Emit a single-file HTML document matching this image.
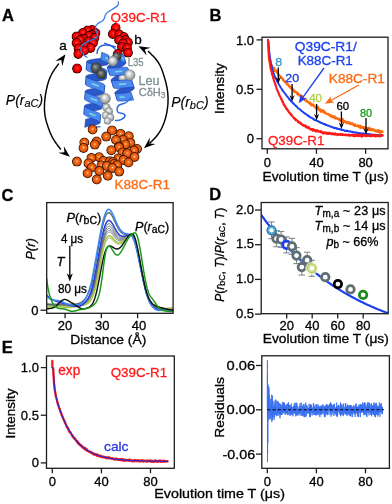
<!DOCTYPE html>
<html><head><meta charset="utf-8"><style>
html,body{margin:0;padding:0;background:#fff;}
svg{display:block;will-change:transform;}
</style></head><body>
<svg width="392" height="504" viewBox="0 0 392 504" font-family="Liberation Sans, sans-serif">
<defs><radialGradient id="gR" cx="0.5" cy="0.5" r="0.5" fx="0.55" fy="0.42"><stop offset="0" stop-color="#ff4a4a"/><stop offset="0.35" stop-color="#ff0808"/><stop offset="0.7" stop-color="#e00000"/><stop offset="0.84" stop-color="#8a0000"/><stop offset="0.94" stop-color="#280000"/><stop offset="1" stop-color="#200000" stop-opacity="0.6"/></radialGradient>
<radialGradient id="gO" cx="0.5" cy="0.5" r="0.5" fx="0.5" fy="0.45"><stop offset="0" stop-color="#ffe0c8"/><stop offset="0.14" stop-color="#ff9650"/><stop offset="0.32" stop-color="#f06818"/><stop offset="0.68" stop-color="#e25a10"/><stop offset="0.8" stop-color="#a03800"/><stop offset="0.92" stop-color="#3a1400"/><stop offset="1" stop-color="#201000" stop-opacity="0.6"/></radialGradient>
<radialGradient id="gW" cx="0.5" cy="0.5" r="0.55" fx="0.4" fy="0.35"><stop offset="0" stop-color="#ffffff"/><stop offset="0.4" stop-color="#d0d4d4"/><stop offset="0.85" stop-color="#8a9090"/><stop offset="1" stop-color="#404444"/></radialGradient>
<radialGradient id="gK" cx="0.5" cy="0.5" r="0.55" fx="0.4" fy="0.35"><stop offset="0" stop-color="#a0a8a8"/><stop offset="0.4" stop-color="#606868"/><stop offset="0.85" stop-color="#353a3a"/><stop offset="1" stop-color="#202020"/></radialGradient>
<clipPath id="clipC"><rect x="46.7" y="202.6" width="126.4" height="110.7"/></clipPath><clipPath id="clipD"><rect x="261.2" y="202.5" width="127" height="111.2"/></clipPath></defs>
<rect width="392" height="504" fill="#fff"/>
<text x="209.50" y="21.00" font-size="16.5" fill="#000" stroke="#000" stroke-width="0.3" text-anchor="start" font-weight="bold">B</text>
<path d="M268.0,39.7 L268.3,46.4 L268.6,54.2 L268.9,59.0 L269.1,59.8 L269.4,61.3 L269.7,62.6 L270.0,62.5 L270.2,63.2 L270.5,63.6 L270.8,64.2 L271.0,64.3 L271.3,65.4 L271.6,65.4 L271.9,66.0 L272.1,65.7 L272.4,66.4 L272.7,67.0 L273.0,67.6 L273.2,67.7 L273.5,67.9 L273.8,68.4 L274.1,67.8 L274.3,68.4 L274.6,70.9 L274.9,70.8 L275.1,70.1 L275.4,70.6 L275.7,70.6 L276.0,70.9 L276.2,70.2 L276.5,72.4 L276.8,72.3 L277.1,71.2 L277.3,72.4 L277.6,72.7 L277.9,73.7 L278.2,74.7 L278.4,74.0 L278.7,74.4 L279.0,75.5 L279.2,75.5 L279.5,75.4 L279.8,76.3 L280.1,76.1 L280.3,76.3 L280.6,76.7 L280.9,77.3 L281.2,77.0 L281.4,77.1 L281.7,77.8 L282.0,78.7 L282.3,78.1 L282.5,79.2 L282.8,78.7 L283.1,80.1 L283.3,79.2 L283.6,80.1 L283.9,81.1 L284.2,80.9 L284.4,81.0 L284.7,81.1 L285.0,82.2 L285.3,82.5 L285.5,82.0 L285.8,82.7 L286.1,82.6 L286.4,82.6 L286.6,84.3 L286.9,83.5 L287.2,83.2 L287.4,84.3 L287.7,84.9 L288.0,84.3 L288.3,84.9 L288.5,84.8 L288.8,85.8 L289.1,86.7 L289.4,86.2 L289.6,86.6 L289.9,86.2 L290.2,86.8 L290.5,88.2 L290.7,88.2 L291.0,87.2 L291.3,87.6 L291.5,88.6 L291.8,88.5 L292.1,88.5 L292.4,88.8 L292.6,88.8 L292.9,89.4 L293.2,89.9 L293.5,90.2 L293.7,89.7 L294.0,91.9 L294.3,90.9 L294.6,91.0 L294.8,92.2 L295.1,91.4 L295.4,92.2 L295.6,91.5 L295.9,92.4 L296.2,92.1 L296.5,92.1 L296.7,92.8 L297.0,93.8 L297.3,94.4 L297.6,92.7 L297.8,94.0 L298.1,94.6 L298.4,94.3 L298.7,94.8 L298.9,94.4 L299.2,95.1 L299.5,95.3 L299.7,96.0 L300.0,95.5 L300.3,96.6 L300.6,95.9 L300.8,95.6 L301.1,97.6 L301.4,98.4 L301.7,96.8 L301.9,95.9 L302.2,98.2 L302.5,98.5 L302.8,97.7 L303.0,98.7 L303.3,98.7 L303.6,98.9 L303.8,98.6 L304.1,99.3 L304.4,99.1 L304.7,99.6 L304.9,100.2 L305.2,100.1 L305.5,100.7 L305.8,100.3 L306.0,101.2 L306.3,101.4 L306.6,100.1 L306.9,101.2 L307.1,101.4 L307.4,101.2 L307.7,102.0 L307.9,102.1 L308.2,101.9 L308.5,102.2 L308.8,103.2 L309.0,102.2 L309.3,103.3 L309.6,103.7 L309.9,103.8 L310.1,103.7 L310.4,102.7 L310.7,104.6 L311.0,104.0 L311.2,105.5 L311.5,104.4 L311.8,104.1 L312.1,104.9 L312.3,105.3 L312.6,105.0 L312.9,104.9 L313.1,105.1 L313.4,104.5 L313.7,105.8 L314.0,106.4 L314.2,106.3 L314.5,106.5 L314.8,106.5 L315.1,106.8 L315.3,106.8 L315.6,108.1 L315.9,106.8 L316.2,107.8 L316.4,108.3 L316.7,107.4 L317.0,107.2 L317.2,107.8 L317.5,108.2 L317.8,109.0 L318.1,106.9 L318.3,108.3 L318.6,109.6 L318.9,109.6 L319.2,109.2 L319.4,110.4 L319.7,109.5 L320.0,110.0 L320.3,109.2 L320.5,109.5 L320.8,111.8 L321.1,110.4 L321.3,111.5 L321.6,110.0 L321.9,110.8 L322.2,110.7 L322.4,111.8 L322.7,110.2 L323.0,110.3 L323.3,112.3 L323.5,111.6 L323.8,112.3 L324.1,112.1 L324.4,113.0 L324.6,111.3 L324.9,113.1 L325.2,112.8 L325.4,112.5 L325.7,113.3 L326.0,113.2 L326.3,113.6 L326.5,113.5 L326.8,114.2 L327.1,113.9 L327.4,113.9 L327.6,114.1 L327.9,114.1 L328.2,114.4 L328.5,113.9 L328.7,114.7 L329.0,114.7 L329.3,115.2 L329.5,115.2 L329.8,115.8 L330.1,114.9 L330.4,116.0 L330.6,115.9 L330.9,115.4 L331.2,115.5 L331.5,116.1 L331.7,117.2 L332.0,115.9 L332.3,116.1 L332.6,117.2 L332.8,116.0 L333.1,117.0 L333.4,117.4 L333.6,116.8 L333.9,117.1 L334.2,117.0 L334.5,118.2 L334.7,116.3 L335.0,117.8 L335.3,118.5 L335.6,117.4 L335.8,118.1 L336.1,117.8 L336.4,118.3 L336.7,118.3 L336.9,118.2 L337.2,118.9 L337.5,118.2 L337.7,119.0 L338.0,119.3 L338.3,118.9 L338.6,118.8 L338.8,119.3 L339.1,119.8 L339.4,119.0 L339.7,120.5 L339.9,120.2 L340.2,119.7 L340.5,120.6 L340.8,119.9 L341.0,120.1 L341.3,119.6 L341.6,120.8 L341.8,120.8 L342.1,120.3 L342.4,122.1 L342.7,118.9 L342.9,121.2 L343.2,121.4 L343.5,120.5 L343.8,121.2 L344.0,122.3 L344.3,121.0 L344.6,120.9 L344.9,121.8 L345.1,121.8 L345.4,121.5 L345.7,122.4 L345.9,121.7 L346.2,122.0 L346.5,122.6 L346.8,123.1 L347.0,122.5 L347.3,123.0 L347.6,122.0 L347.9,122.6 L348.1,122.3 L348.4,122.8 L348.7,122.8 L349.0,123.5 L349.2,122.8 L349.5,122.2 L349.8,123.5 L350.0,123.8 L350.3,123.6 L350.6,123.9 L350.9,124.1 L351.1,123.7 L351.4,124.1 L351.7,123.1 L352.0,124.1 L352.2,124.0 L352.5,123.7 L352.8,124.5 L353.1,123.6 L353.3,124.9 L353.6,125.1 L353.9,124.9 L354.1,124.9 L354.4,125.7 L354.7,125.0 L355.0,126.1 L355.2,124.3 L355.5,125.3 L355.8,125.7 L356.1,126.0 L356.3,125.7 L356.6,125.7 L356.9,126.3 L357.2,126.3 L357.4,125.9 L357.7,126.2 L358.0,125.4 L358.3,125.4 L358.5,126.2 L358.8,126.0 L359.1,127.1 L359.3,126.0 L359.6,126.5 L359.9,126.3 L360.2,125.7 L360.4,128.1 L360.7,126.7 L361.0,127.5 L361.3,126.6 L361.5,127.8 L361.8,127.4 L362.1,127.1 L362.4,126.9 L362.6,127.3 L362.9,127.9 L363.2,127.8 L363.4,127.0 L363.7,127.6 L364.0,128.7 L364.3,127.3 L364.5,127.6 L364.8,127.4 L365.1,128.2 L365.4,127.6 L365.6,128.8 L365.9,127.9 L366.2,128.6 L366.5,128.0 L366.7,127.8 L367.0,129.0 L367.3,128.6 L367.5,128.6 L367.8,128.0 L368.1,128.4 L368.4,129.6 L368.6,128.7 L368.9,128.6 L369.2,127.8 L369.5,130.1 L369.7,129.5 L370.0,128.5 L370.3,130.1 L370.6,130.1 L370.8,129.2 L371.1,128.9 L371.4,130.0 L371.6,129.3 L371.9,129.7 L372.2,128.9 L372.5,129.9 L372.7,129.3 L373.0,130.5 L373.3,130.2 L373.6,130.2 L373.8,129.5 L374.1,129.9 L374.4,130.7 L374.7,130.0 L374.9,130.0 L375.2,130.5 L375.5,130.7 L375.7,130.7 L376.0,131.7 L376.3,130.6 L376.6,130.6 L376.8,131.4 L377.1,130.5 L377.4,131.8 L377.7,131.3 L377.9,131.4 L378.2,130.0 L378.5,132.1 L378.8,130.9 L379.0,130.8 L379.3,131.1 L379.6,130.7 L379.8,132.1 L380.1,132.9 L380.4,131.1 L380.7,132.4 L380.9,131.9 L381.2,132.5 L381.5,131.2 L381.8,131.4 L382.0,132.3 L382.3,131.4 L382.6,132.0" fill="none" stroke="#ff6a10" stroke-width="2.1" stroke-linejoin="round" stroke-linecap="round" />
<path d="M268.0,39.9 L268.3,41.7 L268.6,44.9 L268.9,47.6 L269.1,50.2 L269.4,52.7 L269.7,54.7 L270.0,56.9 L270.2,58.6 L270.5,60.3 L270.8,61.7 L271.0,63.4 L271.3,64.5 L271.6,65.9 L271.9,67.2 L272.1,68.4 L272.4,69.2 L272.7,70.3 L273.0,71.4 L273.2,72.2 L273.5,73.0 L273.8,73.8 L274.1,74.3 L274.3,75.0 L274.6,75.8 L274.9,76.5 L275.1,77.3 L275.4,77.8 L275.7,78.3 L276.0,78.7 L276.2,79.5 L276.5,80.2 L276.8,80.7 L277.1,81.3 L277.3,81.9 L277.6,82.3 L277.9,82.8 L278.2,83.0 L278.4,83.7 L278.7,84.0 L279.0,84.4 L279.2,85.1 L279.5,85.4 L279.8,85.9 L280.1,86.6 L280.3,86.9 L280.6,87.3 L280.9,87.8 L281.2,88.2 L281.4,88.6 L281.7,89.0 L282.0,89.6 L282.3,89.8 L282.5,90.4 L282.8,90.6 L283.1,90.9 L283.3,91.4 L283.6,91.7 L283.9,92.1 L284.2,92.6 L284.4,92.9 L284.7,93.2 L285.0,93.5 L285.3,93.9 L285.5,94.0 L285.8,94.7 L286.1,94.9 L286.4,95.2 L286.6,95.8 L286.9,96.2 L287.2,96.6 L287.4,96.7 L287.7,96.9 L288.0,97.4 L288.3,97.7 L288.5,98.1 L288.8,98.3 L289.1,99.1 L289.4,99.0 L289.6,99.4 L289.9,99.9 L290.2,99.7 L290.5,100.5 L290.7,100.8 L291.0,101.1 L291.3,101.0 L291.5,101.6 L291.8,101.7 L292.1,102.0 L292.4,102.3 L292.6,102.9 L292.9,103.0 L293.2,103.0 L293.5,103.7 L293.7,103.9 L294.0,104.1 L294.3,104.2 L294.6,104.6 L294.8,104.8 L295.1,105.3 L295.4,105.3 L295.6,105.6 L295.9,106.2 L296.2,106.0 L296.5,106.1 L296.7,106.8 L297.0,107.0 L297.3,107.0 L297.6,107.7 L297.8,108.0 L298.1,108.2 L298.4,108.3 L298.7,108.5 L298.9,108.6 L299.2,108.9 L299.5,109.3 L299.7,109.3 L300.0,109.3 L300.3,109.7 L300.6,109.9 L300.8,110.3 L301.1,110.4 L301.4,110.9 L301.7,110.9 L301.9,111.2 L302.2,111.2 L302.5,111.6 L302.8,112.0 L303.0,112.0 L303.3,112.1 L303.6,112.6 L303.8,112.8 L304.1,113.0 L304.4,113.3 L304.7,113.1 L304.9,113.3 L305.2,113.6 L305.5,113.8 L305.8,114.1 L306.0,114.2 L306.3,114.6 L306.6,114.5 L306.9,114.7 L307.1,114.9 L307.4,115.3 L307.7,115.4 L307.9,115.6 L308.2,115.5 L308.5,115.9 L308.8,116.4 L309.0,116.2 L309.3,116.2 L309.6,116.5 L309.9,116.7 L310.1,117.0 L310.4,117.4 L310.7,117.6 L311.0,117.7 L311.2,117.7 L311.5,117.8 L311.8,117.9 L312.1,118.2 L312.3,118.2 L312.6,118.5 L312.9,118.7 L313.1,118.6 L313.4,119.1 L313.7,119.5 L314.0,119.4 L314.2,119.4 L314.5,120.0 L314.8,119.7 L315.1,119.9 L315.3,120.2 L315.6,120.3 L315.9,120.3 L316.2,120.5 L316.4,120.4 L316.7,120.6 L317.0,121.1 L317.2,121.1 L317.5,121.0 L317.8,121.0 L318.1,121.3 L318.3,121.5 L318.6,121.4 L318.9,121.8 L319.2,122.0 L319.4,122.3 L319.7,122.2 L320.0,122.0 L320.3,122.6 L320.5,122.5 L320.8,122.9 L321.1,122.8 L321.3,122.8 L321.6,123.1 L321.9,123.1 L322.2,123.2 L322.4,123.3 L322.7,123.3 L323.0,123.5 L323.3,123.8 L323.5,124.0 L323.8,124.1 L324.1,124.0 L324.4,124.3 L324.6,123.9 L324.9,124.2 L325.2,124.6 L325.4,124.7 L325.7,124.5 L326.0,125.1 L326.3,125.0 L326.5,124.9 L326.8,125.3 L327.1,125.3 L327.4,125.4 L327.6,125.4 L327.9,125.6 L328.2,125.6 L328.5,125.7 L328.7,125.9 L329.0,125.8 L329.3,126.2 L329.5,126.4 L329.8,126.5 L330.1,126.6 L330.4,126.5 L330.6,126.4 L330.9,126.6 L331.2,126.8 L331.5,127.0 L331.7,127.0 L332.0,127.1 L332.3,127.2 L332.6,127.4 L332.8,127.3 L333.1,127.2 L333.4,127.8 L333.6,127.6 L333.9,127.9 L334.2,127.7 L334.5,127.9 L334.7,128.2 L335.0,127.9 L335.3,127.7 L335.6,128.1 L335.8,128.0 L336.1,128.3 L336.4,128.7 L336.7,128.3 L336.9,128.5 L337.2,128.8 L337.5,128.5 L337.7,128.7 L338.0,128.9 L338.3,128.7 L338.6,129.1 L338.8,128.9 L339.1,129.2 L339.4,129.1 L339.7,129.4 L339.9,129.1 L340.2,129.3 L340.5,129.2 L340.8,129.6 L341.0,129.6 L341.3,129.5 L341.6,130.1 L341.8,129.9 L342.1,129.7 L342.4,129.8 L342.7,129.8 L342.9,130.1 L343.2,130.0 L343.5,130.3 L343.8,130.4 L344.0,130.5 L344.3,130.4 L344.6,130.5 L344.9,130.6 L345.1,131.1 L345.4,130.9 L345.7,130.7 L345.9,130.7 L346.2,130.9 L346.5,131.0 L346.8,131.2 L347.0,130.6 L347.3,131.2 L347.6,130.8 L347.9,130.9 L348.1,131.1 L348.4,131.3 L348.7,131.3 L349.0,131.5 L349.2,131.3 L349.5,131.4 L349.8,131.4 L350.0,131.4 L350.3,131.3 L350.6,131.7 L350.9,131.5 L351.1,131.9 L351.4,131.9 L351.7,131.9 L352.0,132.0 L352.2,131.8 L352.5,131.8 L352.8,131.8 L353.1,132.1 L353.3,132.1 L353.6,132.3 L353.9,132.4 L354.1,132.2 L354.4,132.3 L354.7,132.5 L355.0,132.3 L355.2,132.7 L355.5,132.5 L355.8,132.6 L356.1,132.7 L356.3,132.8 L356.6,132.5 L356.9,132.6 L357.2,132.6 L357.4,132.8 L357.7,133.0 L358.0,132.9 L358.3,133.1 L358.5,132.9 L358.8,132.8 L359.1,133.0 L359.3,133.2 L359.6,133.2 L359.9,133.1 L360.2,133.4 L360.4,133.2 L360.7,133.2 L361.0,133.4 L361.3,133.4 L361.5,133.4 L361.8,133.5 L362.1,133.6 L362.4,133.4 L362.6,133.5 L362.9,133.3 L363.2,133.7 L363.4,133.9 L363.7,133.5 L364.0,133.6 L364.3,133.8 L364.5,134.0 L364.8,133.8 L365.1,134.1 L365.4,133.9 L365.6,134.2 L365.9,134.0 L366.2,134.3 L366.5,134.0 L366.7,133.8 L367.0,134.1 L367.3,134.0 L367.5,134.2 L367.8,134.3 L368.1,134.4 L368.4,134.1 L368.6,134.3 L368.9,134.0 L369.2,134.5 L369.5,134.4 L369.7,134.4 L370.0,134.2 L370.3,134.2 L370.6,134.6 L370.8,134.7 L371.1,134.8 L371.4,134.3 L371.6,134.6 L371.9,134.7 L372.2,134.6 L372.5,135.0 L372.7,134.9 L373.0,134.6 L373.3,134.7 L373.6,134.7 L373.8,134.9 L374.1,134.7 L374.4,134.6 L374.7,135.0 L374.9,134.9 L375.2,135.0 L375.5,134.9 L375.7,135.0 L376.0,135.0 L376.3,135.1 L376.6,135.0 L376.8,135.1 L377.1,135.1 L377.4,135.1 L377.7,135.0 L377.9,135.2 L378.2,135.2 L378.5,135.0 L378.8,135.2 L379.0,135.3 L379.3,135.1 L379.6,135.2 L379.8,135.3 L380.1,135.3 L380.4,135.5 L380.7,135.3 L380.9,135.2 L381.2,135.3 L381.5,135.6 L381.8,135.4 L382.0,135.6 L382.3,135.5 L382.6,135.5" fill="none" stroke="#1a3ff0" stroke-width="1.9" stroke-linejoin="round" stroke-linecap="round" />
<path d="M268.0,40.4 L268.3,42.9 L268.6,48.9 L268.9,52.8 L269.1,56.3 L269.4,58.9 L269.7,61.4 L270.0,64.5 L270.2,65.7 L270.5,68.1 L270.8,68.9 L271.0,69.7 L271.3,70.9 L271.6,71.8 L271.9,73.6 L272.1,74.3 L272.4,75.4 L272.7,75.9 L273.0,76.7 L273.2,78.4 L273.5,77.7 L273.8,80.1 L274.1,81.1 L274.3,81.5 L274.6,82.3 L274.9,83.2 L275.1,84.4 L275.4,84.4 L275.7,85.7 L276.0,85.9 L276.2,86.7 L276.5,88.5 L276.8,89.1 L277.1,89.8 L277.3,90.0 L277.6,90.8 L277.9,91.4 L278.2,92.5 L278.4,92.7 L278.7,92.9 L279.0,94.7 L279.2,94.8 L279.5,95.3 L279.8,96.0 L280.1,96.7 L280.3,96.5 L280.6,97.3 L280.9,98.0 L281.2,99.2 L281.4,98.6 L281.7,99.9 L282.0,100.8 L282.3,101.2 L282.5,101.8 L282.8,101.3 L283.1,102.6 L283.3,103.1 L283.6,104.5 L283.9,103.9 L284.2,105.1 L284.4,105.6 L284.7,105.3 L285.0,106.4 L285.3,106.2 L285.5,106.5 L285.8,108.1 L286.1,107.9 L286.4,108.8 L286.6,108.7 L286.9,108.7 L287.2,110.0 L287.4,109.2 L287.7,110.4 L288.0,111.1 L288.3,111.1 L288.5,111.1 L288.8,112.3 L289.1,112.1 L289.4,113.0 L289.6,112.4 L289.9,113.1 L290.2,113.7 L290.5,113.5 L290.7,114.7 L291.0,114.7 L291.3,114.1 L291.5,115.2 L291.8,115.0 L292.1,115.7 L292.4,116.4 L292.6,116.5 L292.9,116.7 L293.2,117.2 L293.5,117.6 L293.7,117.9 L294.0,118.4 L294.3,118.1 L294.6,118.2 L294.8,118.4 L295.1,119.6 L295.4,118.9 L295.6,119.4 L295.9,120.3 L296.2,119.9 L296.5,119.9 L296.7,120.2 L297.0,120.4 L297.3,120.5 L297.6,120.8 L297.8,121.4 L298.1,122.4 L298.4,122.1 L298.7,121.9 L298.9,122.4 L299.2,122.1 L299.5,122.3 L299.7,122.8 L300.0,122.3 L300.3,123.6 L300.6,123.0 L300.8,123.8 L301.1,124.1 L301.4,123.7 L301.7,124.4 L301.9,124.0 L302.2,125.0 L302.5,124.7 L302.8,125.2 L303.0,125.1 L303.3,125.3 L303.6,125.8 L303.8,125.2 L304.1,126.2 L304.4,126.2 L304.7,125.6 L304.9,125.7 L305.2,126.0 L305.5,126.3 L305.8,125.7 L306.0,127.2 L306.3,127.1 L306.6,127.4 L306.9,126.8 L307.1,127.1 L307.4,126.9 L307.7,127.1 L307.9,127.7 L308.2,128.1 L308.5,128.3 L308.8,127.1 L309.0,127.8 L309.3,128.0 L309.6,128.5 L309.9,128.6 L310.1,128.7 L310.4,128.8 L310.7,129.8 L311.0,129.0 L311.2,129.2 L311.5,129.0 L311.8,129.2 L312.1,129.0 L312.3,129.5 L312.6,129.2 L312.9,130.7 L313.1,130.2 L313.4,129.2 L313.7,130.4 L314.0,130.1 L314.2,129.8 L314.5,130.5 L314.8,130.0 L315.1,130.9 L315.3,131.2 L315.6,131.1 L315.9,131.3 L316.2,130.7 L316.4,130.9 L316.7,130.7 L317.0,131.4 L317.2,130.0 L317.5,131.1 L317.8,131.2 L318.1,131.1 L318.3,131.4 L318.6,131.6 L318.9,131.4 L319.2,131.2 L319.4,131.3 L319.7,131.3 L320.0,131.9 L320.3,132.1 L320.5,131.1 L320.8,132.0 L321.1,131.8 L321.3,131.7 L321.6,131.5 L321.9,132.7 L322.2,132.4 L322.4,132.4 L322.7,132.4 L323.0,133.3 L323.3,132.5 L323.5,133.6 L323.8,132.4 L324.1,132.4 L324.4,132.4 L324.6,133.2 L324.9,132.4 L325.2,133.1 L325.4,133.3 L325.7,133.3 L326.0,133.3 L326.3,132.9 L326.5,132.7 L326.8,133.9 L327.1,133.3 L327.4,132.8 L327.6,133.1 L327.9,133.0 L328.2,133.9 L328.5,132.9 L328.7,134.0 L329.0,133.3 L329.3,132.9 L329.5,132.7 L329.8,133.3 L330.1,133.2 L330.4,133.8 L330.6,133.8 L330.9,133.2 L331.2,133.7 L331.5,133.8 L331.7,134.3 L332.0,133.7 L332.3,133.6 L332.6,134.2 L332.8,134.1 L333.1,133.3 L333.4,133.9 L333.6,134.1 L333.9,134.5 L334.2,134.3 L334.5,134.2 L334.7,133.6 L335.0,134.4 L335.3,133.5 L335.6,134.6 L335.8,134.4 L336.1,133.9 L336.4,134.4 L336.7,134.6 L336.9,134.4 L337.2,134.2 L337.5,135.1 L337.7,134.5 L338.0,134.5 L338.3,134.6 L338.6,134.2 L338.8,134.7 L339.1,134.7 L339.4,134.5 L339.7,134.3 L339.9,134.7 L340.2,134.0 L340.5,135.0 L340.8,134.1 L341.0,135.0 L341.3,134.8 L341.6,134.6 L341.8,133.9 L342.1,134.4 L342.4,134.9 L342.7,134.3 L342.9,134.9 L343.2,135.1 L343.5,134.7 L343.8,134.8 L344.0,134.5 L344.3,135.1 L344.6,134.8 L344.9,134.7 L345.1,134.8 L345.4,135.0 L345.7,135.2 L345.9,134.6 L346.2,134.9 L346.5,134.8 L346.8,135.2 L347.0,135.0 L347.3,135.5 L347.6,135.0 L347.9,134.8 L348.1,135.1 L348.4,134.8 L348.7,135.0 L349.0,134.6 L349.2,135.2 L349.5,135.8 L349.8,135.0 L350.0,135.3 L350.3,135.6 L350.6,135.0 L350.9,135.1 L351.1,135.1 L351.4,135.4 L351.7,135.2 L352.0,135.2 L352.2,134.6 L352.5,135.6 L352.8,135.3 L353.1,135.2 L353.3,136.0 L353.6,136.0 L353.9,134.5 L354.1,136.1 L354.4,135.1 L354.7,135.7 L355.0,135.7 L355.2,136.2 L355.5,135.8 L355.8,135.1 L356.1,136.0 L356.3,135.2 L356.6,135.3 L356.9,134.6 L357.2,135.6 L357.4,135.0 L357.7,135.1 L358.0,135.6 L358.3,136.1 L358.5,134.9 L358.8,136.0 L359.1,135.7 L359.3,135.2 L359.6,135.1 L359.9,135.9 L360.2,135.5 L360.4,135.6 L360.7,135.1 L361.0,134.6 L361.3,136.3 L361.5,135.2 L361.8,136.7 L362.1,135.6 L362.4,136.0 L362.6,134.8 L362.9,135.5 L363.2,135.9 L363.4,135.8 L363.7,135.8 L364.0,135.5 L364.3,135.7 L364.5,135.4 L364.8,135.0 L365.1,135.4 L365.4,136.1 L365.6,136.3 L365.9,136.0 L366.2,135.2 L366.5,135.8 L366.7,135.9 L367.0,135.6 L367.3,136.2 L367.5,136.1 L367.8,135.5 L368.1,135.8 L368.4,135.9 L368.6,135.6 L368.9,135.9 L369.2,136.0 L369.5,135.9 L369.7,135.5 L370.0,135.7 L370.3,136.2 L370.6,135.9 L370.8,135.5 L371.1,135.0 L371.4,136.2 L371.6,135.6 L371.9,135.9 L372.2,135.4 L372.5,135.6 L372.7,135.2 L373.0,135.6 L373.3,136.0 L373.6,136.0 L373.8,135.6 L374.1,135.6 L374.4,134.8 L374.7,135.1 L374.9,136.3 L375.2,135.7 L375.5,136.3 L375.7,136.5 L376.0,135.5 L376.3,135.6 L376.6,136.2 L376.8,135.2 L377.1,136.2 L377.4,136.3 L377.7,135.6 L377.9,135.7 L378.2,135.9 L378.5,135.9 L378.8,135.7 L379.0,135.9 L379.3,135.9 L379.6,136.6 L379.8,136.4 L380.1,135.6 L380.4,136.1 L380.7,135.6 L380.9,135.4 L381.2,136.0 L381.5,135.7 L381.8,135.0 L382.0,135.6 L382.3,135.1 L382.6,135.3" fill="none" stroke="#ff1a1a" stroke-width="2.1" stroke-linejoin="round" stroke-linecap="round" />
<rect x="262" y="37.2" width="126" height="111.60000000000001" fill="none" stroke="#1e1e1e" stroke-width="1.3"/>
<line x1="256.50" y1="39.90" x2="262.00" y2="39.90" stroke="#1e1e1e" stroke-width="1.3" />
<text x="254.00" y="44.50" font-size="13" fill="#000" stroke="#000" stroke-width="0.3" text-anchor="end" >1.0</text>
<line x1="256.50" y1="89.30" x2="262.00" y2="89.30" stroke="#1e1e1e" stroke-width="1.3" />
<text x="254.00" y="93.90" font-size="13" fill="#000" stroke="#000" stroke-width="0.3" text-anchor="end" >0.5</text>
<line x1="256.50" y1="138.70" x2="262.00" y2="138.70" stroke="#1e1e1e" stroke-width="1.3" />
<text x="254.00" y="143.30" font-size="13" fill="#000" stroke="#000" stroke-width="0.3" text-anchor="end" >0</text>
<line x1="267.30" y1="148.80" x2="267.30" y2="153.80" stroke="#1e1e1e" stroke-width="1.3" />
<text x="267.30" y="167.00" font-size="13" fill="#000" stroke="#000" stroke-width="0.3" text-anchor="middle" >0</text>
<line x1="316.46" y1="148.80" x2="316.46" y2="153.80" stroke="#1e1e1e" stroke-width="1.3" />
<text x="316.46" y="167.00" font-size="13" fill="#000" stroke="#000" stroke-width="0.3" text-anchor="middle" >40</text>
<line x1="365.62" y1="148.80" x2="365.62" y2="153.80" stroke="#1e1e1e" stroke-width="1.3" />
<text x="365.62" y="167.00" font-size="13" fill="#000" stroke="#000" stroke-width="0.3" text-anchor="middle" >80</text>
<text x="262.50" y="180.80" font-size="13" fill="#000" stroke="#000" stroke-width="0.3" text-anchor="start" textLength="126" lengthAdjust="spacingAndGlyphs" >Evolution time T (μs)</text>
<text transform="translate(223.8,88.6) rotate(-90)" font-size="13" text-anchor="middle" fill="#000" textLength="51" lengthAdjust="spacingAndGlyphs" stroke="#000" stroke-width="0.3">Intensity</text>
<line x1="278.30" y1="67.50" x2="278.30" y2="79.10" stroke="#000" stroke-width="1.3" />
<path d="M278.30,83.60 L275.70,77.10 L278.30,79.30 L280.90,77.10 Z" fill="#000"/>
<line x1="292.10" y1="84.00" x2="292.10" y2="97.10" stroke="#000" stroke-width="1.3" />
<path d="M292.10,101.60 L289.50,95.10 L292.10,97.30 L294.70,95.10 Z" fill="#000"/>
<line x1="316.60" y1="104.00" x2="316.60" y2="115.70" stroke="#000" stroke-width="1.3" />
<path d="M316.60,120.20 L314.00,113.70 L316.60,115.90 L319.20,113.70 Z" fill="#000"/>
<line x1="341.40" y1="111.50" x2="341.40" y2="124.60" stroke="#000" stroke-width="1.3" />
<path d="M341.40,129.10 L338.80,122.60 L341.40,124.80 L344.00,122.60 Z" fill="#000"/>
<line x1="366.00" y1="118.00" x2="366.00" y2="130.00" stroke="#000" stroke-width="1.3" />
<path d="M366.00,134.50 L363.40,128.00 L366.00,130.20 L368.60,128.00 Z" fill="#000"/>
<text x="275.20" y="65.70" font-size="11" fill="#3a9ad0" stroke="#3a9ad0" stroke-width="0.3" text-anchor="start" textLength="7" lengthAdjust="spacingAndGlyphs" >8</text>
<text x="285.30" y="82.00" font-size="11" fill="#2040e0" stroke="#2040e0" stroke-width="0.3" text-anchor="start" textLength="13.8" lengthAdjust="spacingAndGlyphs" >20</text>
<text x="309.20" y="102.40" font-size="11" fill="#b0d040" stroke="#b0d040" stroke-width="0.3" text-anchor="start" textLength="12.8" lengthAdjust="spacingAndGlyphs" >40</text>
<text x="336.40" y="110.20" font-size="11" fill="#000" stroke="#000" stroke-width="0.3" text-anchor="start" textLength="12.7" lengthAdjust="spacingAndGlyphs" >60</text>
<text x="359.90" y="116.80" font-size="11" fill="#1a9a1a" stroke="#1a9a1a" stroke-width="0.3" text-anchor="start" textLength="12.2" lengthAdjust="spacingAndGlyphs" >80</text>
<text x="294.80" y="51.30" font-size="13.3" fill="#1a3ff0" stroke="#1a3ff0" stroke-width="0.3" text-anchor="start" textLength="62" lengthAdjust="spacingAndGlyphs" >Q39C-R1/</text>
<text x="297.70" y="64.50" font-size="13.3" fill="#1a3ff0" stroke="#1a3ff0" stroke-width="0.3" text-anchor="start" textLength="55.1" lengthAdjust="spacingAndGlyphs" >K88C-R1</text>
<text x="328.80" y="83.20" font-size="12.8" fill="#ff6a10" stroke="#ff6a10" stroke-width="0.3" text-anchor="start" textLength="56" lengthAdjust="spacingAndGlyphs" >K88C-R1</text>
<text x="268.00" y="144.70" font-size="13.5" fill="#ff1a1a" stroke="#ff1a1a" stroke-width="0.3" text-anchor="start" textLength="56.3" lengthAdjust="spacingAndGlyphs" >Q39C-R1</text>
<line x1="324.00" y1="68.00" x2="302.70" y2="97.52" stroke="#1a3ff0" stroke-width="1.3" />
<path d="M298.60,103.20 L300.95,93.80 L302.58,97.69 L306.79,98.01 Z" fill="#1a3ff0"/>
<line x1="358.80" y1="85.00" x2="330.93" y2="100.41" stroke="#ff6a10" stroke-width="1.2" />
<path d="M324.80,103.80 L330.93,96.29 L330.75,100.51 L334.42,102.60 Z" fill="#ff6a10"/>
<text x="1.50" y="200.50" font-size="16.5" fill="#000" stroke="#000" stroke-width="0.3" text-anchor="start" font-weight="bold">C</text>
<path d="M46.6,305.4 L47.0,305.5 L47.4,305.6 L47.8,305.7 L48.2,305.8 L48.6,305.9 L49.0,305.9 L49.4,306.0 L49.8,306.0 L50.2,306.1 L50.6,306.1 L51.0,306.2 L51.4,306.2 L51.8,306.2 L52.2,306.1 L52.6,306.1 L53.0,306.1 L53.4,306.0 L53.8,306.0 L54.2,305.9 L54.6,305.8 L55.0,305.7 L55.4,305.6 L55.8,305.5 L56.2,305.4 L56.6,305.3 L57.0,305.2 L57.4,305.0 L57.7,304.9 L58.1,304.8 L58.5,304.6 L58.9,304.5 L59.3,304.4 L59.7,304.3 L60.1,304.3 L60.5,304.2 L60.9,304.1 L61.3,304.0 L61.7,304.0 L62.1,304.0 L62.5,303.9 L62.9,303.9 L63.3,303.9 L63.7,303.9 L64.1,303.9 L64.5,303.9 L64.9,304.0 L65.3,304.0 L65.7,304.1 L66.1,304.1 L66.5,304.1 L66.9,304.1 L67.3,304.2 L67.7,304.2 L68.1,304.2 L68.5,304.3 L68.9,304.3 L69.3,304.4 L69.7,304.4 L70.1,304.4 L70.5,304.4 L70.9,304.4 L71.3,304.4 L71.7,304.3 L72.1,304.3 L72.5,304.3 L72.9,304.3 L73.3,304.3 L73.7,304.3 L74.1,304.3 L74.5,304.3 L74.9,304.3 L75.2,304.3 L75.6,304.2 L76.0,304.2 L76.4,304.2 L76.8,304.2 L77.2,304.2 L77.6,304.3 L78.0,304.3 L78.4,304.2 L78.8,304.2 L79.2,304.2 L79.6,304.2 L80.0,304.2 L80.4,304.3 L80.8,304.3 L81.2,304.2 L81.6,304.2 L82.0,304.1 L82.4,304.1 L82.8,304.0 L83.2,303.9 L83.6,303.8 L84.0,303.7 L84.4,303.6 L84.8,303.5 L85.2,303.3 L85.6,303.1 L86.0,302.9 L86.4,302.7 L86.8,302.4 L87.2,302.2 L87.6,301.8 L88.0,301.5 L88.4,301.1 L88.8,300.6 L89.2,300.1 L89.6,299.6 L90.0,298.9 L90.4,298.3 L90.8,297.6 L91.2,296.8 L91.6,296.0 L92.0,295.1 L92.4,294.1 L92.7,293.1 L93.1,292.0 L93.5,290.8 L93.9,289.6 L94.3,288.3 L94.7,287.0 L95.1,285.6 L95.5,283.9 L95.9,282.0 L96.3,280.0 L96.7,278.0 L97.1,276.0 L97.5,273.8 L97.9,271.7 L98.3,269.5 L98.7,267.3 L99.1,265.1 L99.5,262.9 L99.9,260.7 L100.3,258.5 L100.7,256.4 L101.1,254.3 L101.5,252.2 L101.9,250.2 L102.3,248.3 L102.7,246.4 L103.1,244.7 L103.5,243.0 L103.9,241.5 L104.3,240.0 L104.7,238.7 L105.1,237.5 L105.5,236.5 L105.9,235.5 L106.3,234.7 L106.7,234.1 L107.1,233.5 L107.5,233.0 L107.9,232.7 L108.3,232.4 L108.7,232.2 L109.1,232.2 L109.5,232.2 L109.9,232.3 L110.2,232.4 L110.6,232.7 L111.0,233.0 L111.4,233.3 L111.8,233.7 L112.2,234.1 L112.6,234.6 L113.0,235.1 L113.4,235.6 L113.8,236.1 L114.2,236.7 L114.6,237.2 L115.0,237.7 L115.4,238.2 L115.8,238.6 L116.2,239.1 L116.6,239.5 L117.0,239.8 L117.4,240.2 L117.8,240.5 L118.2,240.7 L118.6,240.9 L119.0,241.0 L119.4,241.1 L119.8,241.2 L120.2,241.2 L120.6,241.2 L121.0,241.1 L121.4,241.0 L121.8,240.8 L122.2,240.6 L122.6,240.3 L123.0,240.1 L123.4,239.8 L123.8,239.5 L124.2,239.1 L124.6,238.8 L125.0,238.4 L125.4,238.1 L125.8,237.7 L126.2,237.4 L126.6,237.0 L127.0,236.7 L127.4,236.3 L127.7,236.0 L128.1,235.7 L128.5,235.5 L128.9,235.3 L129.3,235.1 L129.7,234.9 L130.1,234.8 L130.5,234.7 L130.9,234.7 L131.3,234.7 L131.7,234.7 L132.1,234.9 L132.5,235.1 L132.9,235.6 L133.3,236.1 L133.7,236.9 L134.1,237.7 L134.5,238.7 L134.9,239.9 L135.3,241.1 L135.7,242.5 L136.1,244.0 L136.5,245.6 L136.9,247.3 L137.3,249.1 L137.7,251.0 L138.1,252.9 L138.5,254.9 L138.9,257.0 L139.3,259.0 L139.7,261.1 L140.1,263.2 L140.5,265.4 L140.9,267.5 L141.3,269.6 L141.7,271.7 L142.1,273.7 L142.5,275.8 L142.9,277.7 L143.3,279.7 L143.7,281.6 L144.1,283.4 L144.5,285.1 L144.9,286.8 L145.2,288.3 L145.6,289.8 L146.0,291.2 L146.4,292.5 L146.8,293.8 L147.2,295.0 L147.6,296.1 L148.0,297.2 L148.4,298.2 L148.8,299.1 L149.2,300.0 L149.6,300.8 L150.0,301.5 L150.4,302.1 L150.8,302.8 L151.2,303.4 L151.6,303.9 L152.0,304.4 L152.4,304.8 L152.8,305.2 L153.2,305.6 L153.6,305.9 L154.0,306.1 L154.4,306.4 L154.8,306.6 L155.2,306.8 L155.6,307.0 L156.0,307.1 L156.4,307.2 L156.8,307.3 L157.2,307.4 L157.6,307.4 L158.0,307.5 L158.4,307.5 L158.8,307.6 L159.2,307.6 L159.6,307.7 L160.0,307.7 L160.4,307.8 L160.8,307.9 L161.2,307.9 L161.6,308.0 L162.0,308.0 L162.4,308.1 L162.7,308.1 L163.1,308.2 L163.5,308.3 L163.9,308.3 L164.3,308.4 L164.7,308.5 L165.1,308.6 L165.5,308.6 L165.9,308.6 L166.3,308.6 L166.7,308.7 L167.1,308.8 L167.5,308.8 L167.9,308.9 L168.3,308.9 L168.7,308.9 L169.1,308.9 L169.5,308.9 L169.9,308.9 L170.3,308.9 L170.7,308.9 L171.1,308.8 L171.5,308.8 L171.9,308.8 L172.3,308.8 L172.7,308.8 L173.1,308.7 L173.5,308.7" fill="none" stroke="#7a888e" stroke-width="0.95" stroke-linejoin="round" stroke-linecap="round" clip-path="url(#clipC)"/>
<path d="M46.6,303.3 L47.0,303.3 L47.4,303.3 L47.8,303.4 L48.2,303.4 L48.6,303.5 L49.0,303.5 L49.4,303.6 L49.8,303.6 L50.2,303.7 L50.6,303.7 L51.0,303.7 L51.4,303.8 L51.8,303.8 L52.2,303.8 L52.6,303.8 L53.0,303.9 L53.4,303.9 L53.8,303.9 L54.2,303.9 L54.6,303.9 L55.0,303.8 L55.4,303.8 L55.8,303.7 L56.2,303.8 L56.6,303.8 L57.0,303.8 L57.4,303.8 L57.7,303.8 L58.1,303.8 L58.5,303.8 L58.9,303.8 L59.3,303.8 L59.7,303.7 L60.1,303.8 L60.5,303.8 L60.9,303.8 L61.3,303.8 L61.7,303.8 L62.1,303.9 L62.5,304.0 L62.9,304.0 L63.3,304.1 L63.7,304.1 L64.1,304.2 L64.5,304.2 L64.9,304.3 L65.3,304.3 L65.7,304.4 L66.1,304.4 L66.5,304.5 L66.9,304.5 L67.3,304.5 L67.7,304.6 L68.1,304.6 L68.5,304.7 L68.9,304.8 L69.3,304.8 L69.7,304.8 L70.1,304.8 L70.5,304.8 L70.9,304.8 L71.3,304.9 L71.7,304.9 L72.1,304.9 L72.5,304.9 L72.9,304.9 L73.3,304.9 L73.7,304.9 L74.1,304.8 L74.5,304.8 L74.9,304.8 L75.2,304.8 L75.6,304.7 L76.0,304.8 L76.4,304.7 L76.8,304.7 L77.2,304.7 L77.6,304.7 L78.0,304.7 L78.4,304.7 L78.8,304.8 L79.2,304.8 L79.6,304.8 L80.0,304.8 L80.4,304.8 L80.8,304.8 L81.2,304.8 L81.6,304.8 L82.0,304.7 L82.4,304.7 L82.8,304.7 L83.2,304.6 L83.6,304.5 L84.0,304.3 L84.4,304.2 L84.8,304.0 L85.2,303.8 L85.6,303.6 L86.0,303.3 L86.4,302.9 L86.8,302.6 L87.2,302.2 L87.6,301.7 L88.0,301.2 L88.4,300.7 L88.8,300.0 L89.2,299.4 L89.6,298.7 L90.0,298.0 L90.4,297.2 L90.8,296.4 L91.2,295.5 L91.6,294.6 L92.0,293.7 L92.4,292.7 L92.7,291.6 L93.1,290.5 L93.5,289.4 L93.9,288.2 L94.3,287.0 L94.7,285.7 L95.1,284.0 L95.5,282.2 L95.9,280.2 L96.3,278.2 L96.7,276.2 L97.1,274.1 L97.5,271.9 L97.9,269.8 L98.3,267.6 L98.7,265.4 L99.1,263.1 L99.5,260.9 L99.9,258.7 L100.3,256.5 L100.7,254.4 L101.1,252.3 L101.5,250.2 L101.9,248.2 L102.3,246.3 L102.7,244.5 L103.1,242.7 L103.5,241.1 L103.9,239.6 L104.3,238.1 L104.7,236.8 L105.1,235.6 L105.5,234.6 L105.9,233.7 L106.3,232.9 L106.7,232.2 L107.1,231.6 L107.5,231.2 L107.9,230.8 L108.3,230.5 L108.7,230.4 L109.1,230.3 L109.5,230.4 L109.9,230.5 L110.2,230.6 L110.6,230.9 L111.0,231.2 L111.4,231.6 L111.8,232.0 L112.2,232.5 L112.6,233.0 L113.0,233.5 L113.4,234.0 L113.8,234.6 L114.2,235.1 L114.6,235.7 L115.0,236.2 L115.4,236.8 L115.8,237.3 L116.2,237.7 L116.6,238.2 L117.0,238.6 L117.4,239.0 L117.8,239.3 L118.2,239.6 L118.6,239.8 L119.0,240.0 L119.4,240.2 L119.8,240.3 L120.2,240.3 L120.6,240.3 L121.0,240.3 L121.4,240.2 L121.8,240.1 L122.2,239.9 L122.6,239.7 L123.0,239.5 L123.4,239.3 L123.8,239.0 L124.2,238.7 L124.6,238.4 L125.0,238.1 L125.4,237.8 L125.8,237.4 L126.2,237.1 L126.6,236.8 L127.0,236.5 L127.4,236.2 L127.7,235.9 L128.1,235.6 L128.5,235.4 L128.9,235.2 L129.3,235.0 L129.7,234.9 L130.1,234.8 L130.5,234.8 L130.9,234.7 L131.3,234.8 L131.7,234.8 L132.1,235.0 L132.5,235.3 L132.9,235.7 L133.3,236.3 L133.7,237.1 L134.1,238.0 L134.5,239.0 L134.9,240.1 L135.3,241.4 L135.7,242.8 L136.1,244.3 L136.5,245.9 L136.9,247.6 L137.3,249.4 L137.7,251.3 L138.1,253.2 L138.5,255.2 L138.9,257.2 L139.3,259.3 L139.7,261.4 L140.1,263.5 L140.5,265.6 L140.9,267.7 L141.3,269.7 L141.7,271.8 L142.1,273.9 L142.5,275.9 L142.9,277.8 L143.3,279.8 L143.7,281.6 L144.1,283.4 L144.5,285.2 L144.9,286.7 L145.2,288.2 L145.6,289.7 L146.0,291.0 L146.4,292.4 L146.8,293.6 L147.2,294.8 L147.6,296.0 L148.0,297.1 L148.4,298.1 L148.8,299.0 L149.2,299.9 L149.6,300.8 L150.0,301.6 L150.4,302.3 L150.8,302.9 L151.2,303.6 L151.6,304.1 L152.0,304.6 L152.4,305.1 L152.8,305.5 L153.2,305.9 L153.6,306.3 L154.0,306.7 L154.4,306.9 L154.8,307.2 L155.2,307.5 L155.6,307.7 L156.0,307.8 L156.4,308.0 L156.8,308.1 L157.2,308.2 L157.6,308.3 L158.0,308.5 L158.4,308.6 L158.8,308.6 L159.2,308.7 L159.6,308.7 L160.0,308.7 L160.4,308.8 L160.8,308.8 L161.2,308.8 L161.6,308.8 L162.0,308.8 L162.4,308.8 L162.7,308.9 L163.1,308.9 L163.5,308.9 L163.9,308.9 L164.3,309.0 L164.7,309.0 L165.1,309.0 L165.5,309.1 L165.9,309.1 L166.3,309.1 L166.7,309.1 L167.1,309.1 L167.5,309.2 L167.9,309.3 L168.3,309.3 L168.7,309.3 L169.1,309.4 L169.5,309.4 L169.9,309.4 L170.3,309.5 L170.7,309.5 L171.1,309.5 L171.5,309.6 L171.9,309.6 L172.3,309.6 L172.7,309.6 L173.1,309.6 L173.5,309.6" fill="none" stroke="#728086" stroke-width="0.95" stroke-linejoin="round" stroke-linecap="round" clip-path="url(#clipC)"/>
<path d="M46.6,305.9 L47.0,305.9 L47.4,306.0 L47.8,306.0 L48.2,306.1 L48.6,306.2 L49.0,306.3 L49.4,306.4 L49.8,306.4 L50.2,306.5 L50.6,306.5 L51.0,306.6 L51.4,306.6 L51.8,306.7 L52.2,306.8 L52.6,306.9 L53.0,306.9 L53.4,307.0 L53.8,307.0 L54.2,307.1 L54.6,307.1 L55.0,307.2 L55.4,307.1 L55.8,307.1 L56.2,307.2 L56.6,307.2 L57.0,307.1 L57.4,307.1 L57.7,307.0 L58.1,306.9 L58.5,306.8 L58.9,306.7 L59.3,306.7 L59.7,306.6 L60.1,306.4 L60.5,306.3 L60.9,306.2 L61.3,306.0 L61.7,305.9 L62.1,305.7 L62.5,305.6 L62.9,305.4 L63.3,305.3 L63.7,305.2 L64.1,305.0 L64.5,304.9 L64.9,304.8 L65.3,304.8 L65.7,304.6 L66.1,304.6 L66.5,304.6 L66.9,304.6 L67.3,304.7 L67.7,304.7 L68.1,304.8 L68.5,304.8 L68.9,304.9 L69.3,305.1 L69.7,305.1 L70.1,305.3 L70.5,305.4 L70.9,305.5 L71.3,305.7 L71.7,305.8 L72.1,306.0 L72.5,306.1 L72.9,306.2 L73.3,306.4 L73.7,306.5 L74.1,306.6 L74.5,306.7 L74.9,306.8 L75.2,306.8 L75.6,306.9 L76.0,306.9 L76.4,306.9 L76.8,306.8 L77.2,306.8 L77.6,306.7 L78.0,306.7 L78.4,306.6 L78.8,306.5 L79.2,306.4 L79.6,306.3 L80.0,306.2 L80.4,306.1 L80.8,305.9 L81.2,305.7 L81.6,305.5 L82.0,305.4 L82.4,305.1 L82.8,304.9 L83.2,304.7 L83.6,304.5 L84.0,304.2 L84.4,304.0 L84.8,303.7 L85.2,303.4 L85.6,303.1 L86.0,302.8 L86.4,302.4 L86.8,302.0 L87.2,301.6 L87.6,301.2 L88.0,300.6 L88.4,300.0 L88.8,299.5 L89.2,298.8 L89.6,298.2 L90.0,297.4 L90.4,296.7 L90.8,295.8 L91.2,294.9 L91.6,293.9 L92.0,292.9 L92.4,291.9 L92.7,290.8 L93.1,289.6 L93.5,288.4 L93.9,287.1 L94.3,285.8 L94.7,284.2 L95.1,282.3 L95.5,280.4 L95.9,278.4 L96.3,276.4 L96.7,274.3 L97.1,272.2 L97.5,270.0 L97.9,267.8 L98.3,265.6 L98.7,263.4 L99.1,261.2 L99.5,258.9 L99.9,256.7 L100.3,254.6 L100.7,252.4 L101.1,250.3 L101.5,248.3 L101.9,246.3 L102.3,244.4 L102.7,242.6 L103.1,240.8 L103.5,239.2 L103.9,237.7 L104.3,236.2 L104.7,234.9 L105.1,233.8 L105.5,232.7 L105.9,231.8 L106.3,231.0 L106.7,230.3 L107.1,229.8 L107.5,229.3 L107.9,228.9 L108.3,228.7 L108.7,228.5 L109.1,228.5 L109.5,228.5 L109.9,228.7 L110.2,228.9 L110.6,229.1 L111.0,229.5 L111.4,229.9 L111.8,230.3 L112.2,230.8 L112.6,231.3 L113.0,231.9 L113.4,232.4 L113.8,233.0 L114.2,233.6 L114.6,234.2 L115.0,234.8 L115.4,235.3 L115.8,235.9 L116.2,236.4 L116.6,236.9 L117.0,237.3 L117.4,237.8 L117.8,238.1 L118.2,238.5 L118.6,238.8 L119.0,239.0 L119.4,239.2 L119.8,239.3 L120.2,239.4 L120.6,239.5 L121.0,239.5 L121.4,239.5 L121.8,239.4 L122.2,239.3 L122.6,239.1 L123.0,238.9 L123.4,238.7 L123.8,238.5 L124.2,238.3 L124.6,238.0 L125.0,237.7 L125.4,237.4 L125.8,237.1 L126.2,236.8 L126.6,236.6 L127.0,236.3 L127.4,236.0 L127.7,235.8 L128.1,235.5 L128.5,235.3 L128.9,235.2 L129.3,235.0 L129.7,234.9 L130.1,234.8 L130.5,234.8 L130.9,234.8 L131.3,234.9 L131.7,234.9 L132.1,235.1 L132.5,235.5 L132.9,235.9 L133.3,236.6 L133.7,237.3 L134.1,238.2 L134.5,239.3 L134.9,240.4 L135.3,241.7 L135.7,243.1 L136.1,244.6 L136.5,246.2 L136.9,247.9 L137.3,249.7 L137.7,251.6 L138.1,253.5 L138.5,255.4 L138.9,257.5 L139.3,259.5 L139.7,261.6 L140.1,263.7 L140.5,265.7 L140.9,267.8 L141.3,269.9 L141.7,272.0 L142.1,274.0 L142.5,276.0 L142.9,277.9 L143.3,279.8 L143.7,281.7 L144.1,283.5 L144.5,285.2 L144.9,286.8 L145.2,288.2 L145.6,289.6 L146.0,291.0 L146.4,292.3 L146.8,293.5 L147.2,294.7 L147.6,295.8 L148.0,296.9 L148.4,297.8 L148.8,298.8 L149.2,299.7 L149.6,300.5 L150.0,301.3 L150.4,301.9 L150.8,302.6 L151.2,303.3 L151.6,303.9 L152.0,304.5 L152.4,305.0 L152.8,305.5 L153.2,306.0 L153.6,306.4 L154.0,306.8 L154.4,307.2 L154.8,307.5 L155.2,307.8 L155.6,308.1 L156.0,308.3 L156.4,308.5 L156.8,308.7 L157.2,308.8 L157.6,308.9 L158.0,309.0 L158.4,309.1 L158.8,309.2 L159.2,309.3 L159.6,309.4 L160.0,309.4 L160.4,309.5 L160.8,309.5 L161.2,309.5 L161.6,309.6 L162.0,309.6 L162.4,309.5 L162.7,309.6 L163.1,309.6 L163.5,309.5 L163.9,309.5 L164.3,309.5 L164.7,309.5 L165.1,309.5 L165.5,309.5 L165.9,309.6 L166.3,309.6 L166.7,309.6 L167.1,309.6 L167.5,309.6 L167.9,309.6 L168.3,309.6 L168.7,309.6 L169.1,309.5 L169.5,309.5 L169.9,309.4 L170.3,309.4 L170.7,309.4 L171.1,309.3 L171.5,309.3 L171.9,309.2 L172.3,309.2 L172.7,309.2 L173.1,309.1 L173.5,309.1" fill="none" stroke="#6a787e" stroke-width="0.95" stroke-linejoin="round" stroke-linecap="round" clip-path="url(#clipC)"/>
<path d="M46.6,305.5 L47.0,305.5 L47.4,305.6 L47.8,305.6 L48.2,305.6 L48.6,305.7 L49.0,305.7 L49.4,305.7 L49.8,305.8 L50.2,305.8 L50.6,305.9 L51.0,305.8 L51.4,305.9 L51.8,306.0 L52.2,306.0 L52.6,306.0 L53.0,306.0 L53.4,306.0 L53.8,306.0 L54.2,305.9 L54.6,305.9 L55.0,305.9 L55.4,306.0 L55.8,305.9 L56.2,305.9 L56.6,305.8 L57.0,305.9 L57.4,305.8 L57.7,305.8 L58.1,305.7 L58.5,305.7 L58.9,305.6 L59.3,305.5 L59.7,305.5 L60.1,305.4 L60.5,305.4 L60.9,305.3 L61.3,305.3 L61.7,305.2 L62.1,305.2 L62.5,305.1 L62.9,305.0 L63.3,305.0 L63.7,304.9 L64.1,304.9 L64.5,304.8 L64.9,304.8 L65.3,304.8 L65.7,304.7 L66.1,304.7 L66.5,304.8 L66.9,304.8 L67.3,304.8 L67.7,304.7 L68.1,304.8 L68.5,304.8 L68.9,304.8 L69.3,304.9 L69.7,304.9 L70.1,305.1 L70.5,305.2 L70.9,305.3 L71.3,305.4 L71.7,305.5 L72.1,305.5 L72.5,305.6 L72.9,305.7 L73.3,305.7 L73.7,305.8 L74.1,305.9 L74.5,305.9 L74.9,306.0 L75.2,306.0 L75.6,306.0 L76.0,305.9 L76.4,305.9 L76.8,305.8 L77.2,305.7 L77.6,305.7 L78.0,305.6 L78.4,305.4 L78.8,305.3 L79.2,305.2 L79.6,305.0 L80.0,304.9 L80.4,304.7 L80.8,304.5 L81.2,304.3 L81.6,304.1 L82.0,303.9 L82.4,303.6 L82.8,303.4 L83.2,303.2 L83.6,303.0 L84.0,302.7 L84.4,302.4 L84.8,302.2 L85.2,301.8 L85.6,301.4 L86.0,301.1 L86.4,300.6 L86.8,300.2 L87.2,299.7 L87.6,299.2 L88.0,298.7 L88.4,298.2 L88.8,297.6 L89.2,297.0 L89.6,296.3 L90.0,295.6 L90.4,294.8 L90.8,294.0 L91.2,293.1 L91.6,292.2 L92.0,291.2 L92.4,290.2 L92.7,289.2 L93.1,288.0 L93.5,286.9 L93.9,285.6 L94.3,284.0 L94.7,282.1 L95.1,280.2 L95.5,278.3 L95.9,276.2 L96.3,274.2 L96.7,272.0 L97.1,269.9 L97.5,267.7 L97.9,265.5 L98.3,263.2 L98.7,261.0 L99.1,258.8 L99.5,256.5 L99.9,254.3 L100.3,252.2 L100.7,250.0 L101.1,247.9 L101.5,245.9 L101.9,243.9 L102.3,242.0 L102.7,240.2 L103.1,238.5 L103.5,236.9 L103.9,235.4 L104.3,234.0 L104.7,232.7 L105.1,231.5 L105.5,230.5 L105.9,229.5 L106.3,228.8 L106.7,228.1 L107.1,227.5 L107.5,227.1 L107.9,226.7 L108.3,226.5 L108.7,226.3 L109.1,226.3 L109.5,226.3 L109.9,226.5 L110.2,226.7 L110.6,227.0 L111.0,227.4 L111.4,227.8 L111.8,228.2 L112.2,228.8 L112.6,229.3 L113.0,229.9 L113.4,230.5 L113.8,231.1 L114.2,231.8 L114.6,232.4 L115.0,233.0 L115.4,233.6 L115.8,234.2 L116.2,234.8 L116.6,235.3 L117.0,235.8 L117.4,236.3 L117.8,236.7 L118.2,237.1 L118.6,237.4 L119.0,237.7 L119.4,238.0 L119.8,238.2 L120.2,238.4 L120.6,238.5 L121.0,238.5 L121.4,238.5 L121.8,238.5 L122.2,238.5 L122.6,238.4 L123.0,238.2 L123.4,238.1 L123.8,237.9 L124.2,237.7 L124.6,237.5 L125.0,237.3 L125.4,237.0 L125.8,236.8 L126.2,236.5 L126.6,236.3 L127.0,236.0 L127.4,235.8 L127.7,235.6 L128.1,235.4 L128.5,235.3 L128.9,235.1 L129.3,235.0 L129.7,234.9 L130.1,234.9 L130.5,234.9 L130.9,234.9 L131.3,235.0 L131.7,235.1 L132.1,235.3 L132.5,235.7 L132.9,236.2 L133.3,236.8 L133.7,237.6 L134.1,238.5 L134.5,239.6 L134.9,240.7 L135.3,242.0 L135.7,243.4 L136.1,244.9 L136.5,246.6 L136.9,248.3 L137.3,250.0 L137.7,251.9 L138.1,253.8 L138.5,255.7 L138.9,257.7 L139.3,259.8 L139.7,261.8 L140.1,263.9 L140.5,266.0 L140.9,268.0 L141.3,270.1 L141.7,272.1 L142.1,274.1 L142.5,276.1 L142.9,278.0 L143.3,279.9 L143.7,281.8 L144.1,283.5 L144.5,285.3 L144.9,286.7 L145.2,288.1 L145.6,289.4 L146.0,290.7 L146.4,291.9 L146.8,293.1 L147.2,294.3 L147.6,295.4 L148.0,296.4 L148.4,297.4 L148.8,298.3 L149.2,299.2 L149.6,300.0 L150.0,300.8 L150.4,301.5 L150.8,302.1 L151.2,302.7 L151.6,303.2 L152.0,303.7 L152.4,304.1 L152.8,304.5 L153.2,304.9 L153.6,305.2 L154.0,305.5 L154.4,305.7 L154.8,306.0 L155.2,306.2 L155.6,306.3 L156.0,306.5 L156.4,306.6 L156.8,306.8 L157.2,306.9 L157.6,307.0 L158.0,307.1 L158.4,307.2 L158.8,307.3 L159.2,307.4 L159.6,307.6 L160.0,307.7 L160.4,307.8 L160.8,308.0 L161.2,308.1 L161.6,308.3 L162.0,308.4 L162.4,308.5 L162.7,308.6 L163.1,308.8 L163.5,308.9 L163.9,309.0 L164.3,309.1 L164.7,309.2 L165.1,309.3 L165.5,309.3 L165.9,309.4 L166.3,309.5 L166.7,309.5 L167.1,309.6 L167.5,309.7 L167.9,309.7 L168.3,309.7 L168.7,309.7 L169.1,309.6 L169.5,309.6 L169.9,309.6 L170.3,309.5 L170.7,309.5 L171.1,309.4 L171.5,309.4 L171.9,309.4 L172.3,309.4 L172.7,309.3 L173.1,309.3 L173.5,309.3" fill="none" stroke="#637177" stroke-width="0.95" stroke-linejoin="round" stroke-linecap="round" clip-path="url(#clipC)"/>
<path d="M46.6,305.4 L47.0,305.3 L47.4,305.2 L47.8,305.1 L48.2,305.1 L48.6,305.0 L49.0,305.0 L49.4,304.9 L49.8,304.8 L50.2,304.8 L50.6,304.8 L51.0,304.8 L51.4,304.7 L51.8,304.7 L52.2,304.7 L52.6,304.7 L53.0,304.7 L53.4,304.7 L53.8,304.7 L54.2,304.7 L54.6,304.9 L55.0,304.9 L55.4,305.0 L55.8,305.0 L56.2,305.0 L56.6,305.1 L57.0,305.1 L57.4,305.2 L57.7,305.2 L58.1,305.3 L58.5,305.3 L58.9,305.4 L59.3,305.4 L59.7,305.4 L60.1,305.5 L60.5,305.5 L60.9,305.6 L61.3,305.6 L61.7,305.7 L62.1,305.7 L62.5,305.8 L62.9,305.8 L63.3,305.8 L63.7,305.9 L64.1,306.0 L64.5,306.1 L64.9,306.1 L65.3,306.1 L65.7,306.2 L66.1,306.3 L66.5,306.2 L66.9,306.3 L67.3,306.3 L67.7,306.2 L68.1,306.2 L68.5,306.2 L68.9,306.2 L69.3,306.2 L69.7,306.1 L70.1,306.0 L70.5,306.0 L70.9,305.9 L71.3,305.8 L71.7,305.7 L72.1,305.7 L72.5,305.7 L72.9,305.6 L73.3,305.5 L73.7,305.4 L74.1,305.4 L74.5,305.4 L74.9,305.3 L75.2,305.3 L75.6,305.2 L76.0,305.2 L76.4,305.2 L76.8,305.2 L77.2,305.2 L77.6,305.2 L78.0,305.0 L78.4,304.9 L78.8,304.8 L79.2,304.8 L79.6,304.7 L80.0,304.6 L80.4,304.5 L80.8,304.4 L81.2,304.2 L81.6,304.0 L82.0,303.8 L82.4,303.6 L82.8,303.5 L83.2,303.3 L83.6,303.0 L84.0,302.7 L84.4,302.4 L84.8,302.1 L85.2,301.8 L85.6,301.4 L86.0,301.0 L86.4,300.5 L86.8,300.1 L87.2,299.6 L87.6,299.1 L88.0,298.5 L88.4,297.9 L88.8,297.2 L89.2,296.5 L89.6,295.8 L90.0,295.0 L90.4,294.1 L90.8,293.2 L91.2,292.2 L91.6,291.1 L92.0,290.1 L92.4,288.9 L92.7,287.8 L93.1,286.5 L93.5,285.2 L93.9,283.4 L94.3,281.6 L94.7,279.7 L95.1,277.7 L95.5,275.7 L95.9,273.6 L96.3,271.5 L96.7,269.4 L97.1,267.2 L97.5,265.0 L97.9,262.7 L98.3,260.5 L98.7,258.2 L99.1,256.0 L99.5,253.8 L99.9,251.5 L100.3,249.4 L100.7,247.2 L101.1,245.2 L101.5,243.1 L101.9,241.2 L102.3,239.3 L102.7,237.5 L103.1,235.8 L103.5,234.2 L103.9,232.7 L104.3,231.3 L104.7,230.0 L105.1,228.9 L105.5,227.8 L105.9,226.9 L106.3,226.1 L106.7,225.5 L107.1,224.9 L107.5,224.4 L107.9,224.1 L108.3,223.9 L108.7,223.8 L109.1,223.7 L109.5,223.8 L109.9,224.0 L110.2,224.2 L110.6,224.5 L111.0,224.9 L111.4,225.3 L111.8,225.9 L112.2,226.4 L112.6,227.0 L113.0,227.6 L113.4,228.3 L113.8,228.9 L114.2,229.6 L114.6,230.3 L115.0,231.0 L115.4,231.6 L115.8,232.3 L116.2,232.9 L116.6,233.5 L117.0,234.0 L117.4,234.6 L117.8,235.1 L118.2,235.5 L118.6,235.9 L119.0,236.3 L119.4,236.6 L119.8,236.9 L120.2,237.1 L120.6,237.2 L121.0,237.4 L121.4,237.5 L121.8,237.5 L122.2,237.5 L122.6,237.5 L123.0,237.4 L123.4,237.3 L123.8,237.2 L124.2,237.1 L124.6,236.9 L125.0,236.7 L125.4,236.5 L125.8,236.3 L126.2,236.1 L126.6,235.9 L127.0,235.8 L127.4,235.6 L127.7,235.4 L128.1,235.3 L128.5,235.1 L128.9,235.0 L129.3,235.0 L129.7,234.9 L130.1,234.9 L130.5,234.9 L130.9,235.0 L131.3,235.1 L131.7,235.2 L132.1,235.5 L132.5,235.9 L132.9,236.4 L133.3,237.1 L133.7,237.9 L134.1,238.9 L134.5,239.9 L134.9,241.1 L135.3,242.4 L135.7,243.8 L136.1,245.3 L136.5,247.0 L136.9,248.6 L137.3,250.4 L137.7,252.3 L138.1,254.1 L138.5,256.1 L138.9,258.1 L139.3,260.1 L139.7,262.1 L140.1,264.2 L140.5,266.2 L140.9,268.3 L141.3,270.3 L141.7,272.3 L142.1,274.3 L142.5,276.3 L142.9,278.2 L143.3,280.0 L143.7,281.9 L144.1,283.6 L144.5,285.3 L144.9,286.7 L145.2,288.1 L145.6,289.4 L146.0,290.7 L146.4,291.9 L146.8,293.0 L147.2,294.1 L147.6,295.2 L148.0,296.1 L148.4,297.0 L148.8,297.9 L149.2,298.7 L149.6,299.4 L150.0,300.2 L150.4,300.8 L150.8,301.4 L151.2,302.1 L151.6,302.5 L152.0,303.1 L152.4,303.5 L152.8,303.9 L153.2,304.4 L153.6,304.8 L154.0,305.2 L154.4,305.5 L154.8,305.9 L155.2,306.2 L155.6,306.5 L156.0,306.9 L156.4,307.2 L156.8,307.4 L157.2,307.7 L157.6,307.9 L158.0,308.1 L158.4,308.3 L158.8,308.5 L159.2,308.7 L159.6,308.9 L160.0,309.0 L160.4,309.2 L160.8,309.3 L161.2,309.4 L161.6,309.5 L162.0,309.6 L162.4,309.6 L162.7,309.7 L163.1,309.8 L163.5,309.8 L163.9,309.9 L164.3,309.9 L164.7,310.0 L165.1,310.0 L165.5,309.9 L165.9,309.9 L166.3,309.9 L166.7,309.8 L167.1,309.8 L167.5,309.8 L167.9,309.8 L168.3,309.8 L168.7,309.8 L169.1,309.8 L169.5,309.7 L169.9,309.7 L170.3,309.7 L170.7,309.6 L171.1,309.6 L171.5,309.6 L171.9,309.5 L172.3,309.5 L172.7,309.5 L173.1,309.5 L173.5,309.4" fill="none" stroke="#5c6a70" stroke-width="0.95" stroke-linejoin="round" stroke-linecap="round" clip-path="url(#clipC)"/>
<path d="M46.6,305.2 L47.0,305.3 L47.4,305.5 L47.8,305.6 L48.2,305.7 L48.6,305.9 L49.0,306.0 L49.4,306.1 L49.8,306.2 L50.2,306.4 L50.6,306.4 L51.0,306.5 L51.4,306.6 L51.8,306.7 L52.2,306.7 L52.6,306.8 L53.0,306.8 L53.4,306.8 L53.8,306.8 L54.2,306.8 L54.6,306.6 L55.0,306.6 L55.4,306.5 L55.8,306.4 L56.2,306.3 L56.6,306.2 L57.0,306.1 L57.4,306.0 L57.7,306.0 L58.1,305.9 L58.5,305.8 L58.9,305.7 L59.3,305.6 L59.7,305.5 L60.1,305.5 L60.5,305.4 L60.9,305.3 L61.3,305.3 L61.7,305.2 L62.1,305.1 L62.5,305.1 L62.9,305.1 L63.3,305.0 L63.7,305.0 L64.1,304.9 L64.5,304.8 L64.9,304.8 L65.3,304.8 L65.7,304.7 L66.1,304.6 L66.5,304.6 L66.9,304.5 L67.3,304.5 L67.7,304.4 L68.1,304.3 L68.5,304.3 L68.9,304.2 L69.3,304.2 L69.7,304.2 L70.1,304.1 L70.5,304.0 L70.9,304.1 L71.3,304.1 L71.7,304.1 L72.1,304.1 L72.5,304.1 L72.9,304.1 L73.3,304.1 L73.7,304.2 L74.1,304.1 L74.5,304.2 L74.9,304.2 L75.2,304.3 L75.6,304.3 L76.0,304.3 L76.4,304.4 L76.8,304.5 L77.2,304.5 L77.6,304.5 L78.0,304.6 L78.4,304.6 L78.8,304.7 L79.2,304.6 L79.6,304.6 L80.0,304.7 L80.4,304.7 L80.8,304.7 L81.2,304.6 L81.6,304.6 L82.0,304.6 L82.4,304.5 L82.8,304.4 L83.2,304.4 L83.6,304.3 L84.0,304.2 L84.4,304.1 L84.8,303.9 L85.2,303.7 L85.6,303.6 L86.0,303.4 L86.4,303.3 L86.8,303.2 L87.2,302.9 L87.6,302.7 L88.0,302.4 L88.4,302.1 L88.8,301.8 L89.2,301.4 L89.6,301.0 L90.0,300.5 L90.4,300.0 L90.8,299.5 L91.2,299.0 L91.6,298.4 L92.0,297.7 L92.4,296.9 L92.7,296.1 L93.1,295.2 L93.5,294.3 L93.9,293.3 L94.3,292.1 L94.7,291.0 L95.1,289.7 L95.5,288.4 L95.9,287.0 L96.3,285.6 L96.7,283.8 L97.1,281.8 L97.5,279.8 L97.9,277.8 L98.3,275.7 L98.7,273.5 L99.1,271.4 L99.5,269.2 L99.9,267.0 L100.3,264.9 L100.7,262.7 L101.1,260.6 L101.5,258.5 L101.9,256.5 L102.3,254.5 L102.7,252.6 L103.1,250.8 L103.5,249.2 L103.9,247.6 L104.3,246.1 L104.7,244.8 L105.1,243.5 L105.5,242.5 L105.9,241.5 L106.3,240.7 L106.7,240.1 L107.1,239.5 L107.5,239.0 L107.9,238.6 L108.3,238.3 L108.7,238.1 L109.1,238.0 L109.5,238.0 L109.9,238.0 L110.2,238.1 L110.6,238.3 L111.0,238.5 L111.4,238.8 L111.8,239.1 L112.2,239.5 L112.6,239.9 L113.0,240.3 L113.4,240.7 L113.8,241.1 L114.2,241.5 L114.6,241.9 L115.0,242.3 L115.4,242.6 L115.8,243.0 L116.2,243.3 L116.6,243.5 L117.0,243.8 L117.4,244.0 L117.8,244.1 L118.2,244.2 L118.6,244.2 L119.0,244.2 L119.4,244.2 L119.8,244.1 L120.2,243.9 L120.6,243.8 L121.0,243.5 L121.4,243.3 L121.8,242.9 L122.2,242.6 L122.6,242.2 L123.0,241.8 L123.4,241.4 L123.8,240.9 L124.2,240.5 L124.6,240.0 L125.0,239.5 L125.4,239.1 L125.8,238.6 L126.2,238.1 L126.6,237.7 L127.0,237.2 L127.4,236.8 L127.7,236.4 L128.1,236.0 L128.5,235.7 L128.9,235.4 L129.3,235.1 L129.7,234.9 L130.1,234.7 L130.5,234.5 L130.9,234.4 L131.3,234.4 L131.7,234.4 L132.1,234.4 L132.5,234.6 L132.9,234.9 L133.3,235.4 L133.7,236.1 L134.1,236.9 L134.5,237.9 L134.9,239.0 L135.3,240.2 L135.7,241.6 L136.1,243.1 L136.5,244.7 L136.9,246.4 L137.3,248.2 L137.7,250.1 L138.1,252.1 L138.5,254.1 L138.9,256.2 L139.3,258.3 L139.7,260.4 L140.1,262.6 L140.5,264.7 L140.9,266.9 L141.3,269.1 L141.7,271.2 L142.1,273.3 L142.5,275.4 L142.9,277.4 L143.3,279.4 L143.7,281.3 L144.1,283.2 L144.5,285.0 L144.9,286.5 L145.2,288.0 L145.6,289.4 L146.0,290.7 L146.4,292.0 L146.8,293.3 L147.2,294.5 L147.6,295.7 L148.0,296.8 L148.4,297.9 L148.8,298.9 L149.2,299.8 L149.6,300.6 L150.0,301.5 L150.4,302.2 L150.8,302.9 L151.2,303.5 L151.6,304.1 L152.0,304.6 L152.4,305.1 L152.8,305.6 L153.2,305.9 L153.6,306.3 L154.0,306.6 L154.4,306.9 L154.8,307.2 L155.2,307.3 L155.6,307.5 L156.0,307.7 L156.4,307.9 L156.8,308.1 L157.2,308.3 L157.6,308.5 L158.0,308.6 L158.4,308.8 L158.8,308.8 L159.2,308.9 L159.6,309.0 L160.0,309.0 L160.4,309.0 L160.8,309.1 L161.2,309.2 L161.6,309.2 L162.0,309.2 L162.4,309.2 L162.7,309.2 L163.1,309.1 L163.5,309.0 L163.9,308.9 L164.3,308.9 L164.7,308.9 L165.1,308.8 L165.5,308.7 L165.9,308.7 L166.3,308.6 L166.7,308.5 L167.1,308.3 L167.5,308.3 L167.9,308.2 L168.3,308.1 L168.7,308.0 L169.1,307.9 L169.5,307.8 L169.9,307.8 L170.3,307.7 L170.7,307.6 L171.1,307.6 L171.5,307.6 L171.9,307.5 L172.3,307.5 L172.7,307.5 L173.1,307.4 L173.5,307.4" fill="none" stroke="#b8cc80" stroke-width="1.2" stroke-linejoin="round" stroke-linecap="round" clip-path="url(#clipC)"/>
<path d="M46.6,307.0 L47.0,307.1 L47.4,307.1 L47.8,307.2 L48.2,307.2 L48.6,307.2 L49.0,307.2 L49.4,307.2 L49.8,307.1 L50.2,307.1 L50.6,307.1 L51.0,307.1 L51.4,307.0 L51.8,306.9 L52.2,306.9 L52.6,306.8 L53.0,306.8 L53.4,306.7 L53.8,306.7 L54.2,306.6 L54.6,306.6 L55.0,306.5 L55.4,306.4 L55.8,306.4 L56.2,306.3 L56.6,306.3 L57.0,306.3 L57.4,306.3 L57.7,306.3 L58.1,306.3 L58.5,306.4 L58.9,306.4 L59.3,306.4 L59.7,306.4 L60.1,306.5 L60.5,306.6 L60.9,306.7 L61.3,306.8 L61.7,306.9 L62.1,307.0 L62.5,307.0 L62.9,307.1 L63.3,307.1 L63.7,307.2 L64.1,307.3 L64.5,307.4 L64.9,307.4 L65.3,307.5 L65.7,307.5 L66.1,307.6 L66.5,307.6 L66.9,307.6 L67.3,307.6 L67.7,307.6 L68.1,307.6 L68.5,307.5 L68.9,307.5 L69.3,307.5 L69.7,307.4 L70.1,307.4 L70.5,307.3 L70.9,307.3 L71.3,307.2 L71.7,307.2 L72.1,307.1 L72.5,307.1 L72.9,307.0 L73.3,306.9 L73.7,306.8 L74.1,306.8 L74.5,306.7 L74.9,306.6 L75.2,306.5 L75.6,306.5 L76.0,306.5 L76.4,306.4 L76.8,306.3 L77.2,306.2 L77.6,306.2 L78.0,306.1 L78.4,306.1 L78.8,306.0 L79.2,305.9 L79.6,305.8 L80.0,305.8 L80.4,305.7 L80.8,305.6 L81.2,305.6 L81.6,305.5 L82.0,305.4 L82.4,305.3 L82.8,305.2 L83.2,305.2 L83.6,305.1 L84.0,305.0 L84.4,304.8 L84.8,304.7 L85.2,304.6 L85.6,304.4 L86.0,304.3 L86.4,304.1 L86.8,303.9 L87.2,303.7 L87.6,303.5 L88.0,303.3 L88.4,303.0 L88.8,302.6 L89.2,302.2 L89.6,301.8 L90.0,301.3 L90.4,300.8 L90.8,300.2 L91.2,299.5 L91.6,298.8 L92.0,298.0 L92.4,297.1 L92.7,296.1 L93.1,295.1 L93.5,293.9 L93.9,292.7 L94.3,291.4 L94.7,290.0 L95.1,288.6 L95.5,287.0 L95.9,285.4 L96.3,283.6 L96.7,281.6 L97.1,279.7 L97.5,277.6 L97.9,275.5 L98.3,273.4 L98.7,271.2 L99.1,269.0 L99.5,266.8 L99.9,264.7 L100.3,262.5 L100.7,260.3 L101.1,258.2 L101.5,256.1 L101.9,254.1 L102.3,252.2 L102.7,250.3 L103.1,248.5 L103.5,246.9 L103.9,245.3 L104.3,243.8 L104.7,242.5 L105.1,241.3 L105.5,240.2 L105.9,239.3 L106.3,238.5 L106.7,237.8 L107.1,237.2 L107.5,236.8 L107.9,236.4 L108.3,236.1 L108.7,235.9 L109.1,235.8 L109.5,235.8 L109.9,235.9 L110.2,236.0 L110.6,236.2 L111.0,236.5 L111.4,236.8 L111.8,237.1 L112.2,237.5 L112.6,237.9 L113.0,238.3 L113.4,238.8 L113.8,239.2 L114.2,239.7 L114.6,240.1 L115.0,240.6 L115.4,241.0 L115.8,241.4 L116.2,241.7 L116.6,242.0 L117.0,242.3 L117.4,242.5 L117.8,242.7 L118.2,242.9 L118.6,243.0 L119.0,243.0 L119.4,243.1 L119.8,243.0 L120.2,242.9 L120.6,242.8 L121.0,242.6 L121.4,242.4 L121.8,242.1 L122.2,241.9 L122.6,241.5 L123.0,241.2 L123.4,240.8 L123.8,240.4 L124.2,240.0 L124.6,239.6 L125.0,239.1 L125.4,238.7 L125.8,238.3 L126.2,237.8 L126.6,237.4 L127.0,237.0 L127.4,236.6 L127.7,236.3 L128.1,235.9 L128.5,235.6 L128.9,235.3 L129.3,235.1 L129.7,234.9 L130.1,234.7 L130.5,234.6 L130.9,234.5 L131.3,234.5 L131.7,234.5 L132.1,234.6 L132.5,234.8 L132.9,235.2 L133.3,235.7 L133.7,236.4 L134.1,237.2 L134.5,238.2 L134.9,239.3 L135.3,240.6 L135.7,241.9 L136.1,243.4 L136.5,245.1 L136.9,246.8 L137.3,248.6 L137.7,250.4 L138.1,252.4 L138.5,254.4 L138.9,256.5 L139.3,258.6 L139.7,260.7 L140.1,262.8 L140.5,265.0 L140.9,267.1 L141.3,269.3 L141.7,271.4 L142.1,273.5 L142.5,275.5 L142.9,277.5 L143.3,279.5 L143.7,281.4 L144.1,283.3 L144.5,285.1 L144.9,286.7 L145.2,288.3 L145.6,289.9 L146.0,291.4 L146.4,292.8 L146.8,294.1 L147.2,295.4 L147.6,296.7 L148.0,297.8 L148.4,298.9 L148.8,299.9 L149.2,300.9 L149.6,301.8 L150.0,302.6 L150.4,303.3 L150.8,304.0 L151.2,304.7 L151.6,305.2 L152.0,305.7 L152.4,306.2 L152.8,306.6 L153.2,306.9 L153.6,307.3 L154.0,307.5 L154.4,307.7 L154.8,307.9 L155.2,308.1 L155.6,308.2 L156.0,308.3 L156.4,308.4 L156.8,308.5 L157.2,308.5 L157.6,308.6 L158.0,308.6 L158.4,308.6 L158.8,308.6 L159.2,308.5 L159.6,308.5 L160.0,308.5 L160.4,308.5 L160.8,308.5 L161.2,308.5 L161.6,308.5 L162.0,308.5 L162.4,308.5 L162.7,308.5 L163.1,308.5 L163.5,308.5 L163.9,308.5 L164.3,308.5 L164.7,308.5 L165.1,308.6 L165.5,308.6 L165.9,308.6 L166.3,308.6 L166.7,308.6 L167.1,308.6 L167.5,308.7 L167.9,308.7 L168.3,308.8 L168.7,308.8 L169.1,308.8 L169.5,308.8 L169.9,308.9 L170.3,308.9 L170.7,309.0 L171.1,309.0 L171.5,309.1 L171.9,309.1 L172.3,309.1 L172.7,309.2 L173.1,309.2 L173.5,309.2" fill="none" stroke="#a8c840" stroke-width="1.5" stroke-linejoin="round" stroke-linecap="round" clip-path="url(#clipC)"/>
<path d="M46.6,295.2 L47.0,295.5 L47.4,295.9 L47.8,296.2 L48.2,296.5 L48.6,296.9 L49.0,297.2 L49.4,297.5 L49.8,297.8 L50.2,298.1 L50.6,298.4 L51.0,298.6 L51.4,298.8 L51.8,299.1 L52.2,299.3 L52.6,299.6 L53.0,299.8 L53.4,300.0 L53.8,300.3 L54.2,300.5 L54.6,300.6 L55.0,300.9 L55.4,301.0 L55.8,301.2 L56.2,301.3 L56.6,301.4 L57.0,301.5 L57.4,301.7 L57.7,301.8 L58.1,301.9 L58.5,302.0 L58.9,302.1 L59.3,302.2 L59.7,302.3 L60.1,302.4 L60.5,302.5 L60.9,302.6 L61.3,302.8 L61.7,302.9 L62.1,302.9 L62.5,303.0 L62.9,303.1 L63.3,303.2 L63.7,303.4 L64.1,303.5 L64.5,303.7 L64.9,303.9 L65.3,304.0 L65.7,304.1 L66.1,304.2 L66.5,304.4 L66.9,304.5 L67.3,304.7 L67.7,304.8 L68.1,304.9 L68.5,305.1 L68.9,305.2 L69.3,305.3 L69.7,305.4 L70.1,305.5 L70.5,305.6 L70.9,305.7 L71.3,305.7 L71.7,305.8 L72.1,305.8 L72.5,305.9 L72.9,305.9 L73.3,306.0 L73.7,306.1 L74.1,306.1 L74.5,306.2 L74.9,306.2 L75.2,306.2 L75.6,306.3 L76.0,306.3 L76.4,306.2 L76.8,306.2 L77.2,306.2 L77.6,306.1 L78.0,306.2 L78.4,306.1 L78.8,306.1 L79.2,306.0 L79.6,306.0 L80.0,305.9 L80.4,305.8 L80.8,305.6 L81.2,305.4 L81.6,305.2 L82.0,305.0 L82.4,304.8 L82.8,304.5 L83.2,304.2 L83.6,303.9 L84.0,303.6 L84.4,303.2 L84.8,302.8 L85.2,302.4 L85.6,302.0 L86.0,301.6 L86.4,301.0 L86.8,300.5 L87.2,299.9 L87.6,299.3 L88.0,298.6 L88.4,297.8 L88.8,297.0 L89.2,296.2 L89.6,295.3 L90.0,294.3 L90.4,293.3 L90.8,292.2 L91.2,291.0 L91.6,289.8 L92.0,288.5 L92.4,287.1 L92.7,285.7 L93.1,284.0 L93.5,282.2 L93.9,280.4 L94.3,278.5 L94.7,276.5 L95.1,274.4 L95.5,272.4 L95.9,270.2 L96.3,268.1 L96.7,265.9 L97.1,263.7 L97.5,261.4 L97.9,259.2 L98.3,256.9 L98.7,254.6 L99.1,252.4 L99.5,250.2 L99.9,248.0 L100.3,245.8 L100.7,243.7 L101.1,241.6 L101.5,239.6 L101.9,237.7 L102.3,235.8 L102.7,234.0 L103.1,232.4 L103.5,230.8 L103.9,229.3 L104.3,227.9 L104.7,226.6 L105.1,225.5 L105.5,224.5 L105.9,223.6 L106.3,222.8 L106.7,222.1 L107.1,221.5 L107.5,221.1 L107.9,220.8 L108.3,220.5 L108.7,220.4 L109.1,220.4 L109.5,220.5 L109.9,220.7 L110.2,221.0 L110.6,221.3 L111.0,221.7 L111.4,222.2 L111.8,222.8 L112.2,223.4 L112.6,224.0 L113.0,224.7 L113.4,225.4 L113.8,226.1 L114.2,226.8 L114.6,227.6 L115.0,228.3 L115.4,229.0 L115.8,229.7 L116.2,230.4 L116.6,231.1 L117.0,231.7 L117.4,232.3 L117.8,232.9 L118.2,233.4 L118.6,233.9 L119.0,234.4 L119.4,234.7 L119.8,235.1 L120.2,235.4 L120.6,235.7 L121.0,235.9 L121.4,236.0 L121.8,236.2 L122.2,236.3 L122.6,236.3 L123.0,236.3 L123.4,236.3 L123.8,236.3 L124.2,236.2 L124.6,236.1 L125.0,236.0 L125.4,235.9 L125.8,235.8 L126.2,235.6 L126.6,235.5 L127.0,235.4 L127.4,235.2 L127.7,235.1 L128.1,235.0 L128.5,235.0 L128.9,234.9 L129.3,234.9 L129.7,234.9 L130.1,234.9 L130.5,235.0 L130.9,235.1 L131.3,235.2 L131.7,235.4 L132.1,235.7 L132.5,236.2 L132.9,236.7 L133.3,237.5 L133.7,238.3 L134.1,239.3 L134.5,240.4 L134.9,241.6 L135.3,242.9 L135.7,244.3 L136.1,245.8 L136.5,247.4 L136.9,249.1 L137.3,250.9 L137.7,252.7 L138.1,254.6 L138.5,256.5 L138.9,258.5 L139.3,260.5 L139.7,262.5 L140.1,264.5 L140.5,266.6 L140.9,268.6 L141.3,270.6 L141.7,272.6 L142.1,274.5 L142.5,276.5 L142.9,278.3 L143.3,280.2 L143.7,282.0 L144.1,283.7 L144.5,285.4 L144.9,287.1 L145.2,288.7 L145.6,290.3 L146.0,291.8 L146.4,293.2 L146.8,294.5 L147.2,295.8 L147.6,297.1 L148.0,298.2 L148.4,299.3 L148.8,300.3 L149.2,301.2 L149.6,302.0 L150.0,302.8 L150.4,303.5 L150.8,304.2 L151.2,304.7 L151.6,305.2 L152.0,305.7 L152.4,306.2 L152.8,306.7 L153.2,307.1 L153.6,307.4 L154.0,307.7 L154.4,307.9 L154.8,308.1 L155.2,308.4 L155.6,308.5 L156.0,308.6 L156.4,308.7 L156.8,308.8 L157.2,308.9 L157.6,308.9 L158.0,308.9 L158.4,309.0 L158.8,309.0 L159.2,308.9 L159.6,309.0 L160.0,309.0 L160.4,309.0 L160.8,309.0 L161.2,309.0 L161.6,308.9 L162.0,309.0 L162.4,308.9 L162.7,308.9 L163.1,309.0 L163.5,308.9 L163.9,309.0 L164.3,309.0 L164.7,309.0 L165.1,309.1 L165.5,309.1 L165.9,309.2 L166.3,309.4 L166.7,309.5 L167.1,309.6 L167.5,309.7 L167.9,309.8 L168.3,309.9 L168.7,309.9 L169.1,309.9 L169.5,309.9 L169.9,310.0 L170.3,310.1 L170.7,310.1 L171.1,310.2 L171.5,310.2 L171.9,310.2 L172.3,310.2 L172.7,310.2 L173.1,310.2 L173.5,310.1" fill="none" stroke="#2a3ae0" stroke-width="1.5" stroke-linejoin="round" stroke-linecap="round" clip-path="url(#clipC)"/>
<path d="M46.6,304.2 L47.0,304.3 L47.4,304.3 L47.8,304.3 L48.2,304.4 L48.6,304.4 L49.0,304.5 L49.4,304.6 L49.8,304.6 L50.2,304.6 L50.6,304.7 L51.0,304.7 L51.4,304.8 L51.8,304.8 L52.2,304.8 L52.6,304.8 L53.0,304.8 L53.4,304.8 L53.8,304.8 L54.2,304.8 L54.6,304.8 L55.0,304.8 L55.4,304.8 L55.8,304.8 L56.2,304.7 L56.6,304.7 L57.0,304.7 L57.4,304.7 L57.7,304.7 L58.1,304.7 L58.5,304.7 L58.9,304.7 L59.3,304.7 L59.7,304.8 L60.1,304.8 L60.5,304.8 L60.9,304.7 L61.3,304.7 L61.7,304.8 L62.1,304.8 L62.5,304.8 L62.9,304.8 L63.3,304.8 L63.7,304.8 L64.1,304.9 L64.5,304.9 L64.9,304.9 L65.3,304.9 L65.7,304.9 L66.1,304.9 L66.5,304.9 L66.9,304.8 L67.3,304.9 L67.7,304.9 L68.1,304.9 L68.5,304.9 L68.9,304.9 L69.3,304.9 L69.7,304.8 L70.1,304.8 L70.5,304.8 L70.9,304.8 L71.3,304.7 L71.7,304.7 L72.1,304.6 L72.5,304.6 L72.9,304.6 L73.3,304.5 L73.7,304.5 L74.1,304.4 L74.5,304.4 L74.9,304.3 L75.2,304.3 L75.6,304.2 L76.0,304.1 L76.4,304.0 L76.8,303.9 L77.2,303.9 L77.6,303.8 L78.0,303.6 L78.4,303.5 L78.8,303.4 L79.2,303.3 L79.6,303.1 L80.0,302.9 L80.4,302.7 L80.8,302.5 L81.2,302.3 L81.6,302.0 L82.0,301.7 L82.4,301.4 L82.8,301.1 L83.2,300.8 L83.6,300.4 L84.0,299.9 L84.4,299.5 L84.8,299.1 L85.2,298.6 L85.6,298.0 L86.0,297.5 L86.4,296.9 L86.8,296.2 L87.2,295.5 L87.6,294.8 L88.0,294.0 L88.4,293.2 L88.8,292.2 L89.2,291.3 L89.6,290.3 L90.0,289.2 L90.4,288.1 L90.8,286.9 L91.2,285.7 L91.6,284.1 L92.0,282.4 L92.4,280.6 L92.7,278.8 L93.1,276.9 L93.5,274.9 L93.9,272.9 L94.3,270.8 L94.7,268.7 L95.1,266.5 L95.5,264.3 L95.9,262.1 L96.3,259.9 L96.7,257.6 L97.1,255.3 L97.5,253.0 L97.9,250.7 L98.3,248.5 L98.7,246.2 L99.1,244.0 L99.5,241.7 L99.9,239.6 L100.3,237.4 L100.7,235.3 L101.1,233.3 L101.5,231.4 L101.9,229.5 L102.3,227.7 L102.7,225.9 L103.1,224.3 L103.5,222.8 L103.9,221.3 L104.3,220.0 L104.7,218.7 L105.1,217.6 L105.5,216.6 L105.9,215.7 L106.3,214.9 L106.7,214.2 L107.1,213.7 L107.5,213.3 L107.9,212.9 L108.3,212.8 L108.7,212.7 L109.1,212.7 L109.5,212.9 L109.9,213.1 L110.2,213.4 L110.6,213.8 L111.0,214.3 L111.4,214.9 L111.8,215.5 L112.2,216.2 L112.6,217.0 L113.0,217.7 L113.4,218.6 L113.8,219.4 L114.2,220.3 L114.6,221.1 L115.0,222.0 L115.4,222.9 L115.8,223.7 L116.2,224.6 L116.6,225.4 L117.0,226.2 L117.4,227.0 L117.8,227.7 L118.2,228.5 L118.6,229.1 L119.0,229.8 L119.4,230.3 L119.8,230.9 L120.2,231.4 L120.6,231.8 L121.0,232.2 L121.4,232.6 L121.8,232.9 L122.2,233.2 L122.6,233.4 L123.0,233.6 L123.4,233.8 L123.8,233.9 L124.2,234.1 L124.6,234.1 L125.0,234.2 L125.4,234.3 L125.8,234.3 L126.2,234.3 L126.6,234.3 L127.0,234.4 L127.4,234.4 L127.7,234.4 L128.1,234.5 L128.5,234.5 L128.9,234.6 L129.3,234.7 L129.7,234.8 L130.1,234.9 L130.5,235.0 L130.9,235.2 L131.3,235.5 L131.7,235.8 L132.1,236.2 L132.5,236.8 L132.9,237.5 L133.3,238.3 L133.7,239.2 L134.1,240.2 L134.5,241.4 L134.9,242.6 L135.3,244.0 L135.7,245.4 L136.1,247.0 L136.5,248.6 L136.9,250.2 L137.3,252.0 L137.7,253.8 L138.1,255.6 L138.5,257.5 L138.9,259.5 L139.3,261.4 L139.7,263.4 L140.1,265.3 L140.5,267.3 L140.9,269.3 L141.3,271.2 L141.7,273.1 L142.1,275.0 L142.5,276.9 L142.9,278.7 L143.3,280.5 L143.7,282.3 L144.1,283.9 L144.5,285.6 L144.9,287.1 L145.2,288.6 L145.6,290.1 L146.0,291.4 L146.4,292.8 L146.8,294.1 L147.2,295.3 L147.6,296.4 L148.0,297.5 L148.4,298.5 L148.8,299.5 L149.2,300.4 L149.6,301.2 L150.0,301.9 L150.4,302.6 L150.8,303.2 L151.2,303.8 L151.6,304.3 L152.0,304.8 L152.4,305.3 L152.8,305.6 L153.2,305.9 L153.6,306.3 L154.0,306.6 L154.4,306.8 L154.8,307.1 L155.2,307.3 L155.6,307.4 L156.0,307.6 L156.4,307.7 L156.8,307.8 L157.2,307.9 L157.6,308.0 L158.0,308.0 L158.4,308.0 L158.8,308.1 L159.2,308.1 L159.6,308.2 L160.0,308.2 L160.4,308.2 L160.8,308.3 L161.2,308.3 L161.6,308.2 L162.0,308.3 L162.4,308.4 L162.7,308.4 L163.1,308.5 L163.5,308.5 L163.9,308.6 L164.3,308.7 L164.7,308.8 L165.1,308.9 L165.5,309.0 L165.9,309.0 L166.3,309.1 L166.7,309.2 L167.1,309.4 L167.5,309.5 L167.9,309.6 L168.3,309.6 L168.7,309.6 L169.1,309.8 L169.5,309.8 L169.9,309.8 L170.3,309.8 L170.7,309.8 L171.1,309.8 L171.5,309.7 L171.9,309.7 L172.3,309.6 L172.7,309.6 L173.1,309.5 L173.5,309.5" fill="none" stroke="#55656b" stroke-width="1.3" stroke-linejoin="round" stroke-linecap="round" clip-path="url(#clipC)"/>
<path d="M46.6,296.1 L47.0,296.5 L47.4,296.9 L47.8,297.2 L48.2,297.5 L48.6,297.8 L49.0,298.2 L49.4,298.5 L49.8,298.7 L50.2,298.9 L50.6,299.2 L51.0,299.4 L51.4,299.5 L51.8,299.7 L52.2,299.9 L52.6,300.0 L53.0,300.1 L53.4,300.2 L53.8,300.3 L54.2,300.3 L54.6,300.3 L55.0,300.4 L55.4,300.5 L55.8,300.4 L56.2,300.5 L56.6,300.5 L57.0,300.5 L57.4,300.5 L57.7,300.6 L58.1,300.6 L58.5,300.7 L58.9,300.8 L59.3,300.9 L59.7,301.0 L60.1,301.1 L60.5,301.3 L60.9,301.3 L61.3,301.4 L61.7,301.6 L62.1,301.8 L62.5,302.0 L62.9,302.1 L63.3,302.3 L63.7,302.5 L64.1,302.7 L64.5,302.9 L64.9,303.1 L65.3,303.3 L65.7,303.4 L66.1,303.6 L66.5,303.7 L66.9,303.8 L67.3,304.0 L67.7,304.1 L68.1,304.2 L68.5,304.3 L68.9,304.3 L69.3,304.4 L69.7,304.5 L70.1,304.6 L70.5,304.6 L70.9,304.6 L71.3,304.6 L71.7,304.6 L72.1,304.6 L72.5,304.6 L72.9,304.6 L73.3,304.7 L73.7,304.7 L74.1,304.7 L74.5,304.7 L74.9,304.7 L75.2,304.7 L75.6,304.8 L76.0,304.7 L76.4,304.7 L76.8,304.7 L77.2,304.7 L77.6,304.8 L78.0,304.7 L78.4,304.6 L78.8,304.6 L79.2,304.5 L79.6,304.4 L80.0,304.3 L80.4,304.2 L80.8,304.0 L81.2,303.7 L81.6,303.5 L82.0,303.2 L82.4,302.9 L82.8,302.5 L83.2,302.0 L83.6,301.5 L84.0,301.0 L84.4,300.4 L84.8,299.9 L85.2,299.2 L85.6,298.5 L86.0,297.8 L86.4,297.0 L86.8,296.1 L87.2,295.2 L87.6,294.2 L88.0,293.2 L88.4,292.2 L88.8,291.0 L89.2,289.9 L89.6,288.7 L90.0,287.4 L90.4,286.1 L90.8,284.6 L91.2,282.9 L91.6,281.2 L92.0,279.4 L92.4,277.5 L92.7,275.6 L93.1,273.6 L93.5,271.6 L93.9,269.5 L94.3,267.4 L94.7,265.2 L95.1,263.1 L95.5,260.8 L95.9,258.6 L96.3,256.3 L96.7,254.0 L97.1,251.7 L97.5,249.4 L97.9,247.1 L98.3,244.8 L98.7,242.6 L99.1,240.3 L99.5,238.1 L99.9,236.0 L100.3,233.8 L100.7,231.8 L101.1,229.8 L101.5,227.8 L101.9,226.0 L102.3,224.2 L102.7,222.5 L103.1,220.9 L103.5,219.3 L103.9,217.9 L104.3,216.6 L104.7,215.3 L105.1,214.2 L105.5,213.2 L105.9,212.3 L106.3,211.5 L106.7,210.9 L107.1,210.3 L107.5,209.9 L107.9,209.6 L108.3,209.4 L108.7,209.4 L109.1,209.4 L109.5,209.6 L109.9,209.8 L110.2,210.2 L110.6,210.6 L111.0,211.2 L111.4,211.8 L111.8,212.4 L112.2,213.1 L112.6,213.9 L113.0,214.8 L113.4,215.6 L113.8,216.5 L114.2,217.4 L114.6,218.3 L115.0,219.3 L115.4,220.2 L115.8,221.1 L116.2,222.1 L116.6,223.0 L117.0,223.8 L117.4,224.7 L117.8,225.5 L118.2,226.3 L118.6,227.0 L119.0,227.7 L119.4,228.4 L119.8,229.0 L120.2,229.6 L120.6,230.1 L121.0,230.6 L121.4,231.1 L121.8,231.5 L122.2,231.8 L122.6,232.2 L123.0,232.4 L123.4,232.7 L123.8,232.9 L124.2,233.1 L124.6,233.3 L125.0,233.4 L125.4,233.5 L125.8,233.6 L126.2,233.7 L126.6,233.8 L127.0,233.9 L127.4,234.0 L127.7,234.1 L128.1,234.2 L128.5,234.3 L128.9,234.4 L129.3,234.5 L129.7,234.7 L130.1,234.9 L130.5,235.1 L130.9,235.3 L131.3,235.6 L131.7,235.9 L132.1,236.4 L132.5,237.0 L132.9,237.8 L133.3,238.6 L133.7,239.6 L134.1,240.6 L134.5,241.8 L134.9,243.1 L135.3,244.4 L135.7,245.9 L136.1,247.4 L136.5,249.0 L136.9,250.7 L137.3,252.4 L137.7,254.2 L138.1,256.1 L138.5,257.9 L138.9,259.8 L139.3,261.8 L139.7,263.7 L140.1,265.7 L140.5,267.6 L140.9,269.5 L141.3,271.5 L141.7,273.4 L142.1,275.2 L142.5,277.1 L142.9,278.9 L143.3,280.7 L143.7,282.4 L144.1,284.0 L144.5,285.6 L144.9,287.1 L145.2,288.6 L145.6,290.0 L146.0,291.3 L146.4,292.6 L146.8,293.9 L147.2,295.1 L147.6,296.3 L148.0,297.4 L148.4,298.5 L148.8,299.5 L149.2,300.5 L149.6,301.3 L150.0,302.2 L150.4,303.0 L150.8,303.7 L151.2,304.5 L151.6,305.1 L152.0,305.7 L152.4,306.3 L152.8,306.8 L153.2,307.3 L153.6,307.8 L154.0,308.2 L154.4,308.5 L154.8,308.8 L155.2,309.1 L155.6,309.4 L156.0,309.6 L156.4,309.8 L156.8,310.0 L157.2,310.1 L157.6,310.1 L158.0,310.2 L158.4,310.4 L158.8,310.4 L159.2,310.4 L159.6,310.3 L160.0,310.3 L160.4,310.3 L160.8,310.3 L161.2,310.3 L161.6,310.2 L162.0,310.2 L162.4,310.2 L162.7,310.2 L163.1,310.2 L163.5,310.1 L163.9,310.1 L164.3,310.0 L164.7,310.0 L165.1,310.0 L165.5,310.0 L165.9,310.0 L166.3,310.0 L166.7,309.9 L167.1,309.9 L167.5,309.9 L167.9,309.9 L168.3,309.9 L168.7,309.9 L169.1,309.9 L169.5,309.9 L169.9,309.9 L170.3,309.9 L170.7,310.0 L171.1,310.0 L171.5,309.9 L171.9,309.9 L172.3,309.9 L172.7,309.9 L173.1,309.9 L173.5,309.9" fill="none" stroke="#3a88f0" stroke-width="1.6" stroke-linejoin="round" stroke-linecap="round" clip-path="url(#clipC)"/>
<path d="M46.6,308.8 L47.0,308.8 L47.4,308.7 L47.8,308.7 L48.2,308.7 L48.6,308.7 L49.0,308.6 L49.4,308.6 L49.8,308.6 L50.2,308.5 L50.6,308.4 L51.0,308.4 L51.4,308.3 L51.8,308.2 L52.2,308.1 L52.6,308.0 L53.0,307.8 L53.4,307.7 L53.8,307.5 L54.2,307.3 L54.6,307.1 L55.0,306.9 L55.4,306.6 L55.8,306.3 L56.2,306.0 L56.6,305.6 L57.0,305.3 L57.4,304.9 L57.7,304.5 L58.1,304.0 L58.5,303.6 L58.9,303.2 L59.3,302.7 L59.7,302.3 L60.1,302.0 L60.5,301.6 L60.9,301.2 L61.3,300.8 L61.7,300.6 L62.1,300.4 L62.5,300.1 L62.9,299.9 L63.3,299.8 L63.7,299.6 L64.1,299.4 L64.5,299.4 L64.9,299.4 L65.3,299.4 L65.7,299.6 L66.1,299.7 L66.5,299.9 L66.9,300.0 L67.3,300.2 L67.7,300.4 L68.1,300.6 L68.5,300.9 L68.9,301.2 L69.3,301.4 L69.7,301.5 L70.1,301.8 L70.5,302.1 L70.9,302.3 L71.3,302.6 L71.7,302.8 L72.1,303.0 L72.5,303.3 L72.9,303.5 L73.3,303.7 L73.7,304.0 L74.1,304.2 L74.5,304.6 L74.9,304.8 L75.2,305.0 L75.6,305.3 L76.0,305.6 L76.4,305.8 L76.8,306.0 L77.2,306.3 L77.6,306.6 L78.0,306.9 L78.4,307.1 L78.8,307.3 L79.2,307.6 L79.6,307.8 L80.0,308.2 L80.4,308.4 L80.8,308.5 L81.2,308.6 L81.6,308.7 L82.0,308.8 L82.4,308.9 L82.8,308.9 L83.2,309.0 L83.6,309.0 L84.0,309.0 L84.4,309.0 L84.8,308.7 L85.2,308.6 L85.6,308.5 L86.0,308.4 L86.4,308.3 L86.8,308.2 L87.2,308.0 L87.6,307.8 L88.0,307.7 L88.4,307.6 L88.8,307.3 L89.2,307.1 L89.6,306.9 L90.0,306.6 L90.4,306.3 L90.8,305.8 L91.2,305.4 L91.6,305.0 L92.0,304.5 L92.4,303.9 L92.7,303.3 L93.1,302.6 L93.5,301.8 L93.9,300.8 L94.3,299.8 L94.7,298.6 L95.1,297.4 L95.5,296.0 L95.9,294.5 L96.3,293.0 L96.7,291.3 L97.1,289.5 L97.5,287.7 L97.9,285.7 L98.3,283.8 L98.7,281.8 L99.1,279.8 L99.5,277.7 L99.9,275.6 L100.3,273.4 L100.7,271.3 L101.1,269.2 L101.5,267.1 L101.9,265.1 L102.3,263.1 L102.7,261.2 L103.1,259.3 L103.5,257.6 L103.9,256.0 L104.3,254.5 L104.7,253.1 L105.1,251.8 L105.5,250.7 L105.9,249.8 L106.3,248.9 L106.7,248.3 L107.1,247.7 L107.5,247.2 L107.9,246.8 L108.3,246.5 L108.7,246.2 L109.1,246.1 L109.5,246.0 L109.9,245.9 L110.2,246.0 L110.6,246.1 L111.0,246.2 L111.4,246.4 L111.8,246.6 L112.2,246.8 L112.6,247.0 L113.0,247.3 L113.4,247.5 L113.8,247.8 L114.2,248.0 L114.6,248.3 L115.0,248.5 L115.4,248.6 L115.8,248.8 L116.2,248.9 L116.6,249.0 L117.0,249.0 L117.4,249.0 L117.8,248.9 L118.2,248.8 L118.6,248.7 L119.0,248.4 L119.4,248.2 L119.8,247.9 L120.2,247.5 L120.6,247.1 L121.0,246.7 L121.4,246.2 L121.8,245.7 L122.2,245.2 L122.6,244.6 L123.0,244.0 L123.4,243.4 L123.8,242.8 L124.2,242.2 L124.6,241.6 L125.0,240.9 L125.4,240.3 L125.8,239.7 L126.2,239.0 L126.6,238.4 L127.0,237.9 L127.4,237.3 L127.7,236.8 L128.1,236.3 L128.5,235.9 L128.9,235.4 L129.3,235.1 L129.7,234.7 L130.1,234.5 L130.5,234.2 L130.9,234.1 L131.3,233.9 L131.7,233.9 L132.1,233.8 L132.5,233.9 L132.9,234.1 L133.3,234.5 L133.7,235.1 L134.1,235.8 L134.5,236.7 L134.9,237.7 L135.3,238.9 L135.7,240.3 L136.1,241.7 L136.5,243.3 L136.9,245.1 L137.3,246.9 L137.7,248.8 L138.1,250.8 L138.5,252.8 L138.9,255.0 L139.3,257.1 L139.7,259.3 L140.1,261.5 L140.5,263.8 L140.9,266.0 L141.3,268.2 L141.7,270.4 L142.1,272.6 L142.5,274.7 L142.9,276.7 L143.3,278.7 L143.7,280.7 L144.1,282.6 L144.5,284.4 L144.9,286.0 L145.2,287.6 L145.6,289.1 L146.0,290.4 L146.4,291.7 L146.8,293.0 L147.2,294.1 L147.6,295.2 L148.0,296.2 L148.4,297.2 L148.8,298.1 L149.2,299.0 L149.6,299.7 L150.0,300.4 L150.4,301.1 L150.8,301.6 L151.2,302.3 L151.6,302.8 L152.0,303.3 L152.4,303.7 L152.8,304.1 L153.2,304.4 L153.6,304.6 L154.0,304.9 L154.4,305.1 L154.8,305.4 L155.2,305.6 L155.6,305.9 L156.0,306.0 L156.4,306.1 L156.8,306.4 L157.2,306.5 L157.6,306.7 L158.0,306.7 L158.4,306.8 L158.8,306.9 L159.2,307.0 L159.6,307.1 L160.0,307.3 L160.4,307.6 L160.8,307.6 L161.2,307.7 L161.6,307.8 L162.0,307.9 L162.4,308.0 L162.7,308.2 L163.1,308.3 L163.5,308.4 L163.9,308.4 L164.3,308.6 L164.7,308.6 L165.1,308.8 L165.5,308.9 L165.9,308.9 L166.3,309.1 L166.7,309.1 L167.1,309.1 L167.5,309.2 L167.9,309.3 L168.3,309.3 L168.7,309.5 L169.1,309.6 L169.5,309.7 L169.9,309.7 L170.3,309.8 L170.7,309.7 L171.1,309.8 L171.5,309.9 L171.9,309.9 L172.3,310.0 L172.7,310.0 L173.1,310.1 L173.5,310.2" fill="none" stroke="#101010" stroke-width="1.4" stroke-linejoin="round" stroke-linecap="round" clip-path="url(#clipC)"/>
<path d="M46.6,278.6 L47.0,281.6 L47.4,284.4 L47.8,286.8 L48.2,289.1 L48.6,291.0 L49.0,292.7 L49.4,294.3 L49.8,295.8 L50.2,297.0 L50.6,298.3 L51.0,299.4 L51.4,300.3 L51.8,301.2 L52.2,302.0 L52.6,302.8 L53.0,303.4 L53.4,304.1 L53.8,304.7 L54.2,305.2 L54.6,305.7 L55.0,306.1 L55.4,306.5 L55.8,306.9 L56.2,307.2 L56.6,307.5 L57.0,307.7 L57.4,307.8 L57.7,308.0 L58.1,308.2 L58.5,308.3 L58.9,308.4 L59.3,308.5 L59.7,308.6 L60.1,308.7 L60.5,308.6 L60.9,308.6 L61.3,308.7 L61.7,308.7 L62.1,308.7 L62.5,308.8 L62.9,308.8 L63.3,308.8 L63.7,308.9 L64.1,308.9 L64.5,309.0 L64.9,309.1 L65.3,309.3 L65.7,309.4 L66.1,309.5 L66.5,309.6 L66.9,309.8 L67.3,310.0 L67.7,310.1 L68.1,310.2 L68.5,310.4 L68.9,310.6 L69.3,310.7 L69.7,310.9 L70.1,311.0 L70.5,311.1 L70.9,311.2 L71.3,311.2 L71.7,311.2 L72.1,311.2 L72.5,311.2 L72.9,311.3 L73.3,311.2 L73.7,311.2 L74.1,311.2 L74.5,311.0 L74.9,310.9 L75.2,310.9 L75.6,310.8 L76.0,310.7 L76.4,310.6 L76.8,310.5 L77.2,310.4 L77.6,310.2 L78.0,310.1 L78.4,310.0 L78.8,309.9 L79.2,309.8 L79.6,309.8 L80.0,309.6 L80.4,309.6 L80.8,309.5 L81.2,309.5 L81.6,309.4 L82.0,309.4 L82.4,309.3 L82.8,309.3 L83.2,309.2 L83.6,309.1 L84.0,309.0 L84.4,309.0 L84.8,308.9 L85.2,308.8 L85.6,308.7 L86.0,308.6 L86.4,308.6 L86.8,308.5 L87.2,308.3 L87.6,308.2 L88.0,308.1 L88.4,308.0 L88.8,307.8 L89.2,307.6 L89.6,307.5 L90.0,307.3 L90.4,307.1 L90.8,306.9 L91.2,306.7 L91.6,306.4 L92.0,306.2 L92.4,305.9 L92.7,305.6 L93.1,305.4 L93.5,305.0 L93.9,304.7 L94.3,304.3 L94.7,304.0 L95.1,303.5 L95.5,303.0 L95.9,302.5 L96.3,301.9 L96.7,301.1 L97.1,300.3 L97.5,299.4 L97.9,298.3 L98.3,297.2 L98.7,295.9 L99.1,294.5 L99.5,292.9 L99.9,291.1 L100.3,289.1 L100.7,286.9 L101.1,284.4 L101.5,281.7 L101.9,278.9 L102.3,275.9 L102.7,272.8 L103.1,269.7 L103.5,266.6 L103.9,263.5 L104.3,260.6 L104.7,257.8 L105.1,255.3 L105.5,253.1 L105.9,251.1 L106.3,249.6 L106.7,248.4 L107.1,247.6 L107.5,247.0 L107.9,246.5 L108.3,246.2 L108.7,246.1 L109.1,246.1 L109.5,246.2 L109.9,246.4 L110.2,246.8 L110.6,247.2 L111.0,247.7 L111.4,248.3 L111.8,248.9 L112.2,249.6 L112.6,250.2 L113.0,250.9 L113.4,251.6 L113.8,252.2 L114.2,252.8 L114.6,253.3 L115.0,253.8 L115.4,254.2 L115.8,254.5 L116.2,254.8 L116.6,254.9 L117.0,255.0 L117.4,255.0 L117.8,255.0 L118.2,254.8 L118.6,254.6 L119.0,254.3 L119.4,253.9 L119.8,253.5 L120.2,253.0 L120.6,252.5 L121.0,251.9 L121.4,251.2 L121.8,250.6 L122.2,249.9 L122.6,249.1 L123.0,248.4 L123.4,247.6 L123.8,246.8 L124.2,246.1 L124.6,245.3 L125.0,244.5 L125.4,243.7 L125.8,243.0 L126.2,242.2 L126.6,241.5 L127.0,240.8 L127.4,240.1 L127.7,239.4 L128.1,238.7 L128.5,238.1 L128.9,237.5 L129.3,237.0 L129.7,236.4 L130.1,235.9 L130.5,235.5 L130.9,235.0 L131.3,234.7 L131.7,234.3 L132.1,234.0 L132.5,233.7 L132.9,233.5 L133.3,233.3 L133.7,233.1 L134.1,233.0 L134.5,232.9 L134.9,232.9 L135.3,232.9 L135.7,233.1 L136.1,233.6 L136.5,234.3 L136.9,235.2 L137.3,236.3 L137.7,237.6 L138.1,239.1 L138.5,240.8 L138.9,242.6 L139.3,244.6 L139.7,246.8 L140.1,249.0 L140.5,251.3 L140.9,253.7 L141.3,256.2 L141.7,258.7 L142.1,261.2 L142.5,263.7 L142.9,266.2 L143.3,268.6 L143.7,271.0 L144.1,273.4 L144.5,275.6 L144.9,277.8 L145.2,279.8 L145.6,281.7 L146.0,283.5 L146.4,285.3 L146.8,286.9 L147.2,288.5 L147.6,289.8 L148.0,291.1 L148.4,292.2 L148.8,293.2 L149.2,294.1 L149.6,294.9 L150.0,295.6 L150.4,296.2 L150.8,296.9 L151.2,297.4 L151.6,297.9 L152.0,298.4 L152.4,298.8 L152.8,299.4 L153.2,299.9 L153.6,300.5 L154.0,301.1 L154.4,301.7 L154.8,302.2 L155.2,302.7 L155.6,303.4 L156.0,304.0 L156.4,304.6 L156.8,305.2 L157.2,305.8 L157.6,306.2 L158.0,306.8 L158.4,307.2 L158.8,307.6 L159.2,308.0 L159.6,308.3 L160.0,308.8 L160.4,309.1 L160.8,309.3 L161.2,309.6 L161.6,309.8 L162.0,310.1 L162.4,310.2 L162.7,310.3 L163.1,310.5 L163.5,310.5 L163.9,310.7 L164.3,310.8 L164.7,310.9 L165.1,310.9 L165.5,311.0 L165.9,311.0 L166.3,311.1 L166.7,311.2 L167.1,311.3 L167.5,311.4 L167.9,311.4 L168.3,311.5 L168.7,311.5 L169.1,311.5 L169.5,311.6 L169.9,311.5 L170.3,311.6 L170.7,311.6 L171.1,311.6 L171.5,311.6 L171.9,311.6 L172.3,311.6 L172.7,311.6 L173.1,311.6 L173.5,311.6" fill="none" stroke="#1a9a1a" stroke-width="1.5" stroke-linejoin="round" stroke-linecap="round" clip-path="url(#clipC)"/>
<rect x="46.7" y="202.6" width="126.39999999999999" height="110.70000000000002" fill="none" stroke="#1e1e1e" stroke-width="1.3"/>
<line x1="40.50" y1="310.20" x2="46.70" y2="310.20" stroke="#1e1e1e" stroke-width="1.3" />
<text x="38.50" y="314.80" font-size="13" fill="#000" stroke="#000" stroke-width="0.3" text-anchor="end" >0</text>
<line x1="65.10" y1="313.30" x2="65.10" y2="318.30" stroke="#1e1e1e" stroke-width="1.3" />
<line x1="101.35" y1="313.30" x2="101.35" y2="318.30" stroke="#1e1e1e" stroke-width="1.3" />
<line x1="137.60" y1="313.30" x2="137.60" y2="318.30" stroke="#1e1e1e" stroke-width="1.3" />
<text x="65.10" y="330.00" font-size="13" fill="#000" stroke="#000" stroke-width="0.3" text-anchor="middle" >20</text>
<text x="138.90" y="330.00" font-size="13" fill="#000" stroke="#000" stroke-width="0.3" text-anchor="middle" >40</text>
<text x="102.15" y="330.00" font-size="13" fill="#000" stroke="#000" stroke-width="0.3" text-anchor="middle" >30</text>
<text x="70.30" y="343.60" font-size="13" fill="#000" stroke="#000" stroke-width="0.3" text-anchor="start" textLength="76" lengthAdjust="spacingAndGlyphs" >Distance (Å)</text>
<text transform="translate(35.3,249) rotate(-90)" font-size="13" text-anchor="middle" fill="#000" font-style="italic" stroke="#000" stroke-width="0.3">P(r)</text>
<text x="66.5" y="221.9" font-size="12.8" fill="#000" stroke="#000" stroke-width="0.3"><tspan font-style="italic">P</tspan>(<tspan font-style="italic">r</tspan><tspan font-size="10.5" dy="1.9">bC</tspan><tspan dy="-1.9">)</tspan></text>
<text x="135" y="231.1" font-size="12.6" fill="#000" stroke="#000" stroke-width="0.3"><tspan font-style="italic">P</tspan>(<tspan font-style="italic">r</tspan><tspan font-size="10.3" dy="1.9">aC</tspan><tspan dy="-1.9">)</tspan></text>
<text x="60.90" y="242.70" font-size="12" fill="#000" stroke="#000" stroke-width="0.3" text-anchor="start" textLength="22" lengthAdjust="spacingAndGlyphs" >4 μs</text>
<text x="57.90" y="293.30" font-size="12" fill="#000" stroke="#000" stroke-width="0.3" text-anchor="start" textLength="29" lengthAdjust="spacingAndGlyphs" >80 μs</text>
<text x="56.50" y="265.50" font-size="13" fill="#000" stroke="#000" stroke-width="0.3" text-anchor="start" font-style="italic">T</text>
<line x1="69.80" y1="245.70" x2="69.80" y2="275.40" stroke="#000" stroke-width="1.3" />
<path d="M69.80,281.40 L66.80,273.40 L69.80,275.60 L72.80,273.40 Z" fill="#000"/>
<text x="209.30" y="200.00" font-size="16.5" fill="#000" stroke="#000" stroke-width="0.3" text-anchor="start" font-weight="bold">D</text>
<g clip-path="url(#clipD)">
<path d="M261.2,214.9 L261.8,215.8 L262.5,216.6 L263.1,217.5 L263.8,218.4 L264.4,219.3 L265.0,220.1 L265.7,221.0 L266.3,221.8 L267.0,222.7 L267.6,223.5 L268.2,224.4 L268.9,225.2 L269.5,226.0 L270.2,226.9 L270.8,227.7 L271.5,228.5 L272.1,229.3 L272.7,230.1 L273.4,230.9 L274.0,231.7 L274.7,232.4 L275.3,233.2 L275.9,234.0 L276.6,234.8 L277.2,235.5 L277.9,236.3 L278.5,237.0 L279.1,237.8 L279.8,238.5 L280.4,239.2 L281.1,240.0 L281.7,240.7 L282.3,241.4 L283.0,242.1 L283.6,242.9 L284.3,243.6 L284.9,244.3 L285.5,245.0 L286.2,245.7 L286.8,246.3 L287.5,247.0 L288.1,247.7 L288.8,248.4 L289.4,249.1 L290.0,249.7 L290.7,250.4 L291.3,251.0 L292.0,251.7 L292.6,252.3 L293.2,253.0 L293.9,253.6 L294.5,254.3 L295.2,254.9 L295.8,255.5 L296.4,256.1 L297.1,256.8 L297.7,257.4 L298.4,258.0 L299.0,258.6 L299.6,259.2 L300.3,259.8 L300.9,260.4 L301.6,261.0 L302.2,261.6 L302.8,262.1 L303.5,262.7 L304.1,263.3 L304.8,263.9 L305.4,264.4 L306.0,265.0 L306.7,265.6 L307.3,266.1 L308.0,266.7 L308.6,267.2 L309.3,267.8 L309.9,268.3 L310.5,268.8 L311.2,269.4 L311.8,269.9 L312.5,270.4 L313.1,271.0 L313.7,271.5 L314.4,272.0 L315.0,272.5 L315.7,273.0 L316.3,273.5 L316.9,274.0 L317.6,274.5 L318.2,275.0 L318.9,275.5 L319.5,276.0 L320.1,276.5 L320.8,277.0 L321.4,277.5 L322.1,277.9 L322.7,278.4 L323.3,278.9 L324.0,279.3 L324.6,279.8 L325.3,280.3 L325.9,280.7 L326.6,281.2 L327.2,281.6 L327.8,282.1 L328.5,282.5 L329.1,283.0 L329.8,283.4 L330.4,283.8 L331.0,284.3 L331.7,284.7 L332.3,285.1 L333.0,285.6 L333.6,286.0 L334.2,286.4 L334.9,286.8 L335.5,287.2 L336.2,287.6 L336.8,288.0 L337.4,288.5 L338.1,288.9 L338.7,289.3 L339.4,289.7 L340.0,290.1 L340.6,290.4 L341.3,290.8 L341.9,291.2 L342.6,291.6 L343.2,292.0 L343.9,292.4 L344.5,292.7 L345.1,293.1 L345.8,293.5 L346.4,293.9 L347.1,294.2 L347.7,294.6 L348.3,295.0 L349.0,295.3 L349.6,295.7 L350.3,296.0 L350.9,296.4 L351.5,296.7 L352.2,297.1 L352.8,297.4 L353.5,297.8 L354.1,298.1 L354.7,298.4 L355.4,298.8 L356.0,299.1 L356.7,299.4 L357.3,299.8 L357.9,300.1 L358.6,300.4 L359.2,300.7 L359.9,301.1 L360.5,301.4 L361.1,301.7 L361.8,302.0 L362.4,302.3 L363.1,302.6 L363.7,302.9 L364.4,303.3 L365.0,303.6 L365.6,303.9 L366.3,304.2 L366.9,304.5 L367.6,304.8 L368.2,305.1 L368.8,305.3 L369.5,305.6 L370.1,305.9 L370.8,306.2 L371.4,306.5 L372.0,306.8 L372.7,307.1 L373.3,307.3 L374.0,307.6 L374.6,307.9 L375.2,308.2 L375.9,308.4 L376.5,308.7 L377.2,309.0 L377.8,309.2 L378.4,309.5 L379.1,309.8 L379.7,310.0 L380.4,310.3 L381.0,310.5 L381.7,310.8 L382.3,311.0 L382.9,311.3 L383.6,311.5 L384.2,311.8 L384.9,312.0 L385.5,312.3 L386.1,312.5 L386.8,312.8 L387.4,313.0 L388.1,313.3 L388.7,313.5" fill="none" stroke="#1a3ff0" stroke-width="2.2" stroke-linejoin="round" stroke-linecap="round" />
</g>
<line x1="271.50" y1="221.90" x2="271.50" y2="238.70" stroke="#7f8a90" stroke-width="1.1" />
<line x1="268.30" y1="221.90" x2="274.70" y2="221.90" stroke="#7f8a90" stroke-width="1.1" />
<line x1="268.30" y1="238.70" x2="274.70" y2="238.70" stroke="#7f8a90" stroke-width="1.1" />
<line x1="276.50" y1="230.70" x2="276.50" y2="246.70" stroke="#7f8a90" stroke-width="1.1" />
<line x1="273.30" y1="230.70" x2="279.70" y2="230.70" stroke="#7f8a90" stroke-width="1.1" />
<line x1="273.30" y1="246.70" x2="279.70" y2="246.70" stroke="#7f8a90" stroke-width="1.1" />
<line x1="281.10" y1="231.50" x2="281.10" y2="247.50" stroke="#7f8a90" stroke-width="1.1" />
<line x1="277.90" y1="231.50" x2="284.30" y2="231.50" stroke="#7f8a90" stroke-width="1.1" />
<line x1="277.90" y1="247.50" x2="284.30" y2="247.50" stroke="#7f8a90" stroke-width="1.1" />
<line x1="286.50" y1="236.90" x2="286.50" y2="252.90" stroke="#7f8a90" stroke-width="1.1" />
<line x1="283.30" y1="236.90" x2="289.70" y2="236.90" stroke="#7f8a90" stroke-width="1.1" />
<line x1="283.30" y1="252.90" x2="289.70" y2="252.90" stroke="#7f8a90" stroke-width="1.1" />
<line x1="291.90" y1="238.40" x2="291.90" y2="254.40" stroke="#7f8a90" stroke-width="1.1" />
<line x1="288.70" y1="238.40" x2="295.10" y2="238.40" stroke="#7f8a90" stroke-width="1.1" />
<line x1="288.70" y1="254.40" x2="295.10" y2="254.40" stroke="#7f8a90" stroke-width="1.1" />
<line x1="296.50" y1="247.60" x2="296.50" y2="263.60" stroke="#7f8a90" stroke-width="1.1" />
<line x1="293.30" y1="247.60" x2="299.70" y2="247.60" stroke="#7f8a90" stroke-width="1.1" />
<line x1="293.30" y1="263.60" x2="299.70" y2="263.60" stroke="#7f8a90" stroke-width="1.1" />
<line x1="307.20" y1="252.20" x2="307.20" y2="268.20" stroke="#7f8a90" stroke-width="1.1" />
<line x1="304.00" y1="252.20" x2="310.40" y2="252.20" stroke="#7f8a90" stroke-width="1.1" />
<line x1="304.00" y1="268.20" x2="310.40" y2="268.20" stroke="#7f8a90" stroke-width="1.1" />
<line x1="301.80" y1="259.10" x2="301.80" y2="275.10" stroke="#7f8a90" stroke-width="1.1" />
<line x1="298.60" y1="259.10" x2="305.00" y2="259.10" stroke="#7f8a90" stroke-width="1.1" />
<line x1="298.60" y1="275.10" x2="305.00" y2="275.10" stroke="#7f8a90" stroke-width="1.1" />
<line x1="311.80" y1="260.30" x2="311.80" y2="276.30" stroke="#7f8a90" stroke-width="1.1" />
<line x1="308.60" y1="260.30" x2="315.00" y2="260.30" stroke="#7f8a90" stroke-width="1.1" />
<line x1="308.60" y1="276.30" x2="315.00" y2="276.30" stroke="#7f8a90" stroke-width="1.1" />
<line x1="325.30" y1="274.20" x2="325.30" y2="280.20" stroke="#7f8a90" stroke-width="1.1" />
<line x1="322.10" y1="274.20" x2="328.50" y2="274.20" stroke="#7f8a90" stroke-width="1.1" />
<line x1="322.10" y1="280.20" x2="328.50" y2="280.20" stroke="#7f8a90" stroke-width="1.1" />
<line x1="337.90" y1="281.10" x2="337.90" y2="287.10" stroke="#7f8a90" stroke-width="1.1" />
<line x1="334.70" y1="281.10" x2="341.10" y2="281.10" stroke="#7f8a90" stroke-width="1.1" />
<line x1="334.70" y1="287.10" x2="341.10" y2="287.10" stroke="#7f8a90" stroke-width="1.1" />
<line x1="350.50" y1="286.40" x2="350.50" y2="292.40" stroke="#7f8a90" stroke-width="1.1" />
<line x1="347.30" y1="286.40" x2="353.70" y2="286.40" stroke="#7f8a90" stroke-width="1.1" />
<line x1="347.30" y1="292.40" x2="353.70" y2="292.40" stroke="#7f8a90" stroke-width="1.1" />
<line x1="363.10" y1="291.90" x2="363.10" y2="297.90" stroke="#7f8a90" stroke-width="1.1" />
<line x1="359.90" y1="291.90" x2="366.30" y2="291.90" stroke="#7f8a90" stroke-width="1.1" />
<line x1="359.90" y1="297.90" x2="366.30" y2="297.90" stroke="#7f8a90" stroke-width="1.1" />
<circle cx="271.5" cy="230.3" r="3.75" fill="#fff" stroke="#2a78c8" stroke-width="2.7"/>
<circle cx="276.5" cy="238.7" r="3.75" fill="#fff" stroke="#5f6d75" stroke-width="2.7"/>
<circle cx="281.1" cy="239.5" r="3.75" fill="#fff" stroke="#5f6d75" stroke-width="2.7"/>
<circle cx="286.5" cy="244.9" r="3.75" fill="#fff" stroke="#1a3ff0" stroke-width="2.7"/>
<circle cx="291.9" cy="246.4" r="3.75" fill="#fff" stroke="#5f6d75" stroke-width="2.7"/>
<circle cx="296.5" cy="255.6" r="3.75" fill="#fff" stroke="#5f6d75" stroke-width="2.7"/>
<circle cx="307.2" cy="260.2" r="3.75" fill="#fff" stroke="#5f6d75" stroke-width="2.7"/>
<circle cx="301.8" cy="267.1" r="3.75" fill="#fff" stroke="#5f6d75" stroke-width="2.7"/>
<circle cx="311.8" cy="268.3" r="3.75" fill="#fff" stroke="#b0d058" stroke-width="2.7"/>
<circle cx="325.3" cy="277.2" r="3.75" fill="#fff" stroke="#5f6d75" stroke-width="2.7"/>
<circle cx="337.9" cy="284.1" r="3.75" fill="#fff" stroke="#000000" stroke-width="2.7"/>
<circle cx="350.5" cy="289.4" r="3.75" fill="#fff" stroke="#5f6d75" stroke-width="2.7"/>
<circle cx="363.1" cy="294.9" r="3.75" fill="#fff" stroke="#1a8a1a" stroke-width="2.7"/>
<circle cx="271.5" cy="230.3" r="3.1" fill="none" stroke="#58b8c8" stroke-width="1.2"/>
<circle cx="311.8" cy="268.3" r="5.8" fill="none" stroke="#f0f4c8" stroke-width="1.6" opacity="0.8"/>
<circle cx="311.8" cy="268.3" r="3.1" fill="none" stroke="#d8e8a0" stroke-width="1.2"/>
<rect x="261.2" y="202.5" width="127.0" height="111.19999999999999" fill="none" stroke="#1e1e1e" stroke-width="1.3"/>
<line x1="255.00" y1="210.00" x2="261.20" y2="210.00" stroke="#1e1e1e" stroke-width="1.3" />
<text x="254.00" y="213.70" font-size="13" fill="#000" stroke="#000" stroke-width="0.3" text-anchor="end" >2.0</text>
<line x1="255.00" y1="244.70" x2="261.20" y2="244.70" stroke="#1e1e1e" stroke-width="1.3" />
<text x="254.00" y="248.40" font-size="13" fill="#000" stroke="#000" stroke-width="0.3" text-anchor="end" >1.5</text>
<line x1="255.00" y1="279.40" x2="261.20" y2="279.40" stroke="#1e1e1e" stroke-width="1.3" />
<text x="254.00" y="283.10" font-size="13" fill="#000" stroke="#000" stroke-width="0.3" text-anchor="end" >1.0</text>
<line x1="255.00" y1="314.10" x2="261.20" y2="314.10" stroke="#1e1e1e" stroke-width="1.3" />
<text x="254.00" y="317.80" font-size="13" fill="#000" stroke="#000" stroke-width="0.3" text-anchor="end" >0.5</text>
<line x1="286.70" y1="313.70" x2="286.70" y2="318.50" stroke="#1e1e1e" stroke-width="1.3" />
<text x="286.70" y="330.20" font-size="13" fill="#000" stroke="#000" stroke-width="0.3" text-anchor="middle" >20</text>
<line x1="312.20" y1="313.70" x2="312.20" y2="318.50" stroke="#1e1e1e" stroke-width="1.3" />
<text x="312.20" y="330.20" font-size="13" fill="#000" stroke="#000" stroke-width="0.3" text-anchor="middle" >40</text>
<line x1="337.70" y1="313.70" x2="337.70" y2="318.50" stroke="#1e1e1e" stroke-width="1.3" />
<text x="337.70" y="330.20" font-size="13" fill="#000" stroke="#000" stroke-width="0.3" text-anchor="middle" >60</text>
<line x1="363.20" y1="313.70" x2="363.20" y2="318.50" stroke="#1e1e1e" stroke-width="1.3" />
<text x="363.20" y="330.20" font-size="13" fill="#000" stroke="#000" stroke-width="0.3" text-anchor="middle" >80</text>
<text x="262.80" y="343.30" font-size="13" fill="#000" stroke="#000" stroke-width="0.3" text-anchor="start" textLength="126" lengthAdjust="spacingAndGlyphs" >Evolution time T (μs)</text>
<text transform="translate(223.6,254.8) rotate(-90)" font-size="12.8" text-anchor="middle" fill="#000" textLength="94" lengthAdjust="spacingAndGlyphs" stroke="#000" stroke-width="0.3"><tspan font-style="italic">P</tspan>(<tspan font-style="italic">r</tspan><tspan font-size="9.5" dy="1.8">bC</tspan><tspan dy="-1.8">, </tspan><tspan font-style="italic">T</tspan>)/<tspan font-style="italic">P</tspan>(<tspan font-style="italic">r</tspan><tspan font-size="9.5" dy="1.8">aC</tspan><tspan dy="-1.8">, </tspan><tspan font-style="italic">T</tspan>)</text>
<text x="314.6" y="215.3" font-size="12.6" textLength="71" lengthAdjust="spacing" fill="#000" stroke="#000" stroke-width="0.3"><tspan font-style="italic">T</tspan><tspan font-size="10" dy="1.8">m,a</tspan><tspan dy="-1.8"> ~ 23 μs</tspan></text>
<text x="314.6" y="230.3" font-size="12.6" textLength="71" lengthAdjust="spacing" fill="#000" stroke="#000" stroke-width="0.3"><tspan font-style="italic">T</tspan><tspan font-size="10" dy="1.8">m,b</tspan><tspan dy="-1.8"> ~ 14 μs</tspan></text>
<text x="326.4" y="246.3" font-size="12.6" fill="#000" stroke="#000" stroke-width="0.3"><tspan font-style="italic">p</tspan><tspan font-size="10" dy="1.5">b</tspan><tspan dy="-1.5"> ~ 66%</tspan></text>
<text x="1.80" y="352.60" font-size="16.5" fill="#000" stroke="#000" stroke-width="0.3" text-anchor="start" font-weight="bold">E</text>
<path d="M52.3,360.9 L52.3,367.3 L52.5,367.6 L52.8,367.9 L53.0,368.0 L53.2,369.0 L53.5,373.8 L53.7,378.0 L53.9,380.9 L54.1,384.2 L54.4,385.9 L54.6,388.3 L54.8,390.1 L55.1,391.7 L55.3,393.1 L55.5,393.5 L55.8,396.0 L56.0,396.5 L56.2,397.2 L56.5,398.3 L56.7,399.5 L56.9,399.7 L57.2,401.5 L57.4,402.4 L57.6,402.6 L57.8,404.1 L58.1,405.1 L58.3,404.8 L58.5,405.6 L58.8,406.3 L59.0,407.4 L59.2,407.9 L59.5,408.9 L59.7,408.7 L59.9,409.7 L60.2,410.4 L60.4,411.9 L60.6,411.6 L60.9,412.0 L61.1,412.8 L61.3,413.5 L61.5,414.4 L61.8,415.1 L62.0,415.4 L62.2,416.0 L62.5,416.7 L62.7,417.4 L62.9,417.3 L63.2,418.8 L63.4,419.0 L63.6,419.7 L63.9,419.7 L64.1,420.1 L64.3,420.7 L64.6,421.3 L64.8,422.6 L65.0,421.9 L65.2,422.9 L65.5,423.6 L65.7,424.1 L65.9,424.7 L66.2,424.9 L66.4,425.4 L66.6,426.1 L66.9,427.3 L67.1,426.9 L67.3,427.1 L67.6,427.5 L67.8,428.2 L68.0,428.4 L68.3,428.6 L68.5,429.6 L68.7,429.3 L68.9,430.9 L69.2,431.0 L69.4,431.3 L69.6,432.2 L69.9,432.1 L70.1,431.7 L70.3,432.1 L70.6,432.9 L70.8,432.7 L71.0,433.6 L71.3,434.2 L71.5,434.3 L71.7,434.7 L72.0,434.8 L72.2,435.9 L72.4,435.4 L72.6,436.2 L72.9,436.1 L73.1,437.2 L73.3,437.1 L73.6,437.3 L73.8,437.3 L74.0,438.3 L74.3,437.7 L74.5,438.4 L74.7,439.0 L75.0,438.7 L75.2,439.4 L75.4,439.3 L75.7,439.2 L75.9,440.0 L76.1,440.7 L76.3,440.9 L76.6,440.9 L76.8,441.2 L77.0,441.8 L77.3,442.0 L77.5,441.9 L77.7,441.5 L78.0,443.5 L78.2,442.6 L78.4,443.1 L78.7,443.0 L78.9,443.2 L79.1,443.7 L79.4,444.3 L79.6,444.7 L79.8,445.1 L80.0,444.3 L80.3,445.0 L80.5,445.3 L80.7,445.4 L81.0,446.0 L81.2,445.6 L81.4,445.5 L81.7,445.8 L81.9,446.9 L82.1,446.1 L82.4,447.0 L82.6,447.6 L82.8,447.5 L83.1,447.6 L83.3,447.5 L83.5,448.0 L83.7,448.4 L84.0,448.1 L84.2,447.6 L84.4,448.6 L84.7,448.4 L84.9,448.7 L85.1,448.0 L85.4,449.7 L85.6,448.9 L85.8,449.8 L86.1,449.7 L86.3,449.7 L86.5,448.8 L86.8,450.3 L87.0,450.8 L87.2,449.9 L87.4,450.7 L87.7,450.7 L87.9,450.8 L88.1,450.9 L88.4,451.1 L88.6,451.1 L88.8,451.2 L89.1,451.2 L89.3,451.7 L89.5,452.0 L89.8,452.2 L90.0,451.8 L90.2,452.1 L90.5,452.0 L90.7,452.1 L90.9,451.9 L91.1,452.5 L91.4,452.4 L91.6,453.2 L91.8,453.2 L92.1,453.1 L92.3,453.5 L92.5,453.0 L92.8,453.8 L93.0,453.4 L93.2,454.3 L93.5,454.0 L93.7,453.8 L93.9,453.9 L94.2,454.5 L94.4,454.0 L94.6,453.8 L94.8,454.0 L95.1,454.5 L95.3,454.6 L95.5,454.9 L95.8,454.4 L96.0,454.2 L96.2,454.9 L96.5,455.4 L96.7,454.8 L96.9,454.8 L97.2,456.0 L97.4,455.1 L97.6,454.5 L97.9,455.0 L98.1,455.2 L98.3,455.3 L98.5,455.2 L98.8,455.9 L99.0,456.0 L99.2,455.6 L99.5,456.1 L99.7,455.8 L99.9,456.6 L100.2,455.8 L100.4,455.8 L100.6,456.2 L100.9,456.2 L101.1,455.8 L101.3,456.8 L101.6,456.8 L101.8,456.9 L102.0,456.7 L102.2,457.0 L102.5,456.7 L102.7,457.0 L102.9,457.3 L103.2,457.4 L103.4,456.5 L103.6,457.0 L103.9,457.1 L104.1,457.1 L104.3,457.2 L104.6,457.0 L104.8,457.1 L105.0,457.5 L105.3,457.7 L105.5,457.8 L105.7,457.9 L105.9,457.1 L106.2,457.9 L106.4,458.3 L106.6,458.0 L106.9,458.0 L107.1,457.7 L107.3,458.1 L107.6,457.7 L107.8,457.8 L108.0,457.5 L108.3,457.3 L108.5,457.1 L108.7,457.6 L109.0,458.5 L109.2,458.3 L109.4,458.1 L109.6,457.6 L109.9,458.1 L110.1,457.9 L110.3,458.4 L110.6,458.2 L110.8,458.2 L111.0,458.6 L111.3,458.3 L111.5,458.2 L111.7,458.7 L112.0,458.3 L112.2,458.1 L112.4,458.7 L112.7,458.8 L112.9,458.9 L113.1,459.0 L113.3,458.8 L113.6,459.0 L113.8,459.0 L114.0,459.2 L114.3,459.5 L114.5,459.3 L114.7,458.9 L115.0,459.5 L115.2,459.3 L115.4,458.6 L115.7,458.8 L115.9,459.4 L116.1,459.0 L116.4,459.5 L116.6,458.7 L116.8,459.5 L117.0,459.3 L117.3,458.9 L117.5,459.7 L117.7,459.0 L118.0,459.7 L118.2,459.4 L118.4,459.6 L118.7,459.5 L118.9,459.5 L119.1,459.6 L119.4,459.9 L119.6,459.3 L119.8,459.4 L120.1,459.2 L120.3,459.2 L120.5,460.1 L120.7,459.3 L121.0,459.3 L121.2,459.9 L121.4,459.4 L121.7,459.3 L121.9,460.0 L122.1,460.3 L122.4,460.0 L122.6,459.0 L122.8,459.8 L123.1,460.3 L123.3,460.0 L123.5,460.3 L123.8,460.1 L124.0,460.0 L124.2,460.9 L124.4,459.9 L124.7,459.6 L124.9,460.1 L125.1,460.2 L125.4,459.7 L125.6,460.6 L125.8,460.6 L126.1,460.6 L126.3,460.2 L126.5,460.1 L126.8,460.2 L127.0,460.0 L127.2,460.0 L127.5,460.1 L127.7,460.5 L127.9,460.4 L128.1,459.9 L128.4,460.7 L128.6,460.4 L128.8,460.5 L129.1,460.4 L129.3,460.7 L129.5,460.8 L129.8,459.5 L130.0,460.1 L130.2,460.7 L130.5,460.5 L130.7,460.2 L130.9,460.6 L131.2,460.3 L131.4,460.7 L131.6,460.6 L131.8,460.5 L132.1,460.7 L132.3,461.4 L132.5,460.5 L132.8,460.5 L133.0,460.4 L133.2,460.9 L133.5,460.5 L133.7,460.5 L133.9,461.2 L134.2,461.4 L134.4,460.5 L134.6,461.0 L134.8,460.3 L135.1,459.9 L135.3,460.9 L135.5,460.9 L135.8,460.7 L136.0,460.5 L136.2,461.1 L136.5,460.3 L136.7,460.4 L136.9,460.5 L137.2,460.9 L137.4,460.5 L137.6,460.5 L137.9,461.2 L138.1,460.1 L138.3,460.9 L138.5,460.7 L138.8,461.0 L139.0,460.7 L139.2,460.4 L139.5,461.1 L139.7,461.4 L139.9,461.0 L140.2,461.3 L140.4,461.1 L140.6,460.9 L140.9,460.9 L141.1,460.5 L141.3,461.2 L141.6,460.8 L141.8,461.1 L142.0,460.5 L142.2,460.1 L142.5,460.8 L142.7,460.4 L142.9,461.1 L143.2,461.5 L143.4,461.4 L143.6,461.5 L143.9,461.3 L144.1,461.0 L144.3,460.6 L144.6,460.7 L144.8,460.8 L145.0,461.1 L145.3,461.2 L145.5,461.0 L145.7,461.0 L145.9,460.9 L146.2,460.9 L146.4,461.1 L146.6,461.7 L146.9,461.4 L147.1,461.3 L147.3,460.5 L147.6,461.2 L147.8,460.8 L148.0,460.6 L148.3,461.0 L148.5,461.2 L148.7,461.2 L149.0,461.4 L149.2,461.0 L149.4,460.7 L149.6,460.9 L149.9,460.8 L150.1,460.9 L150.3,460.4 L150.6,461.3 L150.8,461.1 L151.0,460.9 L151.3,460.7 L151.5,461.9 L151.7,461.3 L152.0,461.2 L152.2,461.5 L152.4,460.9 L152.7,461.1 L152.9,461.3 L153.1,461.7 L153.3,461.6 L153.6,461.5 L153.8,461.0 L154.0,461.6 L154.3,461.9 L154.5,461.7 L154.7,461.4 L155.0,460.6 L155.2,460.3 L155.4,461.3 L155.7,460.9 L155.9,460.7 L156.1,460.8 L156.4,461.2 L156.6,461.6 L156.8,461.4 L157.0,461.8 L157.3,461.1 L157.5,461.0 L157.7,461.8 L158.0,461.2 L158.2,461.1 L158.4,460.8 L158.7,460.8 L158.9,461.0 L159.1,461.5 L159.4,461.4 L159.6,460.8 L159.8,461.4 L160.1,461.3 L160.3,460.7 L160.5,461.2 L160.7,461.7 L161.0,461.3 L161.2,461.0 L161.4,461.3 L161.7,460.9 L161.9,460.8 L162.1,461.5 L162.4,461.4 L162.6,461.3 L162.8,461.7 L163.1,461.1 L163.3,461.3 L163.5,461.0 L163.8,461.5 L164.0,461.6 L164.2,460.7 L164.4,461.6 L164.7,461.5 L164.9,461.5 L165.1,461.4 L165.4,461.6 L165.6,461.3 L165.8,461.5 L166.1,461.4 L166.3,461.2 L166.5,461.1 L166.8,461.1 L167.0,461.5 L167.2,461.2 L167.5,461.3 L167.7,461.3" fill="none" stroke="#ff1a1a" stroke-width="2.3" stroke-linejoin="round" stroke-linecap="round" />
<path d="M52.5,367.6 L52.8,367.6 L53.0,367.6 L53.2,369.2 L53.5,374.0 L53.7,377.9 L53.9,381.2 L54.1,384.0 L54.4,386.3 L54.6,388.3 L54.8,390.1 L55.1,391.7 L55.3,393.0 L55.5,394.3 L55.8,395.5 L56.0,396.6 L56.2,397.6 L56.5,398.5 L56.7,399.4 L56.9,400.3 L57.2,401.2 L57.4,402.0 L57.6,402.8 L57.8,403.6 L58.1,404.3 L58.3,405.1 L58.5,405.8 L58.8,406.5 L59.0,407.2 L59.2,407.9 L59.5,408.6 L59.7,409.3 L59.9,410.0 L60.2,410.6 L60.4,411.3 L60.6,411.9 L60.9,412.5 L61.1,413.2 L61.3,413.8 L61.5,414.4 L61.8,415.0 L62.0,415.6 L62.2,416.2 L62.5,416.7 L62.7,417.3 L62.9,417.9 L63.2,418.4 L63.4,419.0 L63.6,419.5 L63.9,420.0 L64.1,420.6 L64.3,421.1 L64.6,421.6 L64.8,422.1 L65.0,422.6 L65.2,423.1 L65.5,423.6 L65.7,424.1 L65.9,424.5 L66.2,425.0 L66.4,425.5 L66.6,425.9 L66.9,426.4 L67.1,426.8 L67.3,427.3 L67.6,427.7 L67.8,428.1 L68.0,428.6 L68.3,429.0 L68.5,429.4 L68.7,429.8 L68.9,430.2 L69.2,430.6 L69.4,431.0 L69.6,431.4 L69.9,431.8 L70.1,432.2 L70.3,432.5 L70.6,432.9 L70.8,433.3 L71.0,433.6 L71.3,434.0 L71.5,434.3 L71.7,434.7 L72.0,435.0 L72.2,435.4 L72.4,435.7 L72.6,436.0 L72.9,436.4 L73.1,436.7 L73.3,437.0 L73.6,437.3 L73.8,437.6 L74.0,437.9 L74.3,438.2 L74.5,438.5 L74.7,438.8 L75.0,439.1 L75.2,439.4 L75.4,439.7 L75.7,440.0 L75.9,440.2 L76.1,440.5 L76.3,440.8 L76.6,441.0 L76.8,441.3 L77.0,441.6 L77.3,441.8 L77.5,442.1 L77.7,442.3 L78.0,442.6 L78.2,442.8 L78.4,443.1 L78.7,443.3 L78.9,443.5 L79.1,443.8 L79.4,444.0 L79.6,444.2 L79.8,444.4 L80.0,444.7 L80.3,444.9 L80.5,445.1 L80.7,445.3 L81.0,445.5 L81.2,445.7 L81.4,445.9 L81.7,446.1 L81.9,446.3 L82.1,446.5 L82.4,446.7 L82.6,446.9 L82.8,447.1 L83.1,447.3 L83.3,447.5 L83.5,447.7 L83.7,447.9 L84.0,448.0 L84.2,448.2 L84.4,448.4 L84.7,448.6 L84.9,448.7 L85.1,448.9 L85.4,449.1 L85.6,449.2 L85.8,449.4 L86.1,449.5 L86.3,449.7 L86.5,449.9 L86.8,450.0 L87.0,450.2 L87.2,450.3 L87.4,450.5 L87.7,450.6 L87.9,450.8 L88.1,450.9 L88.4,451.0 L88.6,451.2 L88.8,451.3 L89.1,451.5 L89.3,451.6 L89.5,451.7 L89.8,451.8 L90.0,452.0 L90.2,452.1 L90.5,452.2 L90.7,452.3 L90.9,452.4 L91.1,452.5 L91.4,452.7 L91.6,452.8 L91.8,452.9 L92.1,453.0 L92.3,453.1 L92.5,453.2 L92.8,453.3 L93.0,453.4 L93.2,453.5 L93.5,453.6 L93.7,453.7 L93.9,453.8 L94.2,453.9 L94.4,454.0 L94.6,454.1 L94.8,454.2 L95.1,454.3 L95.3,454.4 L95.5,454.5 L95.8,454.6 L96.0,454.7 L96.2,454.7 L96.5,454.8 L96.7,454.9 L96.9,455.0 L97.2,455.1 L97.4,455.2 L97.6,455.2 L97.9,455.3 L98.1,455.4 L98.3,455.5 L98.5,455.5 L98.8,455.6 L99.0,455.7 L99.2,455.8 L99.5,455.8 L99.7,455.9 L99.9,456.0 L100.2,456.1 L100.4,456.1 L100.6,456.2 L100.9,456.3 L101.1,456.3 L101.3,456.4 L101.6,456.5 L101.8,456.5 L102.0,456.6 L102.2,456.6 L102.5,456.7 L102.7,456.8 L102.9,456.8 L103.2,456.9 L103.4,456.9 L103.6,457.0 L103.9,457.1 L104.1,457.1 L104.3,457.2 L104.6,457.2 L104.8,457.3 L105.0,457.3 L105.3,457.4 L105.5,457.4 L105.7,457.5 L105.9,457.5 L106.2,457.6 L106.4,457.6 L106.6,457.7 L106.9,457.7 L107.1,457.8 L107.3,457.8 L107.6,457.9 L107.8,457.9 L108.0,458.0 L108.3,458.0 L108.5,458.1 L108.7,458.1 L109.0,458.1 L109.2,458.2 L109.4,458.2 L109.6,458.3 L109.9,458.3 L110.1,458.3 L110.3,458.4 L110.6,458.4 L110.8,458.5 L111.0,458.5 L111.3,458.5 L111.5,458.6 L111.7,458.6 L112.0,458.6 L112.2,458.7 L112.4,458.7 L112.7,458.8 L112.9,458.8 L113.1,458.8 L113.3,458.9 L113.6,458.9 L113.8,458.9 L114.0,459.0 L114.3,459.0 L114.5,459.0 L114.7,459.0 L115.0,459.1 L115.2,459.1 L115.4,459.1 L115.7,459.2 L115.9,459.2 L116.1,459.2 L116.4,459.3 L116.6,459.3 L116.8,459.3 L117.0,459.3 L117.3,459.4 L117.5,459.4 L117.7,459.4 L118.0,459.4 L118.2,459.5 L118.4,459.5 L118.7,459.5 L118.9,459.5 L119.1,459.6 L119.4,459.6 L119.6,459.6 L119.8,459.6 L120.1,459.7 L120.3,459.7 L120.5,459.7 L120.7,459.7 L121.0,459.7 L121.2,459.8 L121.4,459.8 L121.7,459.8 L121.9,459.8 L122.1,459.9 L122.4,459.9 L122.6,459.9 L122.8,459.9 L123.1,459.9 L123.3,459.9 L123.5,460.0 L123.8,460.0 L124.0,460.0 L124.2,460.0 L124.4,460.0 L124.7,460.1 L124.9,460.1 L125.1,460.1 L125.4,460.1 L125.6,460.1 L125.8,460.1 L126.1,460.2 L126.3,460.2 L126.5,460.2 L126.8,460.2 L127.0,460.2 L127.2,460.2 L127.5,460.3 L127.7,460.3 L127.9,460.3 L128.1,460.3 L128.4,460.3 L128.6,460.3 L128.8,460.3 L129.1,460.4 L129.3,460.4 L129.5,460.4 L129.8,460.4 L130.0,460.4 L130.2,460.4 L130.5,460.4 L130.7,460.5 L130.9,460.5 L131.2,460.5 L131.4,460.5 L131.6,460.5 L131.8,460.5 L132.1,460.5 L132.3,460.5 L132.5,460.5 L132.8,460.6 L133.0,460.6 L133.2,460.6 L133.5,460.6 L133.7,460.6 L133.9,460.6 L134.2,460.6 L134.4,460.6 L134.6,460.6 L134.8,460.7 L135.1,460.7 L135.3,460.7 L135.5,460.7 L135.8,460.7 L136.0,460.7 L136.2,460.7 L136.5,460.7 L136.7,460.7 L136.9,460.7 L137.2,460.7 L137.4,460.8 L137.6,460.8 L137.9,460.8 L138.1,460.8 L138.3,460.8 L138.5,460.8 L138.8,460.8 L139.0,460.8 L139.2,460.8 L139.5,460.8 L139.7,460.8 L139.9,460.8 L140.2,460.9 L140.4,460.9 L140.6,460.9 L140.9,460.9 L141.1,460.9 L141.3,460.9 L141.6,460.9 L141.8,460.9 L142.0,460.9 L142.2,460.9 L142.5,460.9 L142.7,460.9 L142.9,460.9 L143.2,460.9 L143.4,460.9 L143.6,461.0 L143.9,461.0 L144.1,461.0 L144.3,461.0 L144.6,461.0 L144.8,461.0 L145.0,461.0 L145.3,461.0 L145.5,461.0 L145.7,461.0 L145.9,461.0 L146.2,461.0 L146.4,461.0 L146.6,461.0 L146.9,461.0 L147.1,461.0 L147.3,461.0 L147.6,461.0 L147.8,461.1 L148.0,461.1 L148.3,461.1 L148.5,461.1 L148.7,461.1 L149.0,461.1 L149.2,461.1 L149.4,461.1 L149.6,461.1 L149.9,461.1 L150.1,461.1 L150.3,461.1 L150.6,461.1 L150.8,461.1 L151.0,461.1 L151.3,461.1 L151.5,461.1 L151.7,461.1 L152.0,461.1 L152.2,461.1 L152.4,461.1 L152.7,461.1 L152.9,461.1 L153.1,461.2 L153.3,461.2 L153.6,461.2 L153.8,461.2 L154.0,461.2 L154.3,461.2 L154.5,461.2 L154.7,461.2 L155.0,461.2 L155.2,461.2 L155.4,461.2 L155.7,461.2 L155.9,461.2 L156.1,461.2 L156.4,461.2 L156.6,461.2 L156.8,461.2 L157.0,461.2 L157.3,461.2 L157.5,461.2 L157.7,461.2 L158.0,461.2 L158.2,461.2 L158.4,461.2 L158.7,461.2 L158.9,461.2 L159.1,461.2 L159.4,461.2 L159.6,461.2 L159.8,461.2 L160.1,461.2 L160.3,461.2 L160.5,461.2 L160.7,461.2 L161.0,461.3 L161.2,461.3 L161.4,461.3 L161.7,461.3 L161.9,461.3 L162.1,461.3 L162.4,461.3 L162.6,461.3 L162.8,461.3 L163.1,461.3 L163.3,461.3 L163.5,461.3 L163.8,461.3 L164.0,461.3 L164.2,461.3 L164.4,461.3 L164.7,461.3 L164.9,461.3 L165.1,461.3 L165.4,461.3 L165.6,461.3 L165.8,461.3 L166.1,461.3 L166.3,461.3 L166.5,461.3 L166.8,461.3 L167.0,461.3 L167.2,461.3 L167.5,461.3 L167.7,461.3" fill="none" stroke="#2a2ac8" stroke-width="1.2" stroke-linejoin="round" stroke-linecap="round" />
<rect x="46.5" y="356.0" width="127.80000000000001" height="112.30000000000001" fill="none" stroke="#1e1e1e" stroke-width="1.3"/>
<line x1="40.80" y1="367.60" x2="46.50" y2="367.60" stroke="#1e1e1e" stroke-width="1.3" />
<text x="38.90" y="372.10" font-size="13" fill="#000" stroke="#000" stroke-width="0.3" text-anchor="end" >1.0</text>
<line x1="40.80" y1="415.25" x2="46.50" y2="415.25" stroke="#1e1e1e" stroke-width="1.3" />
<text x="38.90" y="419.75" font-size="13" fill="#000" stroke="#000" stroke-width="0.3" text-anchor="end" >0.5</text>
<line x1="40.80" y1="462.90" x2="46.50" y2="462.90" stroke="#1e1e1e" stroke-width="1.3" />
<text x="38.90" y="467.40" font-size="13" fill="#000" stroke="#000" stroke-width="0.3" text-anchor="end" >0</text>
<line x1="52.30" y1="468.30" x2="52.30" y2="473.30" stroke="#1e1e1e" stroke-width="1.3" />
<text x="52.30" y="485.70" font-size="13" fill="#000" stroke="#000" stroke-width="0.3" text-anchor="middle" >0</text>
<line x1="101.40" y1="468.30" x2="101.40" y2="473.30" stroke="#1e1e1e" stroke-width="1.3" />
<text x="101.40" y="485.70" font-size="13" fill="#000" stroke="#000" stroke-width="0.3" text-anchor="middle" >40</text>
<line x1="150.50" y1="468.30" x2="150.50" y2="473.30" stroke="#1e1e1e" stroke-width="1.3" />
<text x="150.50" y="485.70" font-size="13" fill="#000" stroke="#000" stroke-width="0.3" text-anchor="middle" >80</text>
<text transform="translate(15.2,413.6) rotate(-90)" font-size="13" text-anchor="middle" fill="#000" textLength="50" lengthAdjust="spacingAndGlyphs" stroke="#000" stroke-width="0.3">Intensity</text>
<text x="58.30" y="375.40" font-size="14" fill="#ff1a1a" stroke="#ff1a1a" stroke-width="0.3" text-anchor="start" textLength="21.9" lengthAdjust="spacingAndGlyphs" >exp</text>
<text x="110.70" y="376.60" font-size="13.5" fill="#ff1a1a" stroke="#ff1a1a" stroke-width="0.3" text-anchor="start" textLength="56.4" lengthAdjust="spacingAndGlyphs" >Q39C-R1</text>
<text x="104.00" y="451.20" font-size="13" fill="#2a3ad8" stroke="#2a3ad8" stroke-width="0.3" text-anchor="start" textLength="24.5" lengthAdjust="spacingAndGlyphs" >calc</text>
<text x="154.30" y="498.00" font-size="13" fill="#000" stroke="#000" stroke-width="0.3" text-anchor="start" textLength="130.6" lengthAdjust="spacingAndGlyphs" >Evolution time T (μs)</text>
<path d="M267.3,409.8 L267.4,360.3 L267.5,462.2 L267.5,372.9 L267.6,454.1 L267.7,384.0 L267.8,443.0 L267.9,391.3 L268.0,420.5 L268.0,401.6 L268.1,413.4 L268.2,385.2 L268.3,408.9 L268.4,392.6 L268.5,394.8 L268.5,414.9 L268.6,413.4 L268.7,393.7 L268.8,409.7 L268.9,418.8 L268.9,397.2 L269.0,387.3 L269.1,410.0 L269.2,395.7 L269.3,411.2 L269.4,396.4 L269.4,411.8 L269.5,396.9 L269.6,404.4 L269.7,411.2 L269.8,407.3 L269.9,414.3 L269.9,419.5 L270.0,418.7 L270.1,409.9 L270.2,418.5 L270.3,405.6 L270.4,404.9 L270.4,405.4 L270.5,413.4 L270.6,408.8 L270.7,409.5 L270.8,398.8 L270.8,415.6 L270.9,412.3 L271.0,411.1 L271.1,410.4 L271.2,414.9 L271.3,414.0 L271.3,401.8 L271.4,413.9 L271.5,402.7 L271.6,394.8 L271.7,400.3 L271.8,421.9 L271.8,404.0 L271.9,406.0 L272.0,405.6 L272.1,420.3 L272.2,404.3 L272.2,416.5 L272.3,400.9 L272.4,402.4 L272.5,395.7 L272.6,411.8 L272.7,419.0 L272.7,402.9 L272.8,404.0 L272.9,411.8 L273.0,401.1 L273.1,405.3 L273.2,417.1 L273.2,411.5 L273.3,412.1 L273.4,410.1 L273.5,408.3 L273.6,413.4 L273.7,410.6 L273.7,406.1 L273.8,409.9 L273.9,411.0 L274.0,411.1 L274.1,410.0 L274.1,419.9 L274.2,408.6 L274.3,415.0 L274.4,408.9 L274.5,417.2 L274.6,404.7 L274.6,408.3 L274.7,416.5 L274.8,408.3 L274.9,413.4 L275.0,400.4 L275.1,407.0 L275.1,413.5 L275.2,408.4 L275.3,409.7 L275.4,403.6 L275.5,407.8 L275.5,407.0 L275.6,414.9 L275.7,405.7 L275.8,399.5 L275.9,406.5 L276.0,409.7 L276.0,408.7 L276.1,413.9 L276.2,408.6 L276.3,414.5 L276.4,409.3 L276.5,411.3 L276.5,413.3 L276.6,406.9 L276.7,416.2 L276.8,409.7 L276.9,415.4 L276.9,401.4 L277.0,400.8 L277.1,405.8 L277.2,401.2 L277.3,406.9 L277.4,407.2 L277.4,411.3 L277.5,413.3 L277.6,409.0 L277.7,411.8 L277.8,411.4 L277.9,406.4 L277.9,410.1 L278.0,416.0 L278.1,410.4 L278.2,412.7 L278.3,410.7 L278.4,414.0 L278.4,404.6 L278.5,401.8 L278.6,414.1 L278.7,406.9 L278.8,407.1 L278.8,413.9 L278.9,409.1 L279.0,403.9 L279.1,406.2 L279.2,403.1 L279.3,414.2 L279.3,412.5 L279.4,408.4 L279.5,408.2 L279.6,409.5 L279.7,411.1 L279.8,411.2 L279.8,411.9 L279.9,407.8 L280.0,418.3 L280.1,403.4 L280.2,411.6 L280.2,415.1 L280.3,407.5 L280.4,415.0 L280.5,408.1 L280.6,411.1 L280.7,407.4 L280.7,406.6 L280.8,404.8 L280.9,411.5 L281.0,410.7 L281.1,409.7 L281.2,414.9 L281.2,407.4 L281.3,409.2 L281.4,414.6 L281.5,405.2 L281.6,404.6 L281.7,414.5 L281.7,407.6 L281.8,405.1 L281.9,406.6 L282.0,413.3 L282.1,414.8 L282.1,410.1 L282.2,411.5 L282.3,409.7 L282.4,410.1 L282.5,407.8 L282.6,411.7 L282.6,410.3 L282.7,401.9 L282.8,410.2 L282.9,407.0 L283.0,408.7 L283.1,408.9 L283.1,413.0 L283.2,407.8 L283.3,409.9 L283.4,406.8 L283.5,402.4 L283.5,409.1 L283.6,407.0 L283.7,413.3 L283.8,409.3 L283.9,404.2 L284.0,409.9 L284.0,412.0 L284.1,409.0 L284.2,410.4 L284.3,410.6 L284.4,411.0 L284.5,402.7 L284.5,412.8 L284.6,411.2 L284.7,411.7 L284.8,405.4 L284.9,410.7 L285.0,405.2 L285.0,409.1 L285.1,409.8 L285.2,414.8 L285.3,405.5 L285.4,407.8 L285.4,408.3 L285.5,410.1 L285.6,411.2 L285.7,414.1 L285.8,406.5 L285.9,408.8 L285.9,411.0 L286.0,411.9 L286.1,409.3 L286.2,410.0 L286.3,404.1 L286.4,407.1 L286.4,411.8 L286.5,413.5 L286.6,410.5 L286.7,412.9 L286.8,409.5 L286.8,408.3 L286.9,407.5 L287.0,408.3 L287.1,410.4 L287.2,407.7 L287.3,412.8 L287.3,410.0 L287.4,406.9 L287.5,408.7 L287.6,414.0 L287.7,413.6 L287.8,415.2 L287.8,403.6 L287.9,415.0 L288.0,410.2 L288.1,403.4 L288.2,406.0 L288.2,405.2 L288.3,411.4 L288.4,407.2 L288.5,402.3 L288.6,409.8 L288.7,408.3 L288.7,410.8 L288.8,409.7 L288.9,408.4 L289.0,405.0 L289.1,412.7 L289.2,414.5 L289.2,409.6 L289.3,409.0 L289.4,404.9 L289.5,407.3 L289.6,411.8 L289.7,407.8 L289.7,405.9 L289.8,408.7 L289.9,410.8 L290.0,407.4 L290.1,410.9 L290.1,416.0 L290.2,405.2 L290.3,414.0 L290.4,410.8 L290.5,410.7 L290.6,410.8 L290.6,410.6 L290.7,414.5 L290.8,407.9 L290.9,409.6 L291.0,409.6 L291.1,406.1 L291.1,406.0 L291.2,405.2 L291.3,403.5 L291.4,408.2 L291.5,414.9 L291.5,409.0 L291.6,409.7 L291.7,409.5 L291.8,411.7 L291.9,412.7 L292.0,407.0 L292.0,406.5 L292.1,413.5 L292.2,407.9 L292.3,410.3 L292.4,411.0 L292.5,407.4 L292.5,409.9 L292.6,411.6 L292.7,409.5 L292.8,416.4 L292.9,411.7 L293.0,411.2 L293.0,414.4 L293.1,409.1 L293.2,408.8 L293.3,411.7 L293.4,410.3 L293.4,407.5 L293.5,406.2 L293.6,412.3 L293.7,408.6 L293.8,406.3 L293.9,409.9 L293.9,412.3 L294.0,412.3 L294.1,410.8 L294.2,413.2 L294.3,403.0 L294.4,411.7 L294.4,408.5 L294.5,409.2 L294.6,407.7 L294.7,411.1 L294.8,414.1 L294.8,404.3 L294.9,410.1 L295.0,409.4 L295.1,409.1 L295.2,405.6 L295.3,407.2 L295.3,405.9 L295.4,407.1 L295.5,409.3 L295.6,408.9 L295.7,412.3 L295.8,416.3 L295.8,410.6 L295.9,413.4 L296.0,402.5 L296.1,404.6 L296.2,405.9 L296.2,411.6 L296.3,402.9 L296.4,415.5 L296.5,413.8 L296.6,412.4 L296.7,413.0 L296.7,409.4 L296.8,409.1 L296.9,403.4 L297.0,406.5 L297.1,405.7 L297.2,408.4 L297.2,410.3 L297.3,412.1 L297.4,414.8 L297.5,412.7 L297.6,411.1 L297.7,407.3 L297.7,415.4 L297.8,414.3 L297.9,409.1 L298.0,413.3 L298.1,408.7 L298.1,411.2 L298.2,412.3 L298.3,414.2 L298.4,410.1 L298.5,412.2 L298.6,411.8 L298.6,411.9 L298.7,409.2 L298.8,409.3 L298.9,415.5 L299.0,410.3 L299.1,408.5 L299.1,406.3 L299.2,407.2 L299.3,409.1 L299.4,413.6 L299.5,412.4 L299.5,406.8 L299.6,412.1 L299.7,406.4 L299.8,405.6 L299.9,413.3 L300.0,408.3 L300.0,410.2 L300.1,403.1 L300.2,407.0 L300.3,411.5 L300.4,408.4 L300.5,412.9 L300.5,410.3 L300.6,409.1 L300.7,409.3 L300.8,408.8 L300.9,412.8 L301.0,416.0 L301.0,411.0 L301.1,412.8 L301.2,412.1 L301.3,402.7 L301.4,405.9 L301.4,410.4 L301.5,414.6 L301.6,414.1 L301.7,408.6 L301.8,406.2 L301.9,410.8 L301.9,409.4 L302.0,409.0 L302.1,406.3 L302.2,416.1 L302.3,409.3 L302.4,408.5 L302.4,406.6 L302.5,408.5 L302.6,413.5 L302.7,411.7 L302.8,414.9 L302.8,409.2 L302.9,409.2 L303.0,408.1 L303.1,413.0 L303.2,413.6 L303.3,404.7 L303.3,409.2 L303.4,404.0 L303.5,408.3 L303.6,414.7 L303.7,407.1 L303.8,405.7 L303.8,411.3 L303.9,416.2 L304.0,407.6 L304.1,410.3 L304.2,408.9 L304.2,417.1 L304.3,408.3 L304.4,417.1 L304.5,412.7 L304.6,406.9 L304.7,415.9 L304.7,416.0 L304.8,411.3 L304.9,404.3 L305.0,404.4 L305.1,411.8 L305.2,406.5 L305.2,407.9 L305.3,408.9 L305.4,408.6 L305.5,412.2 L305.6,407.1 L305.7,406.3 L305.7,402.5 L305.8,406.8 L305.9,417.1 L306.0,413.8 L306.1,408.7 L306.1,409.6 L306.2,416.0 L306.3,410.3 L306.4,411.0 L306.5,410.0 L306.6,410.2 L306.6,406.8 L306.7,404.9 L306.8,407.5 L306.9,413.5 L307.0,412.7 L307.1,412.0 L307.1,410.0 L307.2,411.2 L307.3,411.0 L307.4,412.9 L307.5,406.7 L307.5,407.0 L307.6,406.6 L307.7,410.1 L307.8,408.3 L307.9,412.8 L308.0,413.2 L308.0,411.6 L308.1,407.9 L308.2,410.3 L308.3,413.6 L308.4,409.5 L308.5,408.4 L308.5,409.3 L308.6,412.0 L308.7,409.6 L308.8,411.2 L308.9,410.9 L309.0,410.1 L309.0,407.3 L309.1,403.7 L309.2,404.6 L309.3,407.7 L309.4,411.1 L309.4,410.8 L309.5,410.7 L309.6,406.0 L309.7,417.1 L309.8,408.9 L309.9,416.4 L309.9,409.8 L310.0,405.4 L310.1,412.8 L310.2,417.1 L310.3,405.5 L310.4,404.8 L310.4,408.1 L310.5,405.6 L310.6,412.5 L310.7,405.9 L310.8,404.1 L310.8,407.7 L310.9,408.9 L311.0,405.5 L311.1,406.0 L311.2,412.3 L311.3,405.3 L311.3,407.3 L311.4,409.3 L311.5,405.5 L311.6,406.7 L311.7,407.3 L311.8,411.5 L311.8,407.0 L311.9,413.5 L312.0,410.2 L312.1,415.4 L312.2,415.5 L312.2,408.3 L312.3,410.1 L312.4,409.5 L312.5,407.8 L312.6,408.6 L312.7,412.7 L312.7,409.6 L312.8,410.0 L312.9,411.5 L313.0,410.2 L313.1,411.0 L313.2,412.0 L313.2,410.9 L313.3,409.0 L313.4,402.9 L313.5,412.5 L313.6,408.1 L313.7,414.7 L313.7,404.5 L313.8,410.9 L313.9,409.3 L314.0,405.6 L314.1,406.5 L314.1,414.8 L314.2,408.0 L314.3,410.6 L314.4,407.7 L314.5,409.3 L314.6,407.4 L314.6,408.8 L314.7,410.3 L314.8,405.9 L314.9,414.9 L315.0,411.2 L315.1,413.0 L315.1,410.3 L315.2,411.2 L315.3,410.3 L315.4,411.4 L315.5,411.4 L315.5,415.3 L315.6,409.9 L315.7,408.8 L315.8,411.8 L315.9,412.0 L316.0,411.9 L316.0,404.2 L316.1,409.2 L316.2,408.5 L316.3,410.8 L316.4,411.5 L316.5,412.7 L316.5,404.7 L316.6,415.4 L316.7,408.8 L316.8,409.9 L316.9,410.6 L317.0,415.0 L317.0,413.9 L317.1,406.5 L317.2,412.1 L317.3,406.9 L317.4,407.6 L317.4,407.9 L317.5,407.3 L317.6,413.8 L317.7,411.4 L317.8,407.5 L317.9,414.0 L317.9,404.3 L318.0,411.7 L318.1,410.0 L318.2,413.2 L318.3,408.6 L318.4,412.2 L318.4,410.6 L318.5,413.6 L318.6,405.8 L318.7,415.2 L318.8,408.3 L318.8,409.0 L318.9,408.3 L319.0,413.2 L319.1,406.4 L319.2,406.6 L319.3,409.3 L319.3,408.8 L319.4,410.3 L319.5,407.7 L319.6,412.5 L319.7,408.0 L319.8,408.4 L319.8,414.5 L319.9,417.1 L320.0,410.2 L320.1,410.3 L320.2,405.8 L320.3,409.6 L320.3,411.5 L320.4,414.3 L320.5,410.1 L320.6,411.7 L320.7,413.5 L320.7,410.2 L320.8,406.3 L320.9,409.5 L321.0,413.3 L321.1,408.7 L321.2,413.4 L321.2,415.0 L321.3,408.2 L321.4,411.6 L321.5,406.1 L321.6,408.8 L321.7,412.5 L321.7,409.1 L321.8,405.5 L321.9,410.4 L322.0,413.3 L322.1,412.0 L322.1,412.5 L322.2,413.7 L322.3,414.1 L322.4,408.4 L322.5,406.1 L322.6,411.0 L322.6,407.2 L322.7,406.8 L322.8,404.2 L322.9,410.4 L323.0,411.0 L323.1,408.4 L323.1,409.5 L323.2,408.8 L323.3,405.5 L323.4,411.2 L323.5,409.1 L323.5,413.1 L323.6,410.3 L323.7,412.0 L323.8,412.3 L323.9,410.5 L324.0,411.3 L324.0,408.6 L324.1,407.1 L324.2,414.8 L324.3,406.5 L324.4,417.1 L324.5,409.0 L324.5,407.4 L324.6,412.0 L324.7,410.6 L324.8,412.4 L324.9,406.8 L325.0,417.1 L325.0,413.0 L325.1,416.2 L325.2,409.2 L325.3,405.5 L325.4,405.8 L325.4,407.6 L325.5,409.0 L325.6,412.3 L325.7,405.8 L325.8,407.7 L325.9,412.6 L325.9,414.1 L326.0,411.9 L326.1,406.2 L326.2,405.6 L326.3,404.4 L326.4,412.4 L326.4,411.0 L326.5,405.2 L326.6,409.1 L326.7,407.3 L326.8,414.2 L326.8,411.0 L326.9,409.9 L327.0,411.0 L327.1,411.2 L327.2,415.2 L327.3,404.4 L327.3,409.3 L327.4,414.6 L327.5,406.2 L327.6,409.6 L327.7,407.4 L327.8,410.4 L327.8,412.4 L327.9,412.3 L328.0,408.6 L328.1,407.2 L328.2,408.1 L328.3,407.6 L328.3,405.7 L328.4,408.8 L328.5,406.4 L328.6,406.0 L328.7,408.7 L328.7,410.0 L328.8,411.2 L328.9,413.7 L329.0,414.9 L329.1,405.3 L329.2,409.7 L329.2,411.5 L329.3,404.4 L329.4,406.4 L329.5,409.5 L329.6,406.3 L329.7,410.3 L329.7,408.5 L329.8,403.6 L329.9,406.1 L330.0,410.5 L330.1,407.3 L330.1,405.7 L330.2,410.0 L330.3,411.0 L330.4,403.4 L330.5,410.6 L330.6,414.0 L330.6,409.1 L330.7,402.5 L330.8,407.4 L330.9,406.3 L331.0,416.7 L331.1,411.3 L331.1,405.4 L331.2,410.8 L331.3,405.0 L331.4,407.8 L331.5,408.1 L331.5,403.8 L331.6,411.1 L331.7,410.9 L331.8,409.0 L331.9,408.6 L332.0,415.0 L332.0,405.3 L332.1,408.6 L332.2,409.9 L332.3,407.3 L332.4,410.7 L332.5,405.3 L332.5,409.1 L332.6,406.9 L332.7,412.3 L332.8,410.3 L332.9,408.1 L333.0,412.5 L333.0,411.5 L333.1,409.5 L333.2,405.7 L333.3,406.8 L333.4,406.4 L333.4,408.4 L333.5,406.4 L333.6,404.3 L333.7,408.8 L333.8,407.9 L333.9,407.4 L333.9,416.0 L334.0,409.7 L334.1,408.0 L334.2,406.9 L334.3,410.5 L334.4,406.2 L334.4,411.5 L334.5,410.0 L334.6,403.8 L334.7,413.9 L334.8,409.7 L334.8,409.9 L334.9,409.7 L335.0,411.2 L335.1,407.3 L335.2,413.0 L335.3,413.8 L335.3,407.9 L335.4,413.4 L335.5,408.2 L335.6,409.4 L335.7,411.8 L335.8,410.6 L335.8,409.8 L335.9,408.0 L336.0,411.6 L336.1,410.2 L336.2,414.3 L336.3,410.5 L336.3,415.9 L336.4,409.7 L336.5,411.1 L336.6,402.6 L336.7,405.3 L336.7,410.1 L336.8,406.5 L336.9,408.7 L337.0,413.4 L337.1,417.1 L337.2,406.0 L337.2,408.3 L337.3,416.1 L337.4,407.5 L337.5,406.6 L337.6,411.9 L337.7,407.0 L337.7,415.4 L337.8,410.4 L337.9,409.6 L338.0,407.1 L338.1,408.4 L338.1,409.0 L338.2,407.8 L338.3,411.9 L338.4,404.8 L338.5,410.8 L338.6,407.1 L338.6,409.7 L338.7,410.5 L338.8,407.8 L338.9,408.2 L339.0,405.2 L339.1,406.1 L339.1,411.6 L339.2,408.0 L339.3,409.4 L339.4,412.4 L339.5,413.4 L339.5,408.9 L339.6,411.5 L339.7,414.3 L339.8,410.0 L339.9,409.0 L340.0,409.4 L340.0,413.7 L340.1,411.6 L340.2,405.2 L340.3,412.3 L340.4,410.8 L340.5,402.5 L340.5,408.6 L340.6,411.4 L340.7,416.2 L340.8,408.7 L340.9,414.4 L341.0,409.8 L341.0,412.6 L341.1,415.3 L341.2,404.3 L341.3,410.1 L341.4,406.7 L341.4,407.3 L341.5,412.2 L341.6,409.5 L341.7,411.0 L341.8,406.6 L341.9,408.3 L341.9,411.0 L342.0,404.3 L342.1,408.1 L342.2,408.2 L342.3,412.4 L342.4,408.4 L342.4,414.7 L342.5,408.3 L342.6,412.9 L342.7,409.2 L342.8,410.7 L342.8,409.0 L342.9,408.6 L343.0,410.0 L343.1,410.0 L343.2,414.7 L343.3,416.1 L343.3,405.6 L343.4,407.9 L343.5,414.7 L343.6,403.5 L343.7,412.2 L343.8,408.1 L343.8,408.4 L343.9,409.4 L344.0,407.8 L344.1,414.4 L344.2,409.9 L344.3,410.6 L344.3,409.5 L344.4,410.7 L344.5,411.9 L344.6,412.2 L344.7,406.9 L344.7,412.6 L344.8,408.6 L344.9,408.6 L345.0,410.1 L345.1,408.4 L345.2,408.0 L345.2,411.6 L345.3,408.7 L345.4,403.5 L345.5,413.4 L345.6,410.8 L345.7,412.3 L345.7,403.2 L345.8,414.5 L345.9,409.8 L346.0,406.7 L346.1,412.7 L346.1,410.3 L346.2,412.2 L346.3,414.3 L346.4,410.0 L346.5,408.2 L346.6,411.1 L346.6,409.3 L346.7,407.5 L346.8,405.8 L346.9,413.9 L347.0,407.8 L347.1,411.9 L347.1,416.1 L347.2,412.4 L347.3,407.7 L347.4,408.8 L347.5,413.4 L347.5,404.5 L347.6,408.5 L347.7,410.0 L347.8,411.6 L347.9,408.4 L348.0,411.1 L348.0,406.0 L348.1,408.8 L348.2,407.8 L348.3,410.8 L348.4,414.7 L348.5,408.1 L348.5,413.1 L348.6,410.2 L348.7,409.8 L348.8,412.4 L348.9,406.9 L349.0,414.5 L349.0,404.9 L349.1,411.8 L349.2,406.6 L349.3,405.5 L349.4,412.7 L349.4,412.2 L349.5,406.7 L349.6,409.2 L349.7,409.5 L349.8,415.9 L349.9,415.2 L349.9,408.0 L350.0,405.1 L350.1,412.1 L350.2,412.7 L350.3,409.1 L350.4,408.3 L350.4,407.9 L350.5,411.3 L350.6,416.2 L350.7,405.0 L350.8,411.4 L350.8,405.6 L350.9,416.4 L351.0,408.6 L351.1,411.5 L351.2,413.4 L351.3,406.6 L351.3,405.5 L351.4,411.7 L351.5,407.7 L351.6,413.3 L351.7,411.8 L351.8,410.6 L351.8,410.9 L351.9,407.7 L352.0,413.8 L352.1,406.6 L352.2,406.6 L352.3,410.5 L352.3,413.7 L352.4,417.1 L352.5,410.0 L352.6,412.2 L352.7,409.5 L352.7,413.3 L352.8,409.8 L352.9,410.0 L353.0,409.8 L353.1,408.9 L353.2,408.8 L353.2,406.6 L353.3,412.4 L353.4,407.4 L353.5,409.3 L353.6,411.2 L353.7,413.1 L353.7,405.0 L353.8,409.0 L353.9,411.5 L354.0,409.6 L354.1,409.8 L354.1,411.5 L354.2,414.3 L354.3,409.3 L354.4,410.3 L354.5,410.7 L354.6,406.6 L354.6,414.1 L354.7,412.9 L354.8,409.3 L354.9,407.1 L355.0,407.8 L355.1,407.4 L355.1,417.0 L355.2,408.2 L355.3,408.4 L355.4,407.5 L355.5,412.0 L355.6,408.1 L355.6,406.5 L355.7,404.5 L355.8,408.9 L355.9,414.1 L356.0,409.6 L356.0,407.7 L356.1,408.1 L356.2,403.5 L356.3,410.4 L356.4,413.1 L356.5,411.9 L356.5,407.6 L356.6,412.4 L356.7,413.2 L356.8,412.5 L356.9,405.8 L357.0,409.0 L357.0,410.9 L357.1,407.0 L357.2,407.5 L357.3,413.0 L357.4,407.0 L357.4,409.0 L357.5,416.5 L357.6,413.7 L357.7,408.9 L357.8,408.2 L357.9,410.7 L357.9,413.0 L358.0,408.9 L358.1,415.8 L358.2,407.9 L358.3,410.2 L358.4,409.8 L358.4,411.9 L358.5,407.0 L358.6,417.1 L358.7,412.6 L358.8,407.8 L358.8,412.1 L358.9,404.9 L359.0,408.3 L359.1,412.2 L359.2,406.1 L359.3,410.0 L359.3,407.8 L359.4,411.7 L359.5,411.7 L359.6,407.4 L359.7,409.4 L359.8,412.2 L359.8,412.6 L359.9,407.5 L360.0,403.9 L360.1,412.4 L360.2,407.4 L360.3,417.1 L360.3,414.2 L360.4,407.4 L360.5,404.4 L360.6,409.4 L360.7,407.9 L360.7,408.8 L360.8,406.3 L360.9,413.2 L361.0,407.6 L361.1,411.1 L361.2,410.8 L361.2,409.7 L361.3,410.3 L361.4,412.2 L361.5,410.5 L361.6,412.7 L361.7,404.8 L361.7,407.3 L361.8,411.0 L361.9,404.4 L362.0,405.4 L362.1,408.0 L362.1,411.4 L362.2,408.8 L362.3,407.8 L362.4,405.1 L362.5,410.2 L362.6,411.5 L362.6,402.5 L362.7,405.1 L362.8,408.6 L362.9,412.6 L363.0,408.0 L363.1,406.0 L363.1,407.1 L363.2,406.9 L363.3,409.5 L363.4,405.9 L363.5,411.6 L363.6,411.1 L363.6,411.3 L363.7,411.7 L363.8,403.2 L363.9,415.2 L364.0,408.9 L364.0,412.9 L364.1,413.7 L364.2,409.3 L364.3,414.8 L364.4,409.9 L364.5,402.5 L364.5,410.0 L364.6,408.1 L364.7,412.5 L364.8,408.1 L364.9,414.6 L365.0,409.0 L365.0,410.1 L365.1,402.5 L365.2,410.0 L365.3,410.9 L365.4,411.6 L365.4,413.7 L365.5,407.2 L365.6,404.9 L365.7,411.0 L365.8,407.4 L365.9,410.9 L365.9,408.4 L366.0,408.2 L366.1,414.5 L366.2,412.3 L366.3,406.7 L366.4,416.0 L366.4,409.7 L366.5,410.9 L366.6,412.8 L366.7,409.6 L366.8,408.7 L366.8,408.0 L366.9,417.1 L367.0,404.2 L367.1,411.3 L367.2,406.3 L367.3,410.2 L367.3,411.7 L367.4,410.0 L367.5,402.5 L367.6,404.6 L367.7,410.9 L367.8,409.0 L367.8,406.1 L367.9,407.8 L368.0,409.5 L368.1,410.4 L368.2,413.3 L368.3,407.3 L368.3,406.1 L368.4,402.5 L368.5,411.6 L368.6,407.6 L368.7,409.9 L368.7,405.6 L368.8,410.1 L368.9,411.9 L369.0,415.4 L369.1,407.4 L369.2,409.3 L369.2,406.1 L369.3,411.6 L369.4,402.5 L369.5,412.1 L369.6,408.1 L369.7,408.4 L369.7,406.1 L369.8,410.3 L369.9,412.8 L370.0,413.1 L370.1,407.1 L370.1,409.4 L370.2,408.6 L370.3,412.5 L370.4,409.3 L370.5,409.1 L370.6,407.8 L370.6,414.7 L370.7,412.3 L370.8,404.1 L370.9,411.1 L371.0,410.1 L371.1,411.1 L371.1,414.8 L371.2,413.4 L371.3,408.6 L371.4,412.0 L371.5,403.1 L371.6,414.8 L371.6,416.3 L371.7,411.1 L371.8,413.8 L371.9,405.2 L372.0,411.2 L372.0,408.1 L372.1,414.5 L372.2,407.6 L372.3,407.7 L372.4,405.7 L372.5,409.1 L372.5,408.1 L372.6,409.3 L372.7,406.8 L372.8,411.2 L372.9,408.0 L373.0,411.7 L373.0,407.5 L373.1,410.8 L373.2,412.0 L373.3,412.1 L373.4,404.9 L373.4,415.0 L373.5,414.8 L373.6,407.7 L373.7,413.1 L373.8,411.4 L373.9,411.5 L373.9,402.5 L374.0,412.1 L374.1,412.2 L374.2,411.1 L374.3,409.1 L374.4,408.2 L374.4,414.7 L374.5,408.3 L374.6,403.3 L374.7,415.8 L374.8,407.9 L374.8,407.3 L374.9,409.3 L375.0,410.5 L375.1,417.1 L375.2,405.8 L375.3,410.9 L375.3,410.5 L375.4,405.7 L375.5,417.1 L375.6,410.0 L375.7,407.8 L375.8,407.4 L375.8,407.8 L375.9,403.0 L376.0,408.9 L376.1,406.4 L376.2,407.2 L376.3,414.7 L376.3,412.4 L376.4,402.9 L376.5,410.7 L376.6,410.0 L376.7,414.2 L376.7,410.9 L376.8,414.2 L376.9,411.8 L377.0,408.0 L377.1,412.6 L377.2,411.8 L377.2,405.4 L377.3,408.2 L377.4,408.1 L377.5,406.5 L377.6,411.6 L377.7,411.1 L377.7,416.6 L377.8,407.4 L377.9,410.5 L378.0,409.8 L378.1,413.4 L378.1,407.7 L378.2,407.7 L378.3,409.2 L378.4,415.1 L378.5,412.6 L378.6,409.9 L378.6,412.6 L378.7,408.5 L378.8,406.5 L378.9,412.3 L379.0,410.4 L379.1,412.1 L379.1,406.4 L379.2,406.8 L379.3,402.5 L379.4,409.8 L379.5,412.9 L379.6,408.4 L379.6,410.6 L379.7,409.2 L379.8,405.7 L379.9,410.7 L380.0,407.4 L380.0,416.8 L380.1,406.3 L380.2,409.3 L380.3,410.6 L380.4,411.5 L380.5,405.1 L380.5,411.5 L380.6,405.6 L380.7,411.5 L380.8,409.6 L380.9,408.6 L381.0,403.1 L381.0,408.9 L381.1,409.0 L381.2,410.0 L381.3,410.8 L381.4,411.8 L381.4,403.8 L381.5,404.9 L381.6,412.0 L381.7,409.2 L381.8,413.7 L381.9,406.6 L381.9,407.5 L382.0,409.4 L382.1,412.4 L382.2,407.2 L382.3,407.7 L382.4,410.3 L382.4,407.3 L382.5,414.2 L382.6,411.7 L382.7,412.9" fill="none" stroke="#3a70f0" stroke-width="0.8" stroke-linejoin="round" stroke-linecap="round" />
<line x1="267.30" y1="409.80" x2="383.91" y2="409.80" stroke="#000" stroke-width="1.1" stroke-dasharray="3,2.2"/>
<rect x="261.8" y="355.8" width="127.59999999999997" height="112.5" fill="none" stroke="#1e1e1e" stroke-width="1.3"/>
<line x1="256.00" y1="365.50" x2="261.80" y2="365.50" stroke="#1e1e1e" stroke-width="1.3" />
<text x="255.20" y="370.00" font-size="13" fill="#000" stroke="#000" stroke-width="0.3" text-anchor="end" textLength="28.6" lengthAdjust="spacingAndGlyphs" >0.06</text>
<line x1="256.00" y1="409.80" x2="261.80" y2="409.80" stroke="#1e1e1e" stroke-width="1.3" />
<text x="255.20" y="414.30" font-size="13" fill="#000" stroke="#000" stroke-width="0.3" text-anchor="end" textLength="28.6" lengthAdjust="spacingAndGlyphs" >0.00</text>
<line x1="256.00" y1="454.10" x2="261.80" y2="454.10" stroke="#1e1e1e" stroke-width="1.3" />
<text x="255.20" y="458.60" font-size="13" fill="#000" stroke="#000" stroke-width="0.3" text-anchor="end" textLength="32.6" lengthAdjust="spacingAndGlyphs" >-0.06</text>
<line x1="267.30" y1="468.30" x2="267.30" y2="473.30" stroke="#1e1e1e" stroke-width="1.3" />
<text x="267.30" y="485.70" font-size="13" fill="#000" stroke="#000" stroke-width="0.3" text-anchor="middle" >0</text>
<line x1="316.40" y1="468.30" x2="316.40" y2="473.30" stroke="#1e1e1e" stroke-width="1.3" />
<text x="316.40" y="485.70" font-size="13" fill="#000" stroke="#000" stroke-width="0.3" text-anchor="middle" >40</text>
<line x1="365.50" y1="468.30" x2="365.50" y2="473.30" stroke="#1e1e1e" stroke-width="1.3" />
<text x="365.50" y="485.70" font-size="13" fill="#000" stroke="#000" stroke-width="0.3" text-anchor="middle" >80</text>
<text transform="translate(224.3,407.4) rotate(-90)" font-size="13" text-anchor="middle" fill="#000" textLength="60.6" lengthAdjust="spacingAndGlyphs" stroke="#000" stroke-width="0.3">Residuals</text>
<text x="2.00" y="20.90" font-size="16.5" fill="#000" stroke="#000" stroke-width="0.3" text-anchor="start" font-weight="bold">A</text>
<path d="M58.5,64.0 L57.8,64.9 L57.1,65.9 L56.4,66.8 L55.7,67.8 L55.1,68.7 L54.4,69.7 L53.8,70.7 L53.1,71.6 L52.5,72.6 L51.9,73.6 L51.4,74.7 L50.9,75.7 L50.4,76.7 L49.9,77.8 L49.5,78.9 L49.1,80.0 L48.7,81.1 L48.3,82.2 L48.0,83.3 L47.7,84.4 L47.4,85.5 L47.1,86.7 L46.8,87.8 L46.6,89.0 L46.3,90.1 L46.1,91.3 L45.9,92.4 L45.7,93.5 L45.5,94.7 L45.3,95.8 L45.2,97.0 L45.0,98.1 L44.9,99.3 L44.8,100.5 L44.7,101.6 L44.6,102.8 L44.5,104.0 L44.5,105.1 L44.5,106.3 L44.4,107.5 L44.4,108.6 L44.5,109.8 L44.5,111.0 L44.6,112.1 L44.7,113.3 L44.9,114.4 L45.0,115.6 L45.2,116.7 L45.5,117.9 L45.7,119.0 L46.0,120.1 L46.3,121.2 L46.6,122.4 L47.0,123.5 L47.3,124.6 L47.7,125.7 L48.0,126.8 L48.4,127.9 L48.8,129.0 L49.2,130.1 L49.6,131.2 L50.0,132.3 L50.5,133.4 L51.0,134.4 L51.5,135.5 L52.0,136.5 L52.5,137.6 L53.1,138.6 L53.7,139.6 L54.3,140.6 L54.9,141.5 L55.6,142.5 L56.2,143.4 L56.9,144.4 L57.6,145.3 L58.3,146.2 L59.1,147.2 L59.8,148.1 L60.5,149.0" fill="none" stroke="#000" stroke-width="1.45" stroke-linejoin="round" stroke-linecap="round" />
<path d="M65.50,54.30 L62.26,66.14 L61.33,60.08 L55.28,61.11 Z" fill="#000"/>
<path d="M69.90,156.80 L58.30,152.77 L64.41,152.25 L63.80,146.15 Z" fill="#000"/>
<path d="M148.5,51.5 L149.4,52.4 L150.4,53.3 L151.3,54.2 L152.2,55.2 L153.1,56.1 L154.0,57.0 L154.9,58.0 L155.7,59.0 L156.5,60.0 L157.3,61.0 L158.0,62.0 L158.7,63.1 L159.3,64.2 L160.0,65.3 L160.5,66.5 L161.1,67.7 L161.6,68.8 L162.0,70.0 L162.5,71.3 L162.9,72.5 L163.3,73.7 L163.7,75.0 L164.1,76.2 L164.5,77.5 L164.8,78.7 L165.2,80.0 L165.5,81.2 L165.9,82.5 L166.2,83.7 L166.4,85.0 L166.7,86.2 L167.0,87.5 L167.2,88.8 L167.4,90.0 L167.6,91.3 L167.7,92.6 L167.8,93.9 L167.9,95.1 L168.0,96.4 L168.0,97.7 L168.1,99.0 L168.0,100.3 L168.0,101.6 L168.0,102.9 L167.9,104.2 L167.8,105.5 L167.6,106.8 L167.5,108.0 L167.3,109.3 L167.1,110.6 L166.9,111.9 L166.7,113.1 L166.4,114.4 L166.1,115.7 L165.8,116.9 L165.5,118.2 L165.1,119.4 L164.7,120.6 L164.3,121.9 L163.9,123.1 L163.4,124.3 L162.9,125.5 L162.4,126.7 L161.9,127.9 L161.3,129.0 L160.7,130.2 L160.0,131.3 L159.3,132.4 L158.6,133.4 L157.9,134.5 L157.1,135.5 L156.3,136.5 L155.4,137.4 L154.5,138.4 L153.7,139.3 L152.8,140.3 L151.8,141.2 L150.9,142.1 L150.0,143.0" fill="none" stroke="#000" stroke-width="1.45" stroke-linejoin="round" stroke-linecap="round" />
<path d="M138.50,46.20 L150.67,47.79 L144.80,49.54 L146.65,55.38 Z" fill="#000"/>
<path d="M143.90,148.20 L149.86,137.47 L149.33,143.57 L155.44,144.01 Z" fill="#000"/>
<path d="M118.3,1.4 C118.5,3 118.3,5 117.8,5.5 C116.5,7 114.6,7.8 112,9.5 C109,11 106,13 105.2,15.5 C104.8,17.5 105,18.5 102.7,20.7 C100,22.5 97.5,23 96,25.5 C94.8,27.5 95,29.5 95.8,31.2" fill="none" stroke="#3a7ae8" stroke-width="1.3"/>
<circle cx="92.0" cy="30.0" r="4.9" fill="url(#gR)"/>
<circle cx="87.5" cy="30.5" r="4.9" fill="url(#gR)"/>
<circle cx="82.8" cy="33.0" r="4.9" fill="url(#gR)"/>
<circle cx="95.5" cy="33.0" r="4.9" fill="url(#gR)"/>
<circle cx="91.5" cy="35.0" r="4.9" fill="url(#gR)"/>
<circle cx="89.0" cy="36.0" r="4.9" fill="url(#gR)"/>
<circle cx="76.5" cy="36.5" r="4.9" fill="url(#gR)"/>
<circle cx="94.5" cy="38.0" r="4.9" fill="url(#gR)"/>
<circle cx="83.8" cy="39.0" r="4.9" fill="url(#gR)"/>
<circle cx="80.0" cy="40.0" r="4.9" fill="url(#gR)"/>
<circle cx="88.4" cy="41.4" r="4.9" fill="url(#gR)"/>
<circle cx="93.0" cy="43.0" r="4.9" fill="url(#gR)"/>
<circle cx="76.5" cy="43.0" r="4.9" fill="url(#gR)"/>
<circle cx="86.0" cy="46.0" r="4.9" fill="url(#gR)"/>
<circle cx="90.5" cy="48.0" r="4.9" fill="url(#gR)"/>
<circle cx="78.5" cy="48.6" r="4.9" fill="url(#gR)"/>
<circle cx="84.3" cy="50.6" r="4.9" fill="url(#gR)"/>
<circle cx="78.2" cy="54.0" r="4.9" fill="url(#gR)"/>
<circle cx="77.1" cy="68.6" r="5.0" fill="url(#gR)"/>
<path d="M95.6,27.1 C95,30 97.6,33 97.6,35.3 C97,38.9 91,40 89.4,40.9 C84,43 81,45 80.8,48.6 C80.5,51 82,54 87.4,57.8" fill="none" stroke="#3a7ae0" stroke-width="1.3"/>
<circle cx="115.7" cy="28.0" r="4.9" fill="url(#gR)"/>
<circle cx="112.7" cy="34.0" r="4.9" fill="url(#gR)"/>
<circle cx="119.3" cy="34.5" r="4.9" fill="url(#gR)"/>
<circle cx="123.9" cy="37.0" r="4.9" fill="url(#gR)"/>
<circle cx="125.4" cy="40.0" r="4.9" fill="url(#gR)"/>
<circle cx="119.0" cy="40.0" r="4.9" fill="url(#gR)"/>
<circle cx="128.0" cy="42.5" r="4.9" fill="url(#gR)"/>
<circle cx="123.0" cy="43.5" r="4.9" fill="url(#gR)"/>
<circle cx="121.9" cy="47.0" r="4.9" fill="url(#gR)"/>
<circle cx="127.0" cy="48.0" r="4.9" fill="url(#gR)"/>
<circle cx="128.0" cy="52.7" r="4.9" fill="url(#gR)"/>
<circle cx="117.8" cy="54.0" r="4.9" fill="url(#gR)"/>
<path d="M104,43 C108,44.5 112,46 116.2,47" fill="none" stroke="#2050d0" stroke-width="1.1"/>
<path d="M97,54 C97,48 100,45 106,45 C111,45 114,47 116,50" fill="none" stroke="#2a60e0" stroke-width="1.3"/>
<path d="M108.9,56.0 L108.6,56.5 L107.8,56.9 L106.7,57.3 L105.1,57.7 L103.2,58.0 L101.1,58.3 L98.9,58.6 L96.6,58.8 L94.4,59.1 L92.3,59.4 L90.5,59.8 L89.0,60.1 L87.9,60.5 L87.1,60.9 L86.9,61.4 L86.1,69.4 L86.4,68.9 L87.1,68.5 L88.2,68.1 L89.7,67.7 L91.6,67.4 L93.6,67.1 L95.8,66.8 L98.1,66.5 L100.4,66.2 L102.5,65.9 L104.3,65.6 L105.9,65.3 L107.1,64.9 L107.8,64.5 L108.2,64.0Z" fill="#2a58c8" stroke="#1a3ea8" stroke-width="0.5"/>
<path d="M106.9,70.8 L106.6,71.2 L105.8,71.7 L104.7,72.1 L103.2,72.4 L101.5,72.7 L99.5,73.0 L97.4,73.3 L95.3,73.6 L93.2,73.9 L91.2,74.2 L89.5,74.6 L88.1,74.9 L87.0,75.3 L86.4,75.8 L86.1,76.2 L85.4,84.2 L85.6,83.7 L86.3,83.3 L87.3,82.9 L88.8,82.5 L90.5,82.2 L92.4,81.9 L94.5,81.6 L96.6,81.3 L98.7,81.0 L100.7,80.7 L102.5,80.4 L104.0,80.0 L105.1,79.6 L105.8,79.2 L106.1,78.7Z" fill="#2a58c8" stroke="#1a3ea8" stroke-width="0.5"/>
<path d="M104.8,85.5 L104.5,86.0 L103.8,86.4 L102.8,86.8 L101.4,87.1 L99.7,87.5 L97.9,87.8 L95.9,88.1 L93.9,88.4 L92.0,88.7 L90.1,89.1 L88.5,89.4 L87.2,89.8 L86.2,90.2 L85.6,90.6 L85.4,91.1 L84.6,99.0 L84.8,98.6 L85.5,98.1 L86.5,97.7 L87.8,97.4 L89.4,97.0 L91.2,96.7 L93.2,96.4 L95.2,96.1 L97.1,95.8 L99.0,95.5 L100.6,95.1 L102.0,94.7 L103.1,94.3 L103.8,93.9 L104.0,93.4Z" fill="#2a58c8" stroke="#1a3ea8" stroke-width="0.5"/>
<path d="M102.7,100.2 L102.5,100.7 L101.8,101.1 L100.8,101.5 L99.5,101.9 L98.0,102.2 L96.3,102.6 L94.4,102.9 L92.6,103.2 L90.8,103.5 L89.1,103.9 L87.6,104.2 L86.3,104.6 L85.4,105.0 L84.8,105.5 L84.6,105.9 L83.8,113.9 L84.1,113.4 L84.6,113.0 L85.6,112.6 L86.8,112.2 L88.3,111.8 L90.0,111.5 L91.8,111.2 L93.7,110.9 L95.5,110.5 L97.2,110.2 L98.8,109.9 L100.1,109.5 L101.1,109.1 L101.7,108.6 L102.0,108.2Z" fill="#2a58c8" stroke="#1a3ea8" stroke-width="0.5"/>
<path d="M100.7,114.9 L100.5,115.3 L100.1,115.7 L99.5,116.0 L98.7,116.3 L97.7,116.6 L96.6,116.9 L95.4,117.2 L94.0,117.5 L92.7,117.7 L91.3,118.0 L90.0,118.3 L88.7,118.5 L87.5,118.8 L86.4,119.1 L85.5,119.4 L84.7,127.4 L85.6,127.1 L86.7,126.8 L87.9,126.5 L89.2,126.2 L90.5,125.9 L91.9,125.7 L93.3,125.4 L94.6,125.2 L95.8,124.9 L97.0,124.6 L97.9,124.3 L98.7,124.0 L99.3,123.6 L99.7,123.3 L99.9,122.9Z" fill="#2a58c8" stroke="#1a3ea8" stroke-width="0.5"/>
<path d="M123.5,55.3 L123.4,55.8 L123.0,56.4 L122.2,57.1 L121.0,57.9 L119.6,58.8 L118.0,59.8 L116.3,60.8 L114.5,61.8 L112.8,62.8 L111.2,63.8 L109.8,64.7 L108.6,65.5 L107.8,66.3 L107.3,66.9 L107.3,67.4 L109.7,75.0 L109.7,74.5 L110.2,73.9 L111.0,73.2 L112.2,72.3 L113.6,71.4 L115.2,70.5 L116.9,69.5 L118.7,68.4 L120.4,67.4 L122.0,66.4 L123.4,65.5 L124.6,64.7 L125.4,64.0 L125.8,63.4 L125.9,62.9Z" fill="#2a58c8" stroke="#1a3ea8" stroke-width="0.5"/>
<path d="M127.7,67.9 L127.6,68.4 L127.1,69.0 L126.3,69.7 L125.1,70.5 L123.7,71.5 L122.1,72.4 L120.3,73.5 L118.5,74.5 L116.7,75.5 L115.1,76.5 L113.7,77.4 L112.5,78.3 L111.6,79.0 L111.2,79.6 L111.1,80.1 L113.5,87.7 L113.6,87.2 L114.0,86.6 L114.9,85.9 L116.1,85.0 L117.5,84.1 L119.2,83.1 L120.9,82.1 L122.7,81.1 L124.5,80.1 L126.1,79.1 L127.6,78.2 L128.7,77.3 L129.5,76.6 L130.0,76.0 L130.1,75.5Z" fill="#2a58c8" stroke="#1a3ea8" stroke-width="0.5"/>
<path d="M131.8,80.5 L131.7,81.0 L131.3,81.6 L130.4,82.3 L129.3,83.2 L127.8,84.1 L126.1,85.1 L124.3,86.1 L122.5,87.2 L120.7,88.2 L119.0,89.2 L117.6,90.1 L116.4,91.0 L115.5,91.7 L115.0,92.3 L114.9,92.8 L117.3,100.4 L117.4,99.9 L117.9,99.3 L118.8,98.6 L120.0,97.7 L121.4,96.8 L123.1,95.8 L124.9,94.8 L126.7,93.7 L128.5,92.7 L130.2,91.7 L131.7,90.8 L132.8,90.0 L133.7,89.2 L134.2,88.6 L134.2,88.1Z" fill="#2a58c8" stroke="#1a3ea8" stroke-width="0.5"/>
<circle cx="122.9" cy="77.9" r="4.5" fill="url(#gW)"/>
<circle cx="101.5" cy="99.5" r="5.0" fill="url(#gW)"/>
<path d="M101.6,52.3 L102.5,52.6 L103.3,52.9 L104.1,53.2 L104.8,53.4 L105.5,53.7 L106.1,54.0 L106.7,54.2 L107.3,54.5 L107.7,54.7 L108.1,55.0 L108.4,55.2 L108.6,55.4 L108.8,55.6 L108.9,55.8 L108.9,56.0 L108.2,64.0 L108.1,63.8 L108.1,63.6 L107.9,63.4 L107.6,63.2 L107.3,62.9 L106.9,62.7 L106.5,62.4 L106.0,62.2 L105.4,61.9 L104.7,61.7 L104.1,61.4 L103.3,61.1 L102.5,60.9 L101.7,60.6 L100.9,60.3Z" fill="#4a8af0" stroke="#1a3ea8" stroke-width="0.6"/>
<path d="M105.8,57.9 L107.3,58.7" stroke="#8fe6d6" stroke-width="1.6" stroke-linecap="round" opacity="0.8"/>
<path d="M86.9,61.4 L87.1,61.9 L87.7,62.5 L88.8,63.1 L90.2,63.7 L92.0,64.4 L93.9,65.0 L96.0,65.7 L98.1,66.4 L100.1,67.1 L102.1,67.8 L103.7,68.5 L105.1,69.1 L106.1,69.7 L106.7,70.3 L106.9,70.8 L106.1,78.7 L105.9,78.2 L105.3,77.7 L104.3,77.1 L103.0,76.4 L101.3,75.8 L99.4,75.1 L97.3,74.4 L95.2,73.7 L93.1,73.0 L91.2,72.3 L89.5,71.7 L88.0,71.0 L87.0,70.4 L86.3,69.9 L86.1,69.4Z" fill="#4a8af0" stroke="#1a3ea8" stroke-width="0.6"/>
<path d="M93.5,69.0 L99.8,71.1" stroke="#8fe6d6" stroke-width="1.6" stroke-linecap="round" opacity="0.8"/>
<path d="M86.1,76.2 L86.3,76.8 L86.9,77.3 L87.9,77.9 L89.3,78.5 L90.9,79.2 L92.7,79.9 L94.6,80.5 L96.6,81.2 L98.5,81.9 L100.3,82.6 L101.9,83.2 L103.2,83.8 L104.1,84.4 L104.6,85.0 L104.8,85.5 L104.0,93.4 L103.9,92.9 L103.3,92.4 L102.4,91.8 L101.1,91.2 L99.6,90.5 L97.8,89.9 L95.8,89.2 L93.9,88.5 L91.9,87.8 L90.1,87.1 L88.5,86.5 L87.2,85.9 L86.2,85.3 L85.6,84.7 L85.4,84.2Z" fill="#4a8af0" stroke="#1a3ea8" stroke-width="0.6"/>
<path d="M92.3,83.8 L98.2,85.9" stroke="#8fe6d6" stroke-width="1.6" stroke-linecap="round" opacity="0.8"/>
<path d="M85.4,91.1 L85.5,91.6 L86.1,92.2 L87.0,92.7 L88.3,93.4 L89.8,94.0 L91.5,94.7 L93.3,95.3 L95.1,96.0 L96.9,96.7 L98.6,97.3 L100.0,98.0 L101.2,98.6 L102.1,99.1 L102.6,99.7 L102.7,100.2 L102.0,108.2 L101.8,107.7 L101.3,107.1 L100.5,106.5 L99.3,105.9 L97.8,105.3 L96.2,104.6 L94.4,104.0 L92.5,103.3 L90.7,102.6 L89.0,102.0 L87.5,101.3 L86.3,100.7 L85.3,100.1 L84.8,99.6 L84.6,99.0Z" fill="#4a8af0" stroke="#1a3ea8" stroke-width="0.6"/>
<path d="M91.1,98.6 L96.5,100.6" stroke="#8fe6d6" stroke-width="1.6" stroke-linecap="round" opacity="0.8"/>
<path d="M84.6,105.9 L84.8,106.4 L85.3,107.0 L86.1,107.6 L87.3,108.2 L88.7,108.8 L90.3,109.5 L91.9,110.1 L93.6,110.8 L95.3,111.4 L96.8,112.1 L98.2,112.7 L99.3,113.3 L100.1,113.9 L100.6,114.4 L100.7,114.9 L99.9,122.9 L99.8,122.4 L99.3,121.8 L98.5,121.3 L97.4,120.7 L96.1,120.0 L94.5,119.4 L92.9,118.7 L91.2,118.1 L89.5,117.4 L87.9,116.8 L86.5,116.1 L85.4,115.5 L84.5,115.0 L84.0,114.4 L83.8,113.9Z" fill="#4a8af0" stroke="#1a3ea8" stroke-width="0.6"/>
<path d="M89.9,113.4 L94.9,115.4" stroke="#8fe6d6" stroke-width="1.6" stroke-linecap="round" opacity="0.8"/>
<path d="M118.9,54.6 L119.4,54.6 L119.9,54.5 L120.4,54.5 L120.8,54.5 L121.2,54.6 L121.6,54.6 L122.0,54.6 L122.3,54.7 L122.6,54.7 L122.8,54.8 L123.0,54.8 L123.2,54.9 L123.3,55.0 L123.4,55.2 L123.5,55.3 L125.9,62.9 L125.8,62.8 L125.7,62.7 L125.6,62.6 L125.4,62.5 L125.2,62.4 L125.0,62.3 L124.7,62.3 L124.4,62.2 L124.0,62.2 L123.6,62.2 L123.2,62.2 L122.8,62.2 L122.3,62.2 L121.8,62.2 L121.3,62.2Z" fill="#4a8af0" stroke="#1a3ea8" stroke-width="0.6"/>
<path d="M122.8,58.4 L123.8,58.5" stroke="#8fe6d6" stroke-width="1.6" stroke-linecap="round" opacity="0.8"/>
<path d="M107.3,67.4 L107.6,67.7 L108.3,68.0 L109.4,68.1 L110.8,68.1 L112.5,68.0 L114.4,67.9 L116.4,67.7 L118.4,67.6 L120.5,67.4 L122.4,67.2 L124.1,67.2 L125.5,67.2 L126.6,67.3 L127.3,67.5 L127.7,67.9 L130.1,75.5 L129.7,75.2 L129.0,74.9 L127.9,74.8 L126.5,74.8 L124.8,74.9 L122.9,75.0 L120.9,75.2 L118.8,75.4 L116.8,75.5 L114.9,75.7 L113.2,75.7 L111.8,75.7 L110.7,75.6 L110.0,75.4 L109.7,75.0Z" fill="#4a8af0" stroke="#1a3ea8" stroke-width="0.6"/>
<path d="M115.6,71.7 L121.7,71.2" stroke="#8fe6d6" stroke-width="1.6" stroke-linecap="round" opacity="0.8"/>
<path d="M111.1,80.1 L111.4,80.4 L112.2,80.7 L113.3,80.8 L114.7,80.8 L116.4,80.7 L118.3,80.6 L120.4,80.4 L122.5,80.2 L124.5,80.0 L126.4,79.9 L128.2,79.8 L129.6,79.8 L130.7,79.9 L131.5,80.2 L131.8,80.5 L134.2,88.1 L133.9,87.8 L133.1,87.6 L132.0,87.4 L130.6,87.4 L128.8,87.5 L126.9,87.7 L124.9,87.8 L122.8,88.0 L120.7,88.2 L118.8,88.4 L117.1,88.4 L115.7,88.4 L114.6,88.3 L113.8,88.1 L113.5,87.7Z" fill="#4a8af0" stroke="#1a3ea8" stroke-width="0.6"/>
<path d="M119.5,84.4 L125.7,83.8" stroke="#8fe6d6" stroke-width="1.6" stroke-linecap="round" opacity="0.8"/>
<path d="M114.9,92.8 L115.1,93.1 L115.5,93.3 L116.1,93.4 L116.8,93.5 L117.8,93.5 L118.8,93.5 L120.0,93.4 L121.3,93.3 L122.7,93.2 L124.2,93.1 L125.6,93.0 L127.1,92.8 L128.5,92.7 L129.9,92.6 L131.2,92.5 L133.6,100.1 L132.3,100.2 L130.9,100.3 L129.5,100.4 L128.0,100.6 L126.6,100.7 L125.1,100.9 L123.7,101.0 L122.4,101.1 L121.2,101.1 L120.2,101.1 L119.2,101.1 L118.5,101.0 L117.9,100.9 L117.5,100.7 L117.3,100.4Z" fill="#4a8af0" stroke="#1a3ea8" stroke-width="0.6"/>
<path d="M120.0,97.3 L123.9,97.0" stroke="#8fe6d6" stroke-width="1.6" stroke-linecap="round" opacity="0.8"/>
<circle cx="116.8" cy="56.5" r="4.5" fill="url(#gK)"/>
<circle cx="112.9" cy="61.1" r="5.0" fill="url(#gW)"/>
<circle cx="129.8" cy="74.9" r="5.5" fill="url(#gW)"/>
<circle cx="105.3" cy="98.5" r="5.4" fill="url(#gW)"/>
<circle cx="106.4" cy="107.5" r="4.0" fill="url(#gW)"/>
<circle cx="108.9" cy="111.5" r="4.0" fill="url(#gW)"/>
<circle cx="105.9" cy="115.5" r="4.0" fill="url(#gW)"/>
<circle cx="110.2" cy="117.5" r="4.0" fill="url(#gW)"/>
<circle cx="107.5" cy="121.0" r="3.6" fill="url(#gW)"/>
<circle cx="96.1" cy="68.0" r="5.5" fill="url(#gK)"/>
<circle cx="101.4" cy="74.1" r="5.0" fill="url(#gK)"/>
<path d="M131.2,97 C129,101 127,103 122,104 C117,105 116,109 118,112.3 C120,114 124,112.5 125,115 C125.5,118 120,121 114.9,120.5" fill="none" stroke="#2a6ae6" stroke-width="1.5"/>
<path d="M93,126 C95,127 98,127 100.6,126.6 M92.4,129 L93,125" fill="none" stroke="#2a6ae6" stroke-width="1.2"/>
<circle cx="92.6" cy="129.5" r="5.0" fill="url(#gO)"/>
<circle cx="112.0" cy="130.5" r="5.0" fill="url(#gO)"/>
<circle cx="120.5" cy="133.9" r="5.0" fill="url(#gO)"/>
<circle cx="128.8" cy="136.2" r="5.0" fill="url(#gO)"/>
<circle cx="106.2" cy="136.6" r="5.0" fill="url(#gO)"/>
<circle cx="123.0" cy="140.0" r="5.0" fill="url(#gO)"/>
<circle cx="116.0" cy="140.0" r="5.0" fill="url(#gO)"/>
<circle cx="96.6" cy="141.5" r="5.0" fill="url(#gO)"/>
<circle cx="84.3" cy="142.5" r="5.0" fill="url(#gO)"/>
<circle cx="130.4" cy="142.9" r="5.0" fill="url(#gO)"/>
<circle cx="125.5" cy="144.4" r="5.0" fill="url(#gO)"/>
<circle cx="94.8" cy="144.6" r="5.0" fill="url(#gO)"/>
<circle cx="118.9" cy="146.6" r="5.0" fill="url(#gO)"/>
<circle cx="119.0" cy="147.3" r="5.0" fill="url(#gO)"/>
<circle cx="83.5" cy="148.0" r="5.0" fill="url(#gO)"/>
<circle cx="137.0" cy="149.0" r="5.0" fill="url(#gO)"/>
<circle cx="111.3" cy="150.2" r="5.0" fill="url(#gO)"/>
<circle cx="134.0" cy="150.6" r="5.0" fill="url(#gO)"/>
<circle cx="122.5" cy="152.5" r="5.0" fill="url(#gO)"/>
<circle cx="127.2" cy="153.2" r="5.0" fill="url(#gO)"/>
<circle cx="127.4" cy="153.4" r="5.0" fill="url(#gO)"/>
<circle cx="134.5" cy="157.0" r="5.0" fill="url(#gO)"/>
<circle cx="99.1" cy="157.2" r="5.0" fill="url(#gO)"/>
<circle cx="91.4" cy="158.0" r="5.0" fill="url(#gO)"/>
<circle cx="118.1" cy="158.5" r="5.0" fill="url(#gO)"/>
<circle cx="123.5" cy="160.0" r="5.0" fill="url(#gO)"/>
<circle cx="103.5" cy="161.0" r="5.0" fill="url(#gO)"/>
<circle cx="109.8" cy="161.3" r="5.0" fill="url(#gO)"/>
<circle cx="76.9" cy="161.6" r="5.0" fill="url(#gO)"/>
<circle cx="113.0" cy="162.0" r="5.0" fill="url(#gO)"/>
<circle cx="128.5" cy="162.5" r="5.0" fill="url(#gO)"/>
<circle cx="88.4" cy="163.4" r="5.0" fill="url(#gO)"/>
<circle cx="114.0" cy="164.0" r="5.0" fill="url(#gO)"/>
<circle cx="117.2" cy="165.2" r="5.0" fill="url(#gO)"/>
<circle cx="101.5" cy="165.4" r="5.0" fill="url(#gO)"/>
<circle cx="106.8" cy="166.0" r="5.0" fill="url(#gO)"/>
<circle cx="91.8" cy="167.5" r="5.0" fill="url(#gO)"/>
<circle cx="112.5" cy="168.0" r="5.0" fill="url(#gO)"/>
<circle cx="99.3" cy="171.0" r="5.0" fill="url(#gO)"/>
<circle cx="119.2" cy="171.6" r="5.0" fill="url(#gO)"/>
<circle cx="87.6" cy="173.3" r="5.0" fill="url(#gO)"/>
<circle cx="107.8" cy="175.8" r="5.0" fill="url(#gO)"/>
<circle cx="96.8" cy="179.5" r="5.0" fill="url(#gO)"/>
<text x="110.60" y="22.00" font-size="13.5" fill="#ff1a1a" stroke="#ff1a1a" stroke-width="0.3" text-anchor="start" textLength="56.7" lengthAdjust="spacingAndGlyphs" >Q39C-R1</text>
<text x="59.30" y="50.20" font-size="13.5" fill="#000" stroke="#000" stroke-width="0.3" text-anchor="start" >a</text>
<text x="134.20" y="43.80" font-size="13.5" fill="#000" stroke="#000" stroke-width="0.3" text-anchor="start" >b</text>
<text x="127.80" y="66.40" font-size="10.5" fill="#7f8f90" stroke="#7f8f90" stroke-width="0.3" text-anchor="start" textLength="15.8" lengthAdjust="spacingAndGlyphs" >L35</text>
<text x="138.60" y="84.70" font-size="13.2" fill="#7f8f90" stroke="#7f8f90" stroke-width="0.3" text-anchor="start" textLength="21" lengthAdjust="spacingAndGlyphs" >Leu</text>
<text x="138.8" y="95.7" font-size="11" fill="#7f8f90" stroke="#7f8f90" stroke-width="0.3">CδH<tspan font-size="8.5" dy="2.3">3</tspan></text>
<text x="114.40" y="188.50" font-size="13.5" fill="#ff6a10" stroke="#ff6a10" stroke-width="0.3" text-anchor="start" textLength="55.5" lengthAdjust="spacingAndGlyphs" >K88C-R1</text>
<text x="5.8" y="104.5" font-size="14" fill="#000" font-style="italic" stroke="#000" stroke-width="0.12">P(r<tspan font-size="11" dy="2">aC</tspan><tspan dy="-2">)</tspan></text>
<text x="171.2" y="106.75" font-size="14" fill="#000" font-style="italic" stroke="#000" stroke-width="0.12">P(r<tspan font-size="11" dy="2">bC</tspan><tspan dy="-2">)</tspan></text>
</svg></body></html>
